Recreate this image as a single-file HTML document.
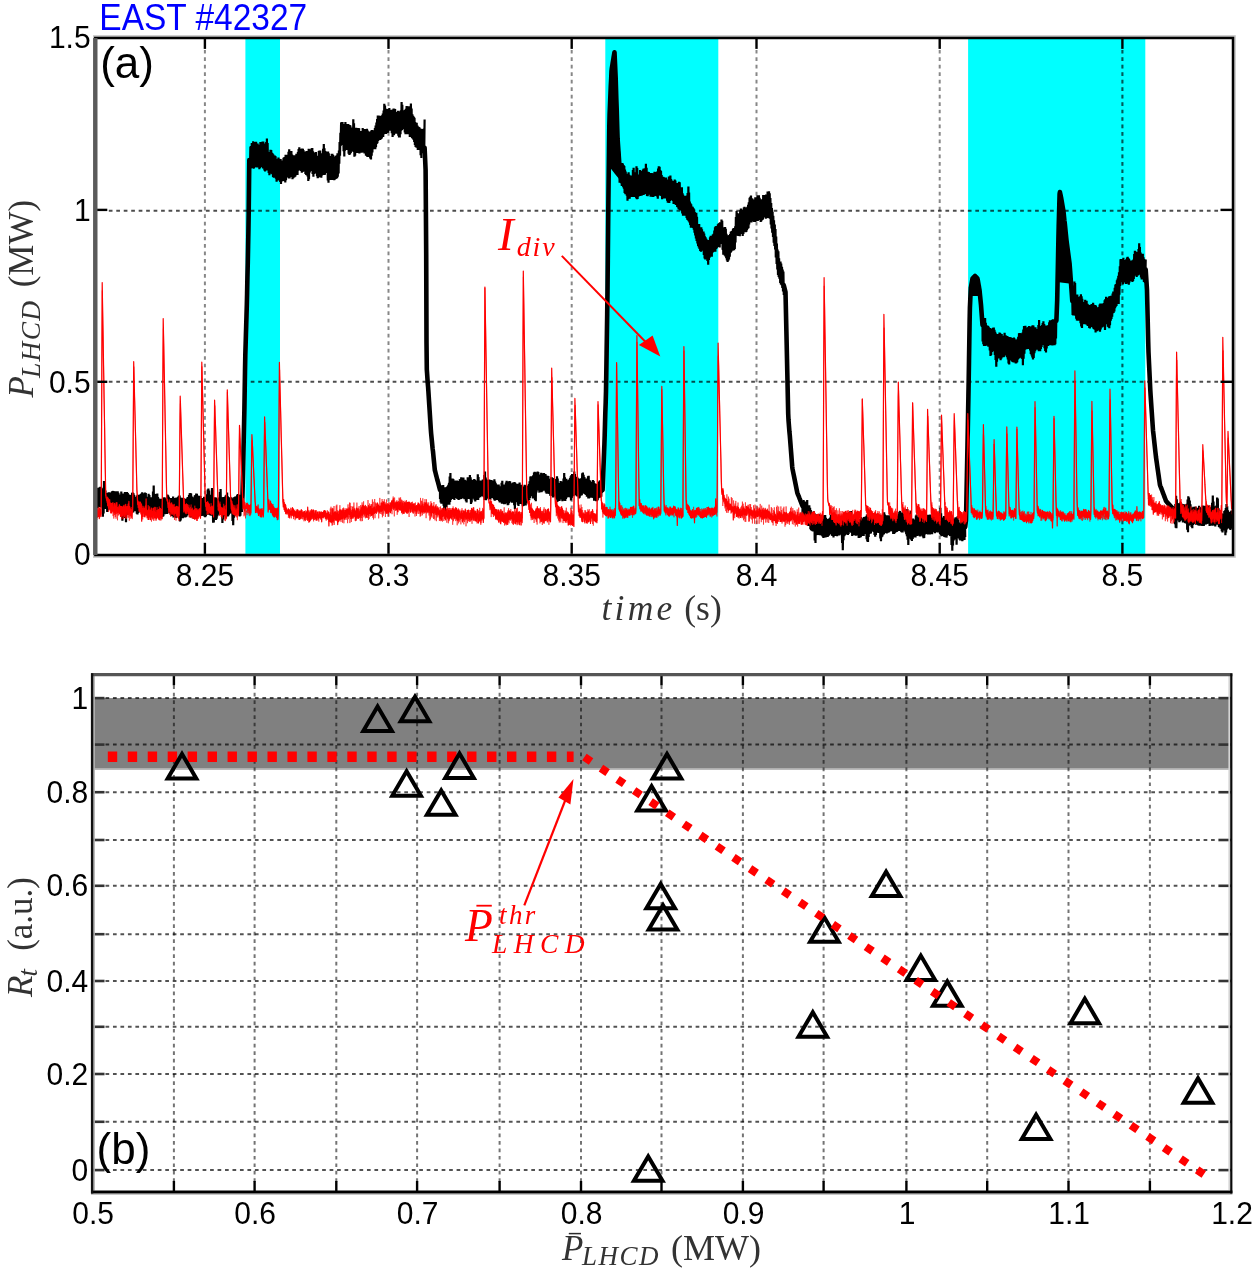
<!DOCTYPE html>
<html lang="en">
<head>
<meta charset="utf-8">
<title>EAST #42327</title>
<style>html,body{margin:0;padding:0;background:#fff}svg{display:block}</style>
</head>
<body>
<svg width="1259" height="1275" viewBox="0 0 1259 1275">
<rect x="0" y="0" width="1259" height="1275" fill="#ffffff"/>
<g id="panel-a">
<defs><clipPath id="clipA"><rect x="94.8" y="37.9" width="1137.7" height="515.9"/></clipPath></defs>
<rect x="245.4" y="37.9" width="34.6" height="515.9" fill="#00ffff"/>
<rect x="605.3" y="37.9" width="113.0" height="515.9" fill="#00ffff"/>
<rect x="968.1" y="37.9" width="177.2" height="515.9" fill="#00ffff"/>
<line x1="204.9" y1="49.9" x2="204.9" y2="543.8" stroke="#000" stroke-opacity="0.47" stroke-width="2" stroke-dasharray="3.7 3.77"/>
<line x1="388.5" y1="49.9" x2="388.5" y2="543.8" stroke="#000" stroke-opacity="0.47" stroke-width="2" stroke-dasharray="3.7 3.77"/>
<line x1="571.7" y1="49.9" x2="571.7" y2="543.8" stroke="#000" stroke-opacity="0.47" stroke-width="2" stroke-dasharray="3.7 3.77"/>
<line x1="756.5" y1="49.9" x2="756.5" y2="543.8" stroke="#000" stroke-opacity="0.47" stroke-width="2" stroke-dasharray="3.7 3.77"/>
<line x1="939.7" y1="49.9" x2="939.7" y2="543.8" stroke="#000" stroke-opacity="0.47" stroke-width="2" stroke-dasharray="3.7 3.77"/>
<line x1="1122.4" y1="49.9" x2="1122.4" y2="543.8" stroke="#000" stroke-opacity="0.47" stroke-width="2" stroke-dasharray="3.7 3.77"/>
<line x1="108.8" y1="381.8" x2="1220.5" y2="381.8" stroke="#000" stroke-opacity="0.7" stroke-width="2" stroke-dasharray="3.7 3.77"/>
<line x1="108.8" y1="210.8" x2="1220.5" y2="210.8" stroke="#000" stroke-opacity="0.7" stroke-width="2" stroke-dasharray="3.7 3.77"/>
<line x1="1122.4" y1="49.9" x2="1122.4" y2="543.8" stroke="#000" stroke-opacity="0.35" stroke-width="2" stroke-dasharray="3.7 3.77"/>
<g clip-path="url(#clipA)">
<polyline fill="none" stroke="#000000" stroke-width="2.2" stroke-linejoin="miter" stroke-miterlimit="3" points="95.0,508.2 95.4,488.5 95.7,509.5 96.1,492.3 96.4,507.5 96.8,488.0 97.2,508.5 97.5,487.7 97.9,508.1 98.2,490.6 98.6,507.1 99.0,489.6 99.3,504.8 99.7,487.3 100.0,504.6 100.4,486.7 100.8,507.4 101.1,487.2 101.5,505.2 101.8,488.2 102.2,507.3 102.6,489.6 102.9,516.7 103.3,488.2 103.6,513.5 104.0,481.0 104.4,508.6 104.7,483.6 105.1,508.8 105.4,490.6 105.8,509.0 106.2,493.0 106.5,508.9 106.9,492.9 107.2,511.9 107.6,493.9 108.0,510.2 108.3,492.6 108.7,509.4 109.0,492.2 109.4,509.2 109.8,492.4 110.1,509.3 110.5,493.8 110.8,508.4 111.2,492.8 111.6,507.4 111.9,491.6 112.3,505.5 112.6,491.1 113.0,508.0 113.4,490.9 113.7,510.2 114.1,492.6 114.4,510.3 114.8,493.1 115.2,508.0 115.5,491.2 115.9,507.8 116.2,491.3 116.6,509.5 117.0,492.1 117.3,509.1 117.7,491.3 118.0,509.2 118.4,492.8 118.8,508.8 119.1,494.5 119.5,510.7 119.8,496.3 120.2,513.7 120.6,495.3 120.9,513.6 121.3,491.6 121.6,513.8 122.0,493.4 122.4,520.8 122.7,495.7 123.1,517.6 123.4,494.1 123.8,512.2 124.2,493.6 124.5,513.3 124.9,492.1 125.2,517.9 125.6,493.3 126.0,522.3 126.3,492.1 126.7,514.9 127.0,492.0 127.4,510.9 127.8,493.1 128.1,510.0 128.5,494.5 128.8,510.6 129.2,494.6 129.6,510.5 129.9,496.4 130.3,511.2 130.6,496.0 131.0,511.3 131.4,494.9 131.7,510.9 132.1,492.8 132.4,511.7 132.8,492.4 133.2,512.6 133.5,493.2 133.9,510.7 134.2,495.0 134.6,511.3 135.0,496.8 135.3,510.8 135.7,496.9 136.0,511.1 136.4,496.9 136.8,513.6 137.1,495.4 137.5,514.4 137.8,494.8 138.2,512.9 138.6,495.5 138.9,512.1 139.3,496.4 139.6,512.0 140.0,494.7 140.4,509.7 140.7,493.9 141.1,508.4 141.4,493.4 141.8,510.5 142.2,492.3 142.5,511.2 142.9,493.2 143.2,509.7 143.6,493.8 144.0,509.7 144.3,494.3 144.7,509.6 145.0,492.5 145.4,510.5 145.8,493.0 146.1,512.4 146.5,496.8 146.8,514.5 147.2,496.9 147.6,513.7 147.9,497.0 148.3,513.8 148.6,493.8 149.0,514.2 149.4,494.9 149.7,515.0 150.1,498.5 150.4,516.5 150.8,497.5 151.2,516.5 151.5,497.2 151.9,517.3 152.2,498.4 152.6,515.3 153.0,491.5 153.3,512.2 153.7,485.4 154.0,512.3 154.4,493.7 154.8,514.2 155.1,496.7 155.5,513.1 155.8,495.6 156.2,512.4 156.6,494.1 156.9,515.0 157.3,493.6 157.6,514.2 158.0,497.1 158.4,513.7 158.7,498.6 159.1,514.0 159.4,499.2 159.8,512.7 160.2,499.1 160.5,513.6 160.9,498.7 161.2,513.8 161.6,499.9 162.0,513.7 162.3,500.0 162.7,516.9 163.0,500.2 163.4,516.4 163.8,497.6 164.1,513.3 164.5,497.2 164.8,514.1 165.2,498.4 165.6,513.6 165.9,499.2 166.3,513.1 166.6,498.4 167.0,513.9 167.4,494.4 167.7,512.6 168.1,495.2 168.4,513.3 168.8,496.9 169.2,512.3 169.5,498.5 169.9,512.7 170.2,498.0 170.6,514.4 171.0,497.9 171.3,515.7 171.7,500.2 172.0,515.9 172.4,499.4 172.8,515.2 173.1,496.4 173.5,517.4 173.8,500.0 174.2,516.9 174.6,501.4 174.9,516.6 175.3,498.1 175.6,517.5 176.0,497.8 176.4,518.0 176.7,497.6 177.1,516.6 177.4,497.7 177.8,513.3 178.2,496.7 178.5,512.2 178.9,495.9 179.2,515.1 179.6,495.5 180.0,521.6 180.3,497.4 180.7,520.4 181.0,499.1 181.4,517.8 181.8,498.9 182.1,516.4 182.5,497.8 182.8,518.3 183.2,498.0 183.6,514.9 183.9,498.4 184.3,516.6 184.6,499.4 185.0,517.5 185.4,498.7 185.7,517.3 186.1,499.8 186.4,516.7 186.8,498.5 187.2,515.4 187.5,497.3 187.9,514.1 188.2,496.9 188.6,513.7 189.0,494.9 189.3,512.0 189.7,493.2 190.0,516.9 190.4,492.9 190.8,517.6 191.1,493.6 191.5,514.6 191.8,496.4 192.2,514.6 192.6,497.5 192.9,513.7 193.3,497.8 193.6,518.7 194.0,497.2 194.4,518.2 194.7,495.5 195.1,514.0 195.4,495.1 195.8,512.3 196.2,493.6 196.5,512.6 196.9,493.8 197.2,510.8 197.6,495.5 198.0,512.4 198.3,497.9 198.7,514.8 199.0,497.3 199.4,515.7 199.8,495.8 200.1,516.0 200.5,496.1 200.8,515.3 201.2,498.3 201.6,516.1 201.9,499.9 202.3,514.6 202.6,498.1 203.0,514.2 203.4,498.0 203.7,515.7 204.1,496.8 204.4,516.6 204.8,498.4 205.2,517.2 205.5,498.7 205.9,516.3 206.2,498.3 206.6,514.6 207.0,494.3 207.3,514.0 207.7,489.5 208.0,514.7 208.4,488.5 208.8,514.2 209.1,490.4 209.5,514.3 209.8,494.7 210.2,515.3 210.6,496.5 210.9,515.6 211.3,497.7 211.6,515.7 212.0,488.0 212.4,515.4 212.7,490.0 213.1,522.7 213.4,498.9 213.8,522.6 214.2,498.1 214.5,517.5 214.9,497.2 215.2,517.7 215.6,497.2 216.0,519.9 216.3,498.0 216.7,518.7 217.0,500.8 217.4,516.1 217.8,499.9 218.1,514.3 218.5,498.8 218.8,514.0 219.2,497.6 219.6,514.6 219.9,492.1 220.3,513.6 220.6,488.9 221.0,513.0 221.4,497.3 221.7,515.0 222.1,498.1 222.4,523.0 222.8,498.4 223.2,519.5 223.5,497.0 223.9,514.6 224.2,498.2 224.6,516.3 225.0,496.8 225.3,515.2 225.7,495.6 226.0,517.8 226.4,494.8 226.8,516.4 227.1,492.6 227.5,516.4 227.8,496.2 228.2,516.1 228.6,499.5 228.9,514.7 229.3,497.7 229.6,513.7 230.0,497.4 230.4,512.5 230.7,498.1 231.1,513.3 231.4,497.3 231.8,512.2 232.2,498.3 232.5,521.1 232.9,498.8 233.2,525.3 233.6,499.4 234.0,517.7 234.3,497.0 234.7,514.3 235.0,496.7 235.4,513.6 235.8,496.4 236.1,513.9 236.5,496.8 236.8,513.3 237.2,494.7 237.6,513.0 237.9,493.9 238.3,511.6 238.6,494.6 239.0,512.5 239.4,494.8 239.7,516.6 240.1,494.8 240.4,515.8 240.8,496.3 241.2,511.8 241.5,496.0 241.9,512.0"/>
<polyline fill="none" stroke="#000000" stroke-width="4.6" stroke-linejoin="round" stroke-linecap="round" points="241.9,506.0 242.5,495.0 242.8,481.6 243.1,468.2 243.4,454.8 243.7,441.4 244.0,427.3 244.4,408.7 244.7,390.2 245.0,371.6 245.3,355.4 245.6,345.4 245.9,335.4 246.2,325.5 246.5,315.5 246.8,305.6 247.1,293.2 247.4,277.7 247.8,262.3 248.1,246.8 248.4,231.4 248.7,213.0 249.0,186.5 249.3,160.0"/>
<polyline fill="none" stroke="#000000" stroke-width="2.2" stroke-linejoin="miter" stroke-miterlimit="3" points="249.3,160.0 250.0,168.1 250.4,146.5 250.7,168.5 251.1,146.1 251.4,165.3 251.8,143.1 252.2,165.2 252.5,143.8 252.9,167.9 253.2,141.3 253.6,168.7 254.0,142.1 254.3,167.9 254.7,145.4 255.0,167.1 255.4,142.4 255.8,163.9 256.1,141.8 256.5,166.1 256.8,144.5 257.2,167.4 257.6,143.6 257.9,164.9 258.3,144.8 258.6,165.8 259.0,146.3 259.4,169.3 259.7,145.9 260.1,167.9 260.4,142.1 260.8,167.0 261.2,143.9 261.5,166.9 261.9,142.9 262.2,166.7 262.6,141.6 263.0,168.4 263.3,141.6 263.7,167.9 264.0,143.5 264.4,170.6 264.8,148.8 265.1,171.6 265.5,146.3 265.8,170.2 266.2,142.0 266.6,169.7 266.9,138.4 267.3,170.5 267.6,142.9 268.0,169.9 268.4,152.0 268.7,172.9 269.1,154.1 269.4,175.3 269.8,152.0 270.2,173.7 270.5,149.8 270.9,173.8 271.2,149.9 271.6,172.9 272.0,152.8 272.3,174.3 272.7,153.5 273.0,177.0 273.4,154.6 273.8,177.7 274.1,156.2 274.5,177.2 274.8,155.5 275.2,176.2 275.6,156.2 275.9,178.7 276.3,159.1 276.6,181.7 277.0,160.5 277.4,180.5 277.7,159.7 278.1,178.5 278.4,157.6 278.8,177.2 279.2,158.7 279.5,180.4 279.9,159.0 280.2,181.9 280.6,159.0 281.0,184.1 281.3,160.4 281.7,181.5 282.0,162.5 282.4,180.2 282.8,161.4 283.1,180.5 283.5,157.8 283.8,180.9 284.2,157.3 284.6,181.3 284.9,157.0 285.3,182.4 285.6,154.8 286.0,180.2 286.4,154.7 286.7,177.4 287.1,156.6 287.4,176.7 287.8,155.6 288.2,175.4 288.5,151.7 288.9,178.5 289.2,149.3 289.6,178.6 290.0,155.4 290.3,175.2 290.7,154.6 291.0,176.0 291.4,151.0 291.8,177.0 292.1,154.4 292.5,179.3 292.8,155.3 293.2,178.2 293.6,157.1 293.9,177.5 294.3,157.7 294.6,177.2 295.0,155.3 295.4,176.4 295.7,155.3 296.1,175.0 296.4,153.7 296.8,174.5 297.2,153.7 297.5,175.0 297.9,152.0 298.2,170.7 298.6,148.9 299.0,170.4 299.3,147.3 299.7,169.0 300.0,148.7 300.4,169.1 300.8,150.3 301.1,171.1 301.5,148.9 301.8,172.7 302.2,148.5 302.6,171.9 302.9,148.8 303.3,170.7 303.6,150.3 304.0,169.2 304.4,152.0 304.7,171.4 305.1,151.8 305.4,173.9 305.8,153.0 306.2,175.0 306.5,151.0 306.9,175.2 307.2,151.9 307.6,176.5 308.0,151.8 308.3,180.9 308.7,148.8 309.0,179.2 309.4,150.6 309.8,172.6 310.1,150.1 310.5,171.1 310.8,149.3 311.2,170.9 311.6,148.2 311.9,169.6 312.3,147.9 312.6,174.0 313.0,151.2 313.4,176.7 313.7,153.2 314.1,173.9 314.4,154.3 314.8,171.9 315.2,152.5 315.5,172.7 315.9,152.0 316.2,173.5 316.6,155.7 317.0,176.3 317.3,158.1 317.7,178.3 318.0,156.6 318.4,177.8 318.8,151.0 319.1,176.9 319.5,150.4 319.8,173.7 320.2,150.5 320.6,173.8 320.9,153.2 321.3,177.8 321.6,153.7 322.0,175.4 322.4,155.2 322.7,173.7 323.1,148.7 323.4,174.2 323.8,144.1 324.2,175.1 324.5,148.3 324.9,174.8 325.2,150.9 325.6,173.1 326.0,154.1 326.3,172.0 326.7,151.5 327.0,173.0 327.4,151.7 327.8,180.5 328.1,151.5 328.5,182.7 328.8,153.3 329.2,179.8 329.6,155.9 329.9,178.9 330.3,157.6 330.6,179.9 331.0,156.2 331.4,178.9 331.7,153.8 332.1,179.9 332.4,153.7 332.8,179.4 333.2,154.9 333.5,179.4 333.9,156.9 334.2,180.2 334.6,157.5 335.0,179.6 335.3,156.5 335.7,179.0 336.0,155.8 336.4,178.5 336.8,155.2 337.1,178.2 337.5,153.3 337.8,176.7 338.2,155.2 338.6,173.6 338.9,150.6 339.3,163.8 339.6,142.0 340.0,155.7 340.4,132.8 340.7,145.9 341.1,122.6 341.4,142.5 341.8,121.9 342.2,144.1 342.5,122.1 342.9,145.0 343.2,125.3 343.6,151.2 344.0,126.7 344.3,156.6 344.7,123.9 345.0,150.7 345.4,122.1 345.8,147.3 346.1,124.9 346.5,149.9 346.8,126.3 347.2,149.6 347.6,124.1 347.9,149.0 348.3,124.0 348.6,153.8 349.0,124.9 349.4,155.1 349.7,125.0 350.1,154.2 350.4,125.5 350.8,153.1 351.2,127.6 351.5,151.4 351.9,128.8 352.2,149.6 352.6,127.7 353.0,151.2 353.3,119.3 353.7,151.9 354.0,123.2 354.4,156.7 354.8,130.5 355.1,155.7 355.5,127.8 355.8,152.2 356.2,127.8 356.6,152.6 356.9,130.8 357.3,153.1 357.6,129.6 358.0,152.0 358.4,127.9 358.7,151.3 359.1,128.2 359.4,153.5 359.8,131.1 360.2,152.3 360.5,133.6 360.9,152.0 361.2,131.0 361.6,152.8 362.0,131.1 362.3,152.1 362.7,127.9 363.0,152.1 363.4,132.2 363.8,152.6 364.1,132.8 364.5,153.5 364.8,129.1 365.2,153.4 365.6,132.7 365.9,155.5 366.3,133.8 366.6,155.9 367.0,128.7 367.4,156.9 367.7,130.6 368.1,156.9 368.4,133.4 368.8,156.9 369.2,132.6 369.5,155.9 369.9,131.5 370.2,158.6 370.6,131.4 371.0,159.4 371.3,130.5 371.7,155.7 372.0,130.0 372.4,152.6 372.8,131.2 373.1,149.3 373.5,131.5 373.8,147.3 374.2,130.3 374.6,147.8 374.9,127.9 375.3,149.3 375.6,125.6 376.0,147.2 376.4,122.4 376.7,144.0 377.1,119.0 377.4,143.3 377.8,115.4 378.2,141.0 378.5,115.4 378.9,139.6 379.2,115.8 379.6,139.5 380.0,119.3 380.3,139.9 380.7,118.1 381.0,139.1 381.4,115.8 381.8,138.5 382.1,115.2 382.5,137.0 382.8,113.6 383.2,137.1 383.6,110.5 383.9,134.2 384.3,103.7 384.6,130.9 385.0,105.5 385.4,134.1 385.7,112.4 386.1,133.9 386.4,108.8 386.8,130.4 387.2,108.9 387.5,132.9 387.9,111.6 388.2,132.4 388.6,110.0 389.0,129.2 389.3,108.1 389.7,129.4 390.0,109.8 390.4,130.7 390.8,109.7 391.1,130.5 391.5,110.3 391.8,133.2 392.2,110.7 392.6,137.1 392.9,109.4 393.3,135.2 393.6,108.5 394.0,135.2 394.4,108.7 394.7,133.0 395.1,109.1 395.4,133.1 395.8,112.0 396.2,133.8 396.5,112.9 396.9,133.8 397.2,112.1 397.6,133.6 398.0,110.8 398.3,135.8 398.7,111.2 399.0,137.5 399.4,111.4 399.8,137.6 400.1,112.0 400.5,134.2 400.8,110.3 401.2,130.8 401.6,101.9 401.9,129.9 402.3,104.7 402.6,129.3 403.0,112.5 403.4,129.0 403.7,111.4 404.1,128.4 404.4,110.2 404.8,132.6 405.2,109.7 405.5,134.2 405.9,108.8 406.2,130.6 406.6,106.0 407.0,131.8 407.3,107.5 407.7,134.3 408.0,108.0 408.4,131.6 408.8,106.2 409.1,132.9 409.5,107.1 409.8,137.0 410.2,107.2 410.6,135.3 410.9,103.6 411.3,135.5 411.6,108.6 412.0,137.9 412.4,114.3 412.7,138.8 413.1,115.7 413.4,139.8 413.8,116.7 414.2,141.9 414.5,117.7 414.9,145.1 415.2,122.0 415.6,147.1 416.0,123.6 416.3,147.4 416.7,122.8 417.0,147.8 417.4,125.4 417.8,150.0 418.1,126.5 418.5,148.5 418.8,126.9 419.2,148.0 419.6,127.5 419.9,149.9 420.3,130.5 420.6,155.2 421.0,128.7 421.4,158.1 421.7,129.1 422.1,152.9 422.4,130.7 422.8,150.6 423.2,130.9 423.5,153.2 423.9,128.4 424.2,154.4 424.6,119.6"/>
<polyline fill="none" stroke="#000000" stroke-width="4.6" stroke-linejoin="round" stroke-linecap="round" points="424.6,147.7 425.6,170.0 425.9,210.9 426.2,253.7 426.5,342.6 426.8,369.3 427.1,373.7 427.4,378.1 427.7,382.5 428.1,387.0 428.4,391.4 428.7,396.1 429.0,400.8 429.3,405.5 429.6,410.2 429.9,414.9 430.2,419.6 430.5,424.3 430.8,429.1 431.1,433.1 431.4,436.2 431.7,439.3 432.0,442.3 432.3,445.4 432.6,448.5 433.0,451.5 433.3,454.6 433.6,457.7 433.9,460.7 434.2,463.8 434.5,466.9 434.8,469.9 435.1,471.1 435.4,472.3 435.7,473.5 436.0,474.7 436.3,475.9 436.6,477.0 436.9,478.2 437.2,479.4 437.5,480.6 437.9,481.8 438.2,482.9 438.5,484.1 438.8,485.3 439.1,486.5 439.4,487.6 439.7,488.8 440.0,490.0"/>
<polyline fill="none" stroke="#000000" stroke-width="2.2" stroke-linejoin="miter" stroke-miterlimit="3" points="440.0,490.0 440.0,498.9 440.4,485.0 440.7,502.4 441.1,485.4 441.4,503.7 441.8,485.8 442.2,502.4 442.5,486.5 442.9,502.3 443.2,484.9 443.6,505.8 444.0,487.3 444.3,513.6 444.7,489.0 445.0,513.6 445.4,488.0 445.8,506.4 446.1,487.3 446.5,507.3 446.8,486.9 447.2,504.7 447.6,486.1 447.9,500.2 448.3,484.7 448.6,503.6 449.0,482.8 449.4,504.8 449.7,476.5 450.1,502.1 450.4,473.1 450.8,500.1 451.2,478.8 451.5,498.2 451.9,480.7 452.2,499.0 452.6,478.4 453.0,498.2 453.3,478.9 453.7,497.1 454.0,481.8 454.4,499.9 454.8,480.5 455.1,498.0 455.5,481.4 455.8,497.8 456.2,482.1 456.6,497.4 456.9,480.5 457.3,499.1 457.6,481.2 458.0,499.3 458.4,483.7 458.7,500.0 459.1,481.1 459.4,499.2 459.8,479.2 460.2,499.3 460.5,479.0 460.9,499.0 461.2,477.2 461.6,498.0 462.0,477.4 462.3,498.5 462.7,479.0 463.0,497.4 463.4,477.6 463.8,498.6 464.1,479.8 464.5,499.2 464.8,479.7 465.2,499.3 465.6,481.1 465.9,501.3 466.3,482.0 466.6,502.4 467.0,480.5 467.4,495.9 467.7,477.2 468.1,496.0 468.4,478.7 468.8,499.1 469.2,478.0 469.5,497.4 469.9,475.1 470.2,499.3 470.6,477.3 471.0,504.0 471.3,479.6 471.7,502.4 472.0,480.0 472.4,498.5 472.8,480.3 473.1,498.7 473.5,480.8 473.8,498.6 474.2,478.9 474.6,500.3 474.9,479.8 475.3,501.4 475.6,483.8 476.0,499.6 476.4,482.7 476.7,499.7 477.1,480.4 477.4,499.9 477.8,474.2 478.2,500.0 478.5,477.0 478.9,497.7 479.2,480.8 479.6,496.6 480.0,480.7 480.3,497.2 480.7,480.6 481.0,496.0 481.4,483.0 481.8,496.2 482.1,480.4 482.5,494.8 482.8,479.4 483.2,496.4 483.6,480.0 483.9,497.3 484.3,475.1 484.6,500.1 485.0,471.5 485.4,499.7 485.7,477.5 486.1,500.3 486.4,479.3 486.8,498.8 487.2,480.0 487.5,497.4 487.9,480.5 488.2,497.1 488.6,482.2 489.0,498.1 489.3,479.5 489.7,499.4 490.0,480.3 490.4,499.4 490.8,480.0 491.1,498.0 491.5,480.0 491.8,497.3 492.2,481.7 492.6,497.1 492.9,482.5 493.3,498.2 493.6,480.7 494.0,499.5 494.4,479.2 494.7,500.7 495.1,481.5 495.4,500.1 495.8,483.3 496.2,498.9 496.5,484.8 496.9,499.1 497.2,485.1 497.6,499.9 498.0,484.6 498.3,499.6 498.7,484.5 499.0,501.3 499.4,486.3 499.8,502.5 500.1,487.4 500.5,501.5 500.8,487.3 501.2,501.3 501.6,482.7 501.9,503.8 502.3,480.8 502.6,501.7 503.0,484.6 503.4,501.2 503.7,486.4 504.1,504.3 504.4,487.2 504.8,504.2 505.2,484.5 505.5,502.4 505.9,482.4 506.2,502.8 506.6,480.8 507.0,503.5 507.3,483.8 507.7,505.3 508.0,485.7 508.4,504.7 508.8,481.5 509.1,502.9 509.5,481.1 509.8,500.9 510.2,481.6 510.6,499.4 510.9,483.3 511.3,501.8 511.6,485.5 512.0,502.6 512.4,483.5 512.7,501.1 513.1,482.5 513.4,500.2 513.8,482.7 514.2,505.3 514.5,482.1 514.9,508.9 515.2,482.8 515.6,502.3 516.0,485.6 516.3,501.9 516.7,485.4 517.0,502.3 517.4,483.8 517.8,504.8 518.1,484.7 518.5,506.1 518.8,483.7 519.2,499.2 519.6,482.5 519.9,501.2 520.3,485.0 520.6,504.0 521.0,484.8 521.4,501.1 521.7,487.0 522.1,504.2 522.4,490.0 522.8,506.1 523.2,489.3 523.5,506.0 523.9,486.6 524.2,504.6 524.6,484.8 525.0,504.4 525.3,485.2 525.7,505.6 526.0,486.0 526.4,503.3 526.8,485.5 527.1,501.8 527.5,485.5 527.8,501.0 528.2,485.7 528.6,500.0 528.9,484.0 529.3,500.2 529.6,481.2 530.0,498.1 530.4,476.5 530.7,495.1 531.1,476.3 531.4,496.3 531.8,478.2 532.2,496.1 532.5,476.5 532.9,498.4 533.2,475.3 533.6,496.2 534.0,472.4 534.3,490.5 534.7,471.8 535.0,500.1 535.4,475.4 535.8,501.2 536.1,473.3 536.5,492.6 536.8,472.3 537.2,490.3 537.6,471.6 537.9,488.6 538.3,472.0 538.6,490.4 539.0,475.4 539.4,492.6 539.7,476.3 540.1,490.3 540.4,474.4 540.8,490.7 541.2,472.8 541.5,492.1 541.9,474.5 542.2,491.4 542.6,473.5 543.0,490.1 543.3,473.2 543.7,490.7 544.0,473.0 544.4,490.5 544.8,473.9 545.1,490.5 545.5,474.0 545.8,492.5 546.2,475.6 546.6,493.8 546.9,476.8 547.3,493.7 547.6,475.7 548.0,490.9 548.4,475.9 548.7,492.2 549.1,479.0 549.4,494.1 549.8,478.7 550.2,495.7 550.5,479.2 550.9,494.2 551.2,477.3 551.6,493.8 552.0,477.2 552.3,496.1 552.7,478.3 553.0,497.5 553.4,478.1 553.8,496.5 554.1,478.9 554.5,496.3 554.8,479.0 555.2,495.6 555.6,480.0 555.9,497.7 556.3,480.6 556.6,499.5 557.0,476.3 557.4,502.1 557.7,478.5 558.1,501.0 558.4,482.9 558.8,500.1 559.2,483.1 559.5,500.9 559.9,483.3 560.2,498.9 560.6,481.1 561.0,499.0 561.3,481.6 561.7,499.5 562.0,483.7 562.4,501.2 562.8,483.1 563.1,500.8 563.5,478.6 563.8,500.2 564.2,472.9 564.6,497.9 564.9,477.2 565.3,501.0 565.6,480.9 566.0,499.0 566.4,478.7 566.7,496.9 567.1,480.7 567.4,497.4 567.8,482.0 568.2,497.0 568.5,480.2 568.9,495.6 569.2,479.5 569.6,496.3 570.0,478.1 570.3,497.6 570.7,476.2 571.0,500.5 571.4,474.9 571.8,498.1 572.1,473.9 572.5,496.5 572.8,475.2 573.2,496.0 573.6,477.5 573.9,495.6 574.3,471.4 574.6,494.7 575.0,474.1 575.4,495.3 575.7,479.7 576.1,494.5 576.4,477.6 576.8,496.2 577.2,476.8 577.5,496.5 577.9,478.2 578.2,496.3 578.6,479.1 579.0,498.4 579.3,479.4 579.7,497.7 580.0,478.8 580.4,495.8 580.8,478.3 581.1,495.4 581.5,478.9 581.8,495.2 582.2,473.3 582.6,493.6 582.9,472.5 583.3,492.2 583.6,474.7 584.0,493.0 584.4,477.0 584.7,493.9 585.1,478.8 585.4,494.4 585.8,478.6 586.2,494.9 586.5,479.4 586.9,496.8 587.2,480.3 587.6,496.8 588.0,476.2 588.3,498.4 588.7,475.8 589.0,498.4 589.4,481.6 589.8,496.8 590.1,480.4 590.5,497.0 590.8,481.7 591.2,497.6 591.6,482.5 591.9,497.3 592.3,481.8 592.6,497.2 593.0,480.0 593.4,498.1 593.7,481.1 594.1,500.8 594.4,483.0 594.8,499.9 595.2,484.3 595.5,500.4 595.9,483.9 596.2,501.3 596.6,483.8 597.0,501.3 597.3,485.2 597.7,500.3 598.0,484.3 598.4,498.1 598.8,482.0 599.1,497.0 599.5,480.7 599.8,497.8 600.2,480.3 600.6,496.9 600.9,480.3 601.3,496.8 601.6,483.1"/>
<polyline fill="none" stroke="#000000" stroke-width="4.6" stroke-linejoin="round" stroke-linecap="round" points="601.6,490.8 602.6,490.0 602.9,482.4 603.2,474.7 603.5,467.1 603.8,459.5 604.1,451.8 604.4,444.2 604.7,435.1 605.0,424.2 605.3,413.2 605.7,402.3 606.0,391.4 606.3,372.9 606.6,353.3 606.9,333.7 607.2,314.0 607.5,291.3 607.8,260.7 608.1,230.2 608.4,199.7 608.7,175.3 609.0,150.8 609.3,126.4 609.6,114.6 609.9,107.4 610.2,100.1 610.5,92.8 610.8,85.5 611.2,78.3 611.5,71.0 611.8,68.4 612.1,66.6 612.4,64.8 612.7,62.9 613.0,61.1 613.3,59.3 613.6,57.4 613.9,55.6 614.2,53.8 614.5,52.3 614.8,58.9 615.1,65.4 615.4,72.0 615.7,78.6 616.0,88.2 616.3,98.6 616.7,109.0 617.0,119.5 617.3,129.9 617.6,139.0 617.9,143.3 618.2,147.6 618.5,152.0 618.8,156.3 619.1,160.7 619.4,165.0"/>
<polyline fill="none" stroke="#000000" stroke-width="2.2" stroke-linejoin="miter" stroke-miterlimit="3" points="619.4,165.0 619.6,182.7 620.0,163.9 620.3,182.4 620.7,164.5 621.0,183.3 621.4,163.3 621.8,186.0 622.1,163.1 622.5,185.3 622.8,163.5 623.2,187.2 623.6,164.9 623.9,188.8 624.3,165.9 624.6,193.1 625.0,169.5 625.4,194.2 625.7,171.4 626.1,194.0 626.4,174.6 626.8,195.8 627.2,175.9 627.5,200.7 627.9,173.7 628.2,199.0 628.6,172.3 629.0,198.5 629.3,174.8 629.7,198.7 630.0,175.4 630.4,197.0 630.8,175.6 631.1,196.6 631.5,176.1 631.8,197.1 632.2,175.5 632.6,196.9 632.9,170.0 633.3,196.7 633.6,167.8 634.0,196.9 634.4,173.7 634.7,196.4 635.1,174.6 635.4,196.6 635.8,172.3 636.2,198.2 636.5,166.3 636.9,199.3 637.2,168.1 637.6,199.1 638.0,176.6 638.3,196.8 638.7,176.9 639.0,195.2 639.4,174.4 639.8,195.1 640.1,170.0 640.5,196.1 640.8,170.9 641.2,194.9 641.6,173.2 641.9,195.5 642.3,171.0 642.6,195.0 643.0,169.4 643.4,194.9 643.7,168.4 644.1,194.6 644.4,170.3 644.8,194.0 645.2,168.2 645.5,193.5 645.9,163.8 646.2,193.4 646.6,167.8 647.0,195.9 647.3,174.7 647.7,196.3 648.0,171.7 648.4,194.7 648.8,171.9 649.1,193.2 649.5,173.0 649.8,194.4 650.2,173.6 650.6,196.8 650.9,174.9 651.3,196.3 651.6,173.1 652.0,194.1 652.4,173.7 652.7,196.9 653.1,175.5 653.4,197.0 653.8,173.3 654.2,194.2 654.5,171.7 654.9,194.9 655.2,172.1 655.6,195.9 656.0,173.6 656.3,194.8 656.7,172.8 657.0,196.6 657.4,171.2 657.8,198.7 658.1,168.4 658.5,195.6 658.8,166.3 659.2,193.8 659.6,166.8 659.9,194.3 660.3,169.9 660.6,195.7 661.0,170.9 661.4,195.9 661.7,174.9 662.1,199.2 662.4,176.8 662.8,197.9 663.2,176.8 663.5,197.5 663.9,177.2 664.2,198.4 664.6,177.4 665.0,198.4 665.3,177.8 665.7,197.1 666.0,177.4 666.4,198.4 666.8,179.4 667.1,200.8 667.5,180.6 667.8,202.7 668.2,180.8 668.6,202.7 668.9,176.6 669.3,202.9 669.6,176.7 670.0,201.1 670.4,175.5 670.7,199.6 671.1,179.1 671.4,200.3 671.8,180.6 672.2,199.7 672.5,180.9 672.9,200.9 673.2,182.3 673.6,204.1 674.0,181.3 674.3,204.1 674.7,179.5 675.0,203.5 675.4,180.5 675.8,205.0 676.1,183.3 676.5,204.6 676.8,182.9 677.2,207.0 677.6,182.9 677.9,207.5 678.3,184.3 678.6,209.3 679.0,181.8 679.4,209.7 679.7,182.3 680.1,210.2 680.4,190.1 680.8,209.2 681.2,188.7 681.5,210.7 681.9,187.3 682.2,213.4 682.6,193.2 683.0,215.7 683.3,194.7 683.7,215.3 684.0,195.9 684.4,215.8 684.8,196.6 685.1,214.9 685.5,196.2 685.8,215.8 686.2,195.7 686.6,218.1 686.9,195.5 687.3,219.8 687.6,192.9 688.0,220.2 688.4,186.5 688.7,221.3 689.1,192.5 689.4,222.4 689.8,201.6 690.2,224.9 690.5,203.3 690.9,227.7 691.2,204.3 691.6,226.6 692.0,206.5 692.3,225.5 692.7,206.7 693.0,227.9 693.4,207.9 693.8,229.8 694.1,209.3 694.5,232.7 694.8,212.0 695.2,235.5 695.6,214.1 695.9,238.5 696.3,212.7 696.6,241.1 697.0,216.8 697.4,243.5 697.7,225.6 698.1,245.9 698.4,224.8 698.8,247.4 699.2,224.0 699.5,248.9 699.9,227.2 700.2,251.0 700.6,228.5 701.0,251.8 701.3,227.2 701.7,249.8 702.0,229.3 702.4,248.8 702.8,231.7 703.1,250.7 703.5,231.4 703.8,254.9 704.2,233.4 704.6,258.6 704.9,236.3 705.3,259.6 705.6,237.2 706.0,258.7 706.4,238.8 706.7,257.6 707.1,240.4 707.4,261.1 707.8,240.2 708.2,264.7 708.5,240.0 708.9,260.0 709.2,240.1 709.6,257.8 710.0,237.3 710.3,256.8 710.7,235.7 711.0,256.4 711.4,236.7 711.8,256.8 712.1,235.9 712.5,252.7 712.8,234.4 713.2,252.0 713.6,233.7 713.9,251.8 714.3,230.5 714.6,251.8 715.0,227.2 715.4,251.7 715.7,226.2 716.1,249.1 716.4,226.0 716.8,248.2 717.2,226.8 717.5,247.0 717.9,224.3 718.2,245.8 718.6,223.4 719.0,246.3 719.3,223.1 719.7,247.5 720.0,222.3 720.4,242.4 720.8,222.8 721.1,242.4 721.5,219.5 721.8,244.1 722.2,220.8 722.6,249.8 722.9,227.3 723.3,254.7 723.6,229.4 724.0,254.5 724.4,228.6 724.7,255.5 725.1,227.0 725.4,256.4 725.8,228.7 726.2,258.3 726.5,233.7 726.9,260.4 727.2,235.8 727.6,262.0 728.0,235.7 728.3,260.7 728.7,235.3 729.0,259.5 729.4,234.9 729.8,256.7 730.1,234.1 730.5,253.1 730.8,231.7 731.2,251.9 731.6,231.0 731.9,250.0 732.3,230.7 732.6,250.8 733.0,228.8 733.4,250.1 733.7,227.9 734.1,250.3 734.4,230.3 734.8,248.9 735.2,226.2 735.5,242.5 735.9,217.1 736.2,235.6 736.6,210.9 737.0,234.4 737.3,213.0 737.7,235.7 738.0,214.7 738.4,235.9 738.8,214.1 739.1,234.3 739.5,213.4 739.8,236.2 740.2,210.2 740.6,233.8 740.9,208.4 741.3,231.9 741.6,211.1 742.0,234.1 742.4,210.7 742.7,236.0 743.1,209.6 743.4,234.1 743.8,207.4 744.2,232.3 744.5,206.7 744.9,232.3 745.2,207.4 745.6,232.2 746.0,210.4 746.3,231.9 746.7,209.0 747.0,230.3 747.4,206.7 747.8,228.7 748.1,204.8 748.5,228.3 748.8,202.3 749.2,224.6 749.6,197.7 749.9,222.5 750.3,196.7 750.6,220.0 751.0,195.6 751.4,222.5 751.7,198.3 752.1,221.6 752.4,198.4 752.8,218.7 753.2,199.9 753.5,220.8 753.9,201.8 754.2,222.0 754.6,199.6 755.0,222.1 755.3,197.2 755.7,221.5 756.0,197.8 756.4,219.7 756.8,197.7 757.1,220.0 757.5,195.3 757.8,221.0 758.2,195.3 758.6,219.8 758.9,195.3 759.3,219.9 759.6,197.7 760.0,219.8 760.4,199.8 760.7,222.1 761.1,200.3 761.4,221.3 761.8,199.3 762.2,220.1 762.5,199.3 762.9,219.4 763.2,195.0 763.6,217.5 764.0,197.4 764.3,216.0 764.7,197.1 765.0,216.1 765.4,195.1 765.8,218.8 766.1,194.6 766.5,218.1 766.8,194.7 767.2,216.9 767.6,191.5 767.9,216.2 768.3,191.4 768.6,218.2 769.0,191.3 769.4,216.9 769.7,193.2 770.1,218.8 770.4,198.0 770.8,224.5 771.2,202.9 771.5,228.5 771.9,208.0 772.2,232.7 772.6,211.8 773.0,236.9 773.3,215.8 773.7,242.7 774.0,220.3 774.4,246.0 774.8,224.5 775.1,249.5 775.5,229.1 775.8,257.4 776.2,236.5 776.6,263.9 776.9,243.6 777.3,269.6 777.6,249.6 778.0,274.9 778.4,251.3 778.7,277.0 779.1,258.3 779.4,278.8 779.8,261.4 780.2,283.1 780.5,261.4 780.9,284.5 781.2,263.6 781.6,285.2 782.0,266.8 782.3,288.0 782.7,269.4 783.0,291.4 783.4,271.4 783.8,294.9"/>
<polyline fill="none" stroke="#000000" stroke-width="4.6" stroke-linejoin="round" stroke-linecap="round" points="783.8,285.2 785.5,292.0 785.8,305.2 786.1,318.5 786.4,331.7 786.7,345.2 787.0,358.9 787.3,372.7 787.6,386.4 787.9,400.2 788.2,413.9 788.5,420.0 788.8,423.9 789.1,427.7 789.4,431.6 789.8,435.5 790.1,439.4 790.4,443.2 790.7,447.1 791.0,451.0 791.3,454.8 791.6,458.7 791.9,462.6 792.2,466.5 792.5,468.9 792.8,470.4 793.1,471.9 793.4,473.4 793.7,474.8 794.0,476.3 794.3,477.8 794.6,479.3 794.9,480.8 795.2,482.3 795.5,483.8 795.8,485.3 796.1,486.8 796.4,488.2 796.7,489.7 797.0,491.2 797.3,492.7 797.6,493.6 797.9,494.4 798.2,495.2 798.6,495.9 798.9,496.7 799.2,497.5 799.5,498.3 799.8,499.0 800.1,499.8 800.4,500.6 800.7,501.4 801.0,502.1 801.3,502.9 801.6,503.7 801.9,504.5 802.2,505.2 802.5,506.0"/>
<polyline fill="none" stroke="#000000" stroke-width="2.2" stroke-linejoin="miter" stroke-miterlimit="3" points="802.5,506.0 802.5,520.7 802.9,502.2 803.2,521.4 803.6,500.0 803.9,518.8 804.3,501.3 804.7,517.5 805.0,503.0 805.4,519.9 805.7,503.5 806.1,521.5 806.5,501.8 806.8,520.6 807.2,500.0 807.5,523.1 807.9,505.9 808.3,526.0 808.6,507.3 809.0,524.5 809.3,505.2 809.7,524.7 810.1,507.7 810.4,529.3 810.8,509.9 811.1,530.3 811.5,513.1 811.9,530.7 812.2,513.1 812.6,531.2 812.9,511.9 813.3,531.5 813.7,511.3 814.0,529.4 814.4,513.1 814.7,540.4 815.1,515.2 815.5,542.9 815.8,514.4 816.2,535.2 816.5,514.8 816.9,534.1 817.3,514.3 817.6,535.0 818.0,514.4 818.3,535.1 818.7,513.9 819.1,535.0 819.4,514.9 819.8,535.2 820.1,516.3 820.5,534.9 820.9,518.6 821.2,534.2 821.6,515.7 821.9,535.7 822.3,515.2 822.7,536.8 823.0,519.4 823.4,538.1 823.7,517.5 824.1,537.3 824.5,515.2 824.8,535.6 825.2,515.0 825.5,537.6 825.9,517.7 826.3,535.6 826.6,521.2 827.0,535.3 827.3,519.2 827.7,536.9 828.1,519.0 828.4,536.0 828.8,518.5 829.1,535.3 829.5,519.2 829.9,533.9 830.2,517.4 830.6,533.2 830.9,514.6 831.3,534.2 831.7,514.4 832.0,535.7 832.4,517.1 832.7,535.9 833.1,518.0 833.5,537.6 833.8,518.6 834.2,535.6 834.5,518.9 834.9,534.9 835.3,519.9 835.6,536.0 836.0,520.5 836.3,536.0 836.7,517.5 837.1,536.3 837.4,517.5 837.8,533.5 838.1,517.7 838.5,534.3 838.9,516.2 839.2,535.6 839.6,515.9 839.9,534.3 840.3,515.8 840.7,534.1 841.0,518.5 841.4,534.6 841.7,521.8 842.1,542.9 842.5,521.3 842.8,550.2 843.2,519.3 843.5,540.2 843.9,517.0 844.3,536.3 844.6,515.0 845.0,535.3 845.3,512.5 845.7,533.4 846.1,515.1 846.4,532.5 846.8,513.5 847.1,534.5 847.5,513.3 847.9,535.0 848.2,517.5 848.6,533.9 848.9,518.4 849.3,532.2 849.7,517.2 850.0,531.6 850.4,510.9 850.7,531.2 851.1,511.0 851.5,533.0 851.8,517.8 852.2,535.9 852.5,519.9 852.9,535.2 853.3,519.9 853.6,535.1 854.0,518.9 854.3,535.3 854.7,519.9 855.1,535.3 855.4,520.2 855.8,535.8 856.1,517.9 856.5,534.4 856.9,519.2 857.2,535.4 857.6,520.6 857.9,535.3 858.3,519.2 858.7,538.1 859.0,519.1 859.4,537.9 859.7,519.7 860.1,537.2 860.5,518.6 860.8,537.2 861.2,517.1 861.5,534.4 861.9,518.4 862.3,533.5 862.6,519.6 863.0,536.0 863.3,520.6 863.7,536.0 864.1,516.9 864.4,534.0 864.8,516.8 865.1,533.3 865.5,517.3 865.9,532.9 866.2,516.3 866.6,539.3 866.9,514.6 867.3,541.5 867.7,514.3 868.0,541.9 868.4,514.2 868.7,536.9 869.1,515.0 869.5,533.9 869.8,515.8 870.2,533.5 870.5,515.2 870.9,533.4 871.3,514.3 871.6,531.6 872.0,513.2 872.3,529.5 872.7,514.1 873.1,531.2 873.4,515.0 873.8,532.0 874.1,515.7 874.5,534.9 874.9,516.7 875.2,536.8 875.6,517.4 875.9,535.1 876.3,516.3 876.7,532.8 877.0,513.7 877.4,532.0 877.7,514.6 878.1,531.6 878.5,515.7 878.8,533.1 879.2,514.6 879.5,532.7 879.9,514.9 880.3,538.6 880.6,517.6 881.0,541.2 881.3,516.2 881.7,537.2 882.1,517.0 882.4,536.4 882.8,519.6 883.1,534.7 883.5,517.1 883.9,534.4 884.2,512.3 884.6,532.6 884.9,514.4 885.3,532.2 885.7,515.4 886.0,533.0 886.4,516.6 886.7,533.4 887.1,515.2 887.5,532.4 887.8,515.3 888.2,532.8 888.5,517.6 888.9,532.2 889.3,515.3 889.6,531.2 890.0,515.7 890.3,531.4 890.7,515.4 891.1,529.3 891.4,514.4 891.8,529.8 892.1,512.2 892.5,531.3 892.9,515.5 893.2,533.9 893.6,518.1 893.9,534.0 894.3,518.0 894.7,533.4 895.0,517.8 895.4,532.5 895.7,517.3 896.1,531.6 896.5,515.4 896.8,532.0 897.2,515.5 897.5,531.2 897.9,515.6 898.3,531.1 898.6,513.7 899.0,531.0 899.3,511.7 899.7,528.3 900.1,510.9 900.4,529.2 900.8,512.7 901.1,531.7 901.5,512.4 901.9,532.6 902.2,512.6 902.6,532.5 902.9,512.3 903.3,530.7 903.7,514.8 904.0,530.1 904.4,514.2 904.7,529.6 905.1,515.8 905.5,532.3 905.8,517.5 906.2,534.2 906.5,514.3 906.9,536.3 907.3,509.1 907.6,539.7 908.0,517.4 908.3,544.9 908.7,519.8 909.1,538.8 909.4,519.8 909.8,537.4 910.1,512.8 910.5,537.2 910.9,510.8 911.2,539.8 911.6,518.5 911.9,540.9 912.3,519.4 912.7,539.0 913.0,518.4 913.4,537.4 913.7,520.5 914.1,536.3 914.5,520.5 914.8,537.3 915.2,519.6 915.5,537.5 915.9,515.4 916.3,535.9 916.6,514.5 917.0,535.9 917.3,517.6 917.7,535.4 918.1,518.3 918.4,534.8 918.8,516.7 919.1,535.7 919.5,516.3 919.9,536.5 920.2,516.7 920.6,535.8 920.9,517.4 921.3,534.5 921.7,516.6 922.0,533.6 922.4,518.0 922.7,536.8 923.1,516.6 923.5,538.2 923.8,516.4 924.2,538.0 924.5,514.5 924.9,534.6 925.3,514.5 925.6,533.9 926.0,515.7 926.3,533.5 926.7,515.7 927.1,533.2 927.4,515.6 927.8,534.6 928.1,514.8 928.5,533.9 928.9,516.1 929.2,534.6 929.6,515.1 929.9,534.4 930.3,514.6 930.7,534.0 931.0,516.5 931.4,534.0 931.7,517.1 932.1,534.2 932.5,517.5 932.8,532.2 933.2,515.9 933.5,530.0 933.9,516.1 934.3,531.6 934.6,516.1 935.0,533.3 935.3,515.5 935.7,529.8 936.1,514.9 936.4,530.3 936.8,514.7 937.1,532.2 937.5,513.9 937.9,532.4 938.2,515.8 938.6,530.9 938.9,514.2 939.3,530.5 939.7,512.4 940.0,534.1 940.4,507.7 940.7,535.1 941.1,513.3 941.5,536.3 941.8,518.0 942.2,536.0 942.5,518.3 942.9,534.1 943.3,517.6 943.6,536.0 944.0,516.1 944.3,537.1 944.7,519.9 945.1,537.1 945.4,519.8 945.8,537.5 946.1,517.9 946.5,537.6 946.9,520.0 947.2,535.8 947.6,521.1 947.9,534.5 948.3,520.4 948.7,534.7 949.0,519.8 949.4,535.0 949.7,518.0 950.1,536.1 950.5,519.9 950.8,536.6 951.2,519.0 951.5,545.0 951.9,519.8 952.3,550.8 952.6,520.8 953.0,545.6 953.3,520.0 953.7,540.6 954.1,518.5 954.4,536.6 954.8,518.4 955.1,536.8 955.5,517.2 955.9,539.6 956.2,519.5 956.6,544.7 956.9,519.2 957.3,538.2 957.7,516.0 958.0,536.7 958.4,519.9 958.7,537.8 959.1,522.5 959.5,539.5 959.8,523.9 960.2,540.4 960.5,522.9 960.9,539.8 961.3,520.7 961.6,539.5 962.0,523.2 962.3,541.3 962.7,521.8 963.1,540.3 963.4,522.0 963.8,539.2 964.1,515.7 964.5,539.9 964.9,511.3 965.2,536.9"/>
<polyline fill="none" stroke="#000000" stroke-width="4.6" stroke-linejoin="round" stroke-linecap="round" points="965.2,527.0 966.0,520.0 966.3,505.0 966.6,490.0 966.9,475.0 967.2,460.0 967.5,445.0 967.8,429.1 968.1,412.7 968.4,396.4 968.7,380.0 969.0,360.9 969.3,341.8 969.6,322.7 969.9,307.8 970.2,301.2 970.5,294.6 970.8,288.0 971.1,286.3 971.4,284.6 971.7,283.0 972.0,281.3 972.3,279.6 972.6,278.4 972.9,278.1 973.2,277.8 973.5,277.5 973.8,277.2 974.1,276.9 974.4,276.6 974.7,276.3 975.0,276.0 975.3,276.3 975.6,276.6 975.9,276.9 976.2,277.2 976.5,277.5 976.8,277.8 977.1,278.1 977.4,278.4 977.7,279.7 978.0,281.4 978.3,283.1 978.6,284.8 978.9,286.5 979.2,288.3 979.5,290.0 979.8,293.0 980.1,296.0 980.4,299.0 980.7,302.0 981.0,305.0 981.3,309.0 981.6,313.0 981.9,317.0 982.2,321.0 982.5,325.0"/>
<polyline fill="none" stroke="#000000" stroke-width="2.2" stroke-linejoin="miter" stroke-miterlimit="3" points="982.5,325.0 982.6,341.6 983.0,317.8 983.3,344.2 983.7,318.5 984.0,345.9 984.4,318.3 984.8,346.1 985.1,317.9 985.5,344.0 985.8,322.8 986.2,343.4 986.6,325.2 986.9,345.7 987.3,326.8 987.6,345.0 988.0,325.7 988.4,346.7 988.7,326.7 989.1,346.7 989.4,328.1 989.8,350.6 990.2,327.9 990.5,356.1 990.9,328.8 991.2,354.9 991.6,330.6 992.0,351.9 992.3,330.2 992.7,350.5 993.0,327.7 993.4,349.0 993.8,327.5 994.1,351.2 994.5,329.7 994.8,354.9 995.2,331.7 995.6,359.9 995.9,333.5 996.3,366.7 996.6,334.4 997.0,361.8 997.4,334.0 997.7,356.6 998.1,334.9 998.4,357.4 998.8,336.7 999.2,358.4 999.5,332.4 999.9,358.3 1000.2,333.0 1000.6,360.3 1001.0,334.7 1001.3,358.8 1001.7,334.0 1002.0,357.6 1002.4,335.7 1002.8,357.2 1003.1,336.8 1003.5,357.3 1003.8,335.8 1004.2,356.8 1004.6,332.8 1004.9,355.5 1005.3,335.3 1005.6,355.3 1006.0,335.4 1006.4,355.5 1006.7,335.9 1007.1,357.3 1007.4,336.1 1007.8,359.4 1008.2,337.7 1008.5,363.4 1008.9,337.0 1009.2,364.4 1009.6,337.0 1010.0,359.7 1010.3,337.2 1010.7,358.7 1011.0,337.6 1011.4,360.6 1011.8,338.0 1012.1,361.5 1012.5,341.0 1012.8,362.0 1013.2,338.4 1013.6,362.5 1013.9,337.5 1014.3,362.5 1014.6,338.4 1015.0,362.6 1015.4,339.7 1015.7,363.4 1016.1,340.1 1016.4,363.2 1016.8,340.9 1017.2,362.3 1017.5,338.7 1017.9,359.4 1018.2,336.7 1018.6,358.0 1019.0,333.2 1019.3,358.4 1019.7,332.9 1020.0,357.8 1020.4,335.1 1020.8,354.9 1021.1,334.4 1021.5,354.5 1021.8,333.3 1022.2,358.9 1022.6,332.5 1022.9,365.2 1023.3,329.6 1023.6,358.7 1024.0,325.9 1024.4,353.8 1024.7,326.0 1025.1,349.8 1025.4,325.8 1025.8,348.8 1026.2,327.7 1026.5,349.3 1026.9,327.4 1027.2,348.5 1027.6,327.6 1028.0,348.9 1028.3,326.9 1028.7,347.1 1029.0,326.0 1029.4,348.6 1029.8,326.4 1030.1,350.5 1030.5,328.2 1030.8,353.9 1031.2,329.0 1031.6,355.5 1031.9,326.3 1032.3,357.4 1032.6,325.2 1033.0,359.4 1033.4,325.4 1033.7,358.1 1034.1,330.2 1034.4,353.3 1034.8,330.0 1035.2,351.2 1035.5,327.2 1035.9,349.8 1036.2,329.4 1036.6,348.7 1037.0,329.1 1037.3,348.0 1037.7,330.3 1038.0,349.8 1038.4,324.9 1038.8,351.2 1039.1,320.1 1039.5,350.3 1039.8,325.9 1040.2,351.2 1040.6,328.1 1040.9,348.9 1041.3,326.1 1041.6,347.0 1042.0,325.1 1042.4,344.9 1042.7,323.0 1043.1,344.0 1043.4,321.3 1043.8,343.8 1044.2,324.1 1044.5,348.3 1044.9,328.3 1045.2,351.0 1045.6,325.5 1046.0,352.5 1046.3,325.4 1046.7,348.6 1047.0,326.0 1047.4,345.6 1047.8,326.2 1048.1,345.9 1048.5,325.0 1048.8,344.5 1049.2,322.2 1049.6,343.5 1049.9,320.3 1050.3,345.2 1050.6,321.1 1051.0,344.2 1051.4,320.8 1051.7,343.7 1052.1,319.9 1052.4,345.5 1052.8,319.2 1053.2,343.9 1053.5,319.4 1053.9,341.6 1054.2,321.6 1054.6,345.3 1055.0,323.6 1055.3,344.2 1055.7,317.7 1056.0,338.4 1056.4,310.7"/>
<polyline fill="none" stroke="#000000" stroke-width="4.6" stroke-linejoin="round" stroke-linecap="round" points="1056.4,320.7 1057.2,300.0 1057.5,284.9 1057.8,269.8 1058.1,254.7 1058.4,239.6 1058.7,226.1 1059.0,215.4 1059.3,204.7 1059.6,194.0 1059.9,192.0 1060.2,193.4 1060.5,194.8 1060.8,196.2 1061.1,197.7 1061.4,199.5 1061.7,201.2 1062.0,203.0 1062.3,204.7 1062.6,206.4 1062.9,208.2 1063.2,209.9 1063.5,211.7 1063.8,214.4 1064.1,217.5 1064.4,220.5 1064.8,223.5 1065.1,226.5 1065.4,229.5 1065.7,232.6 1066.0,235.6 1066.3,238.6 1066.6,241.2 1066.9,243.5 1067.2,245.7 1067.5,248.0 1067.8,250.3 1068.1,252.5 1068.4,254.8 1068.7,257.1 1069.0,259.3 1069.3,261.6 1069.6,263.9 1069.9,267.9 1070.2,272.0 1070.5,276.2 1070.8,280.3 1071.1,284.4 1071.4,288.6 1071.7,292.7 1072.0,296.9 1072.3,301.0"/>
<polyline fill="none" stroke="#000000" stroke-width="2.2" stroke-linejoin="miter" stroke-miterlimit="3" points="1072.3,301.0 1072.6,314.9 1073.0,289.2 1073.3,315.4 1073.7,285.4 1074.0,315.5 1074.4,281.5 1074.8,312.9 1075.1,283.0 1075.5,315.7 1075.8,294.6 1076.2,318.7 1076.6,294.9 1076.9,320.6 1077.3,294.6 1077.6,320.7 1078.0,296.8 1078.4,320.8 1078.7,299.1 1079.1,319.7 1079.4,298.9 1079.8,320.6 1080.2,296.2 1080.5,323.2 1080.9,294.3 1081.2,326.4 1081.6,296.3 1082.0,328.0 1082.3,298.8 1082.7,321.4 1083.0,302.0 1083.4,321.0 1083.8,303.5 1084.1,324.3 1084.5,302.5 1084.8,323.1 1085.2,299.7 1085.6,323.2 1085.9,301.4 1086.3,324.4 1086.6,300.8 1087.0,324.7 1087.4,303.8 1087.7,326.1 1088.1,304.6 1088.4,325.8 1088.8,305.1 1089.2,328.0 1089.5,306.7 1089.9,328.4 1090.2,306.5 1090.6,327.1 1091.0,304.7 1091.3,326.5 1091.7,303.9 1092.0,325.3 1092.4,304.0 1092.8,327.5 1093.1,302.7 1093.5,328.8 1093.8,304.7 1094.2,329.3 1094.6,305.5 1094.9,329.7 1095.3,304.9 1095.6,332.6 1096.0,305.7 1096.4,330.6 1096.7,310.3 1097.1,331.2 1097.4,309.3 1097.8,329.0 1098.2,307.2 1098.5,329.5 1098.9,307.1 1099.2,330.6 1099.6,304.5 1100.0,331.7 1100.3,303.5 1100.7,329.6 1101.0,304.9 1101.4,326.9 1101.8,303.8 1102.1,327.6 1102.5,303.5 1102.8,326.4 1103.2,304.8 1103.6,323.1 1103.9,303.1 1104.3,326.7 1104.6,300.2 1105.0,329.9 1105.4,298.9 1105.7,324.2 1106.1,296.8 1106.4,322.9 1106.8,297.8 1107.2,322.8 1107.5,298.4 1107.9,326.7 1108.2,299.1 1108.6,327.3 1109.0,296.6 1109.3,328.3 1109.7,296.2 1110.0,325.3 1110.4,296.1 1110.8,320.7 1111.1,295.8 1111.5,319.0 1111.8,296.0 1112.2,316.8 1112.6,293.4 1112.9,313.3 1113.3,291.6 1113.6,313.0 1114.0,291.9 1114.4,311.6 1114.7,287.7 1115.1,308.3 1115.4,284.5 1115.8,306.7 1116.2,283.9 1116.5,305.9 1116.9,280.3 1117.2,301.3 1117.6,278.6 1118.0,303.2 1118.3,275.8 1118.7,304.1 1119.0,272.2 1119.4,294.7 1119.8,266.2 1120.1,286.0 1120.5,259.2 1120.8,282.3 1121.2,258.9 1121.6,281.7 1121.9,260.8 1122.3,281.7 1122.6,259.4 1123.0,284.2 1123.4,257.7 1123.7,281.3 1124.1,259.9 1124.4,280.2 1124.8,261.5 1125.2,282.6 1125.5,262.8 1125.9,284.0 1126.2,259.2 1126.6,283.7 1127.0,257.4 1127.3,281.4 1127.7,256.7 1128.0,282.8 1128.4,257.9 1128.8,284.7 1129.1,259.0 1129.5,282.4 1129.8,261.3 1130.2,278.5 1130.6,261.1 1130.9,278.7 1131.3,260.4 1131.6,280.9 1132.0,262.3 1132.4,282.1 1132.7,260.3 1133.1,280.9 1133.4,259.6 1133.8,279.0 1134.2,254.1 1134.5,275.7 1134.9,250.8 1135.2,274.7 1135.6,251.6 1136.0,275.2 1136.3,254.4 1136.7,277.0 1137.0,255.9 1137.4,275.4 1137.8,252.0 1138.1,275.5 1138.5,248.9 1138.8,274.7 1139.2,243.3 1139.6,273.3 1139.9,247.0 1140.3,274.3 1140.6,252.6 1141.0,277.6 1141.4,254.3 1141.7,279.6 1142.1,254.5 1142.4,277.7 1142.8,253.8 1143.2,278.3 1143.5,257.2 1143.9,282.1 1144.2,259.1 1144.6,282.3 1145.0,260.7 1145.3,283.0 1145.7,259.6"/>
<polyline fill="none" stroke="#000000" stroke-width="4.6" stroke-linejoin="round" stroke-linecap="round" points="1145.7,269.6 1147.0,290.0 1147.3,302.9 1147.6,315.8 1147.9,328.7 1148.2,341.6 1148.5,352.2 1148.8,358.5 1149.1,364.9 1149.4,371.2 1149.7,377.5 1150.0,383.8 1150.3,390.1 1150.6,395.1 1150.9,399.5 1151.2,403.9 1151.5,408.3 1151.8,412.7 1152.1,417.1 1152.4,421.5 1152.7,425.9 1153.0,430.2 1153.3,432.9 1153.6,435.6 1153.9,438.3 1154.2,441.0 1154.5,443.7 1154.8,446.5 1155.1,449.2 1155.4,451.9 1155.7,454.6 1156.0,457.2 1156.3,459.3 1156.6,461.4 1156.9,463.5 1157.2,465.7 1157.5,467.8 1157.8,469.9 1158.1,472.0 1158.4,474.1 1158.7,476.2 1159.0,478.3 1159.3,480.4 1159.6,482.5 1159.9,484.6 1160.2,485.7 1160.5,486.5 1160.8,487.3 1161.2,488.1 1161.5,488.9 1161.8,489.7 1162.1,490.5 1162.4,491.3 1162.7,492.1 1163.0,492.9 1163.3,493.7 1163.6,494.5 1163.9,495.3 1164.2,496.1 1164.5,496.9 1164.8,497.7 1165.1,498.5 1165.4,499.3 1165.7,500.1 1166.0,500.9 1166.3,501.3 1166.6,501.6 1166.9,502.0 1167.2,502.3 1167.5,502.6 1167.8,503.0 1168.1,503.3 1168.4,503.6 1168.7,504.0 1169.0,504.3 1169.3,504.6 1169.6,505.0 1169.9,505.3 1170.2,505.6 1170.5,506.0 1170.8,506.3 1171.1,506.7 1171.4,507.0 1171.7,507.3 1172.0,507.7 1172.3,508.0 1172.6,508.3 1172.9,508.7 1173.2,509.0 1173.5,509.3 1173.8,509.7 1174.1,510.0 1174.4,510.3 1174.7,510.7 1175.0,511.0"/>
<polyline fill="none" stroke="#000000" stroke-width="2.2" stroke-linejoin="miter" stroke-miterlimit="3" points="1175.0,511.0 1175.0,524.3 1175.4,504.0 1175.7,527.7 1176.1,495.8 1176.4,528.3 1176.8,499.2 1177.2,520.6 1177.5,503.0 1177.9,517.9 1178.2,503.3 1178.6,518.4 1179.0,504.1 1179.3,522.3 1179.7,504.6 1180.0,521.2 1180.4,502.2 1180.8,516.6 1181.1,503.5 1181.5,517.7 1181.8,503.8 1182.2,520.4 1182.6,503.9 1182.9,522.5 1183.3,505.2 1183.6,521.9 1184.0,504.8 1184.4,521.4 1184.7,504.3 1185.1,523.1 1185.4,504.6 1185.8,523.4 1186.2,506.5 1186.5,522.6 1186.9,503.7 1187.2,529.7 1187.6,499.4 1188.0,532.2 1188.3,496.2 1188.7,525.8 1189.0,497.5 1189.4,525.3 1189.8,500.4 1190.1,523.8 1190.5,504.2 1190.8,524.9 1191.2,509.2 1191.6,527.0 1191.9,508.4 1192.3,528.2 1192.6,507.4 1193.0,524.9 1193.4,506.7 1193.7,524.0 1194.1,507.1 1194.4,523.6 1194.8,507.3 1195.2,524.0 1195.5,506.4 1195.9,524.8 1196.2,507.9 1196.6,522.7 1197.0,508.5 1197.3,523.2 1197.7,509.4 1198.0,525.2 1198.4,507.9 1198.8,525.5 1199.1,505.7 1199.5,525.7 1199.8,506.9 1200.2,525.7 1200.6,509.6 1200.9,525.8 1201.3,509.9 1201.6,525.8 1202.0,508.3 1202.4,525.9 1202.7,505.6 1203.1,525.2 1203.4,505.9 1203.8,526.0 1204.2,506.9 1204.5,524.8 1204.9,505.7 1205.2,523.8 1205.6,505.9 1206.0,524.6 1206.3,507.2 1206.7,524.0 1207.0,507.6 1207.4,521.5 1207.8,506.9 1208.1,522.7 1208.5,505.6 1208.8,523.8 1209.2,506.6 1209.6,525.9 1209.9,508.6 1210.3,525.5 1210.6,508.7 1211.0,525.5 1211.4,507.3 1211.7,525.3 1212.1,502.7 1212.4,525.8 1212.8,495.5 1213.2,525.0 1213.5,501.6 1213.9,524.9 1214.2,509.0 1214.6,525.5 1215.0,507.7 1215.3,526.4 1215.7,506.2 1216.0,523.2 1216.4,505.5 1216.8,521.8 1217.1,497.5 1217.5,524.8 1217.8,498.4 1218.2,524.5 1218.6,508.2 1218.9,527.0 1219.3,510.0 1219.6,527.6 1220.0,511.7 1220.4,528.5 1220.7,511.6 1221.1,528.6 1221.4,512.9 1221.8,531.3 1222.2,513.9 1222.5,532.4 1222.9,515.5 1223.2,529.9 1223.6,513.8 1224.0,528.9 1224.3,511.1 1224.7,530.6 1225.0,510.2 1225.4,535.3 1225.8,507.9 1226.1,532.5 1226.5,504.1 1226.8,529.6 1227.2,506.2 1227.6,528.3 1227.9,510.2 1228.3,528.1 1228.6,512.1 1229.0,525.4 1229.4,512.3 1229.7,528.9 1230.1,512.4 1230.4,530.0 1230.8,511.2 1231.2,528.8 1231.5,510.4 1231.9,528.3"/>
<polygon fill="#000" points="607.4,164 607.9,140 608.8,110 610.4,72 612.6,54 614.6,50.5 615.8,53 616.6,80 617.6,112 619.2,140 621.6,170 621.6,182 615,174"/>
<polygon fill="#000" points="969.4,296 970.6,287 972.4,278 975,275 977.6,278 979.6,290 980.4,296"/>
<polygon fill="#000" points="1056.8,282 1057.4,240 1058.4,205 1059.7,189.5 1061.2,193 1063.4,203 1065.0,220 1067.2,242 1069.6,262 1071.6,276 1073.2,284"/>
<polyline fill="none" stroke="#ff0000" stroke-opacity="0.8" stroke-width="0.7" stroke-linejoin="miter" stroke-miterlimit="2" points="95.3,514.9 95.7,509.7 96.0,515.7 96.4,505.7 96.8,520.0 97.2,510.7 97.5,517.8 97.9,512.3 98.3,514.6 98.6,506.8 99.0,514.7 99.4,510.6 99.7,515.6 100.1,511.6 100.5,515.5 100.9,511.6 101.2,516.8 101.6,423.2 102.0,339.4 102.3,290.5 102.7,314.9 103.1,334.2 103.4,359.0 103.8,379.0 104.2,404.2 104.6,423.9 104.9,448.7 105.3,470.0 105.7,492.9 106.0,495.5 106.4,500.3 106.8,499.6 107.1,503.1 107.5,501.3 107.9,506.4 108.3,498.6 108.6,512.0 109.0,501.0 109.4,509.0 109.7,506.6 110.1,510.8 110.5,506.3 110.8,513.1 111.2,506.5 111.6,512.9 112.0,507.4 112.3,511.7 112.7,508.2 113.1,516.1 113.4,508.6 113.8,518.6 114.2,504.1 114.5,515.1 114.9,509.1 115.3,517.0 115.7,504.5 116.0,518.7 116.4,510.2 116.8,514.1 117.1,511.3 117.5,520.3 117.9,510.1 118.2,515.6 118.6,506.3 119.0,515.1 119.4,506.9 119.7,513.6 120.1,509.6 120.5,513.7 120.8,506.2 121.2,515.3 121.6,506.3 121.9,519.2 122.3,511.7 122.7,515.6 123.1,506.6 123.4,518.7 123.8,509.9 124.2,514.7 124.5,511.6 124.9,516.1 125.3,509.4 125.6,518.5 126.0,506.1 126.4,518.9 126.8,509.0 127.1,517.6 127.5,508.6 127.9,514.5 128.2,512.5 128.6,517.8 129.0,510.1 129.3,520.7 129.7,511.5 130.1,516.3 130.5,511.4 130.8,518.8 131.2,507.0 131.6,514.8 131.9,510.5 132.3,519.1 132.7,507.6 133.0,463.4 133.4,405.8 133.8,366.6 134.2,379.5 134.5,396.4 134.9,409.3 135.3,425.8 135.6,437.6 136.0,454.8 136.4,468.2 136.7,483.9 137.1,497.4 137.5,504.1 137.9,502.1 138.2,508.1 138.6,502.8 139.0,510.7 139.3,501.4 139.7,508.8 140.1,506.4 140.4,510.1 140.8,505.5 141.2,514.9 141.6,503.7 141.9,516.3 142.3,509.1 142.7,519.4 143.0,510.4 143.4,513.2 143.8,506.6 144.1,516.9 144.5,508.8 144.9,517.5 145.3,508.6 145.6,514.9 146.0,509.8 146.4,515.9 146.7,511.3 147.1,518.4 147.5,511.1 147.8,517.4 148.2,505.1 148.6,519.6 149.0,506.3 149.3,514.8 149.7,506.5 150.1,514.0 150.4,511.2 150.8,515.5 151.2,507.8 151.5,521.6 151.9,511.4 152.3,517.3 152.7,511.0 153.0,519.3 153.4,512.6 153.8,521.0 154.1,511.0 154.5,515.2 154.9,506.8 155.2,519.5 155.6,507.2 156.0,520.9 156.4,510.0 156.7,517.1 157.1,507.2 157.5,517.6 157.8,511.6 158.2,518.6 158.6,510.2 158.9,519.9 159.3,506.5 159.7,520.2 160.1,512.7 160.4,518.2 160.8,510.3 161.2,514.8 161.5,511.4 161.9,514.6 162.3,499.0 162.6,428.0 163.0,354.8 163.4,328.6 163.8,345.8 164.1,366.4 164.5,383.3 164.9,404.4 165.2,422.3 165.6,441.9 166.0,459.3 166.3,480.3 166.7,497.8 167.1,500.8 167.5,501.3 167.8,503.9 168.2,502.6 168.6,513.1 168.9,503.2 169.3,512.1 169.7,499.4 170.0,515.0 170.4,504.8 170.8,517.0 171.2,505.1 171.5,514.2 171.9,505.5 172.3,512.2 172.6,507.6 173.0,514.9 173.4,504.8 173.7,515.8 174.1,508.8 174.5,520.0 174.9,510.8 175.2,513.8 175.6,509.4 176.0,520.6 176.3,508.7 176.7,515.7 177.1,505.9 177.4,514.8 177.8,506.3 178.2,514.0 178.6,508.2 178.9,520.9 179.3,501.6 179.7,459.6 180.0,415.5 180.4,403.5 180.8,413.2 181.1,426.6 181.5,435.8 181.9,448.2 182.3,458.2 182.6,472.0 183.0,481.2 183.4,493.9 183.7,501.3 184.1,509.2 184.5,498.6 184.8,508.3 185.2,504.3 185.6,511.2 186.0,503.9 186.3,512.9 186.7,507.2 187.1,514.0 187.4,506.2 187.8,511.8 188.2,508.5 188.5,513.5 188.9,509.2 189.3,514.6 189.7,509.6 190.0,515.1 190.4,506.8 190.8,514.4 191.1,504.5 191.5,513.8 191.9,510.3 192.2,518.7 192.6,507.7 193.0,515.5 193.4,510.7 193.7,518.9 194.1,510.2 194.5,519.9 194.8,505.7 195.2,514.9 195.6,508.0 195.9,515.5 196.3,509.0 196.7,521.0 197.1,508.5 197.4,520.9 197.8,510.9 198.2,516.1 198.5,509.4 198.9,516.6 199.3,509.6 199.6,516.0 200.0,511.9 200.4,518.7 200.8,512.5 201.1,466.0 201.5,409.5 201.9,366.4 202.2,379.7 202.6,395.2 203.0,408.0 203.3,425.0 203.7,438.1 204.1,454.1 204.5,467.4 204.8,484.2 205.2,497.0 205.6,503.2 205.9,503.8 206.3,510.8 206.7,502.3 207.0,514.7 207.4,505.7 207.8,514.0 208.2,505.7 208.5,511.7 208.9,504.0 209.3,512.8 209.6,508.5 210.0,514.4 210.4,507.7 210.7,512.5 211.1,503.2 211.5,515.0 211.9,509.1 212.2,513.6 212.6,510.8 213.0,514.2 213.3,511.5 213.7,502.2 214.1,458.5 214.4,419.1 214.8,405.5 215.2,418.4 215.6,426.9 215.9,439.5 216.3,450.0 216.7,461.8 217.0,471.0 217.4,484.8 217.8,494.4 218.1,506.7 218.5,504.0 218.9,511.5 219.3,503.9 219.6,515.9 220.0,501.7 220.4,511.5 220.7,507.3 221.1,514.0 221.5,507.2 221.8,517.2 222.2,509.3 222.6,518.5 223.0,506.9 223.3,514.9 223.7,503.8 224.1,515.0 224.4,506.1 224.8,520.6 225.2,505.2 225.5,521.1 225.9,509.3 226.3,519.3 226.7,468.6 227.0,424.9 227.4,392.2 227.8,406.5 228.1,415.8 228.5,429.6 228.9,439.9 229.2,453.4 229.6,464.6 230.0,478.1 230.4,488.8 230.7,501.4 231.1,500.2 231.5,510.6 231.8,501.3 232.2,509.0 232.6,507.0 232.9,509.6 233.3,504.9 233.7,510.6 234.1,508.2 234.4,514.4 234.8,507.8 235.2,516.6 235.5,509.9 235.9,515.7 236.3,508.5 236.6,513.9 237.0,504.6 237.4,520.2 237.8,504.4 238.1,514.8 238.5,511.9 238.9,482.4 239.2,447.3 239.6,428.0 240.0,435.6 240.3,446.1 240.7,452.5 241.1,462.9 241.5,469.5 241.8,480.1 242.2,486.5 242.6,497.4 242.9,499.1 243.3,508.2 243.7,504.3 244.0,516.3 244.4,505.4 244.8,515.3 245.2,506.0 245.5,518.4 245.9,509.8 246.3,512.4 246.6,510.8 247.0,515.2 247.4,508.1 247.7,513.0 248.1,511.2 248.5,513.5 248.9,510.4 249.2,515.5 249.6,511.9 250.0,516.2 250.3,511.4 250.7,515.0 251.1,499.5 251.4,471.0 251.8,441.4 252.2,440.3 252.6,447.2 252.9,455.9 253.3,463.2 253.7,472.0 254.0,478.7 254.4,486.7 254.8,493.7 255.1,502.4 255.5,505.3 255.9,509.5 256.3,508.3 256.6,510.4 257.0,507.0 257.4,512.4 257.7,508.2 258.1,513.8 258.5,509.2 258.8,514.2 259.2,511.0 259.6,512.8 260.0,510.6 260.3,515.6 260.7,511.6 261.1,515.6 261.4,509.5 261.8,515.7 262.2,512.3 262.5,513.7 262.9,510.0 263.3,514.1 263.7,508.0 264.0,473.5 264.4,437.1 264.8,422.2 265.1,430.4 265.5,440.8 265.9,449.4 266.2,459.8 266.6,468.2 267.0,478.1 267.4,487.0 267.7,496.9 268.1,503.2 268.5,508.8 268.8,506.2 269.2,508.7 269.6,506.5 269.9,509.8 270.3,506.9 270.7,512.5 271.1,507.2 271.4,513.3 271.8,508.2 272.2,512.5 272.5,507.9 272.9,514.0 273.3,509.9 273.6,513.6 274.0,509.0 274.4,514.8 274.8,510.5 275.1,514.9 275.5,509.7 275.9,516.8 276.2,512.0 276.6,516.8 277.0,511.9 277.3,514.7 277.7,510.3 278.1,516.3 278.5,504.4 278.8,450.4 279.2,394.2 279.6,369.7 279.9,383.7 280.3,399.1 280.7,413.3 281.0,429.2 281.4,442.4 281.8,458.5 282.2,471.4 282.5,487.0 282.9,501.2 283.3,503.6 283.6,503.1 284.0,506.4 284.4,502.0 284.7,509.9 285.1,506.8 285.5,511.5 285.9,505.3 286.2,514.6 286.6,507.7 287.0,511.9 287.3,510.3 287.7,514.6 288.1,508.7 288.4,517.9 288.8,510.7 289.2,513.1 289.6,509.7 289.9,516.8 290.3,511.6 290.7,514.8 291.0,512.1 291.4,518.4 291.8,510.4 292.1,515.4 292.5,511.9 292.9,515.6 293.3,513.6 293.6,519.1 294.0,510.0 294.4,516.3 294.7,512.6 295.1,520.2 295.5,513.2 295.8,518.8 296.2,509.5 296.6,516.8 297.0,510.5 297.3,517.0 297.7,509.3 298.1,516.3 298.4,514.1 298.8,519.4 299.2,513.5 299.5,518.1 299.9,510.6 300.3,516.7 300.7,514.2 301.0,519.1 301.4,514.2 301.8,518.2 302.1,514.3 302.5,519.3 302.9,512.0 303.2,516.4 303.6,511.2 304.0,521.3 304.4,514.0 304.7,520.3 305.1,514.0 305.5,521.1 305.8,510.2 306.2,519.9 306.6,513.6 306.9,517.8 307.3,514.6 307.7,521.0 308.1,510.4 308.4,519.9 308.8,510.5 309.2,517.8 309.5,515.1 309.9,518.6 310.3,509.9 310.6,519.3 311.0,511.1 311.4,519.6 311.8,513.6 312.1,518.7 312.5,514.5 312.9,518.1 313.2,510.2 313.6,521.4 314.0,512.5 314.3,520.0 314.7,514.1 315.1,519.6 315.5,510.7 315.8,516.8 316.2,510.1 316.6,517.1 316.9,515.3 317.3,516.6 317.7,513.7 318.0,520.2 318.4,514.5 318.8,521.6 319.2,511.6 319.5,517.0 319.9,511.5 320.3,517.3 320.6,511.9 321.0,516.7 321.4,511.4 321.7,518.0 322.1,512.1 322.5,516.8 322.9,513.2 323.2,518.2 323.6,514.9 324.0,518.4 324.3,510.2 324.7,516.7 325.1,510.3 325.4,518.0 325.8,511.3 326.2,520.7 326.6,512.7 326.9,519.5 327.3,510.2 327.7,518.5 328.0,511.3 328.4,518.7 328.8,514.1 329.1,522.0 329.5,515.0 329.9,521.7 330.3,508.5 330.6,518.0 331.0,506.7 331.4,516.9 331.7,508.5 332.1,525.7 332.5,507.9 332.8,525.0 333.2,508.5 333.6,522.7 334.0,506.0 334.3,524.9 334.7,511.6 335.1,517.2 335.4,511.3 335.8,516.6 336.2,505.6 336.5,519.1 336.9,504.6 337.3,516.4 337.7,510.3 338.0,520.6 338.4,510.9 338.8,521.6 339.1,511.7 339.5,515.5 339.9,505.2 340.2,519.5 340.6,510.9 341.0,522.1 341.4,512.5 341.7,517.1 342.1,509.2 342.5,522.7 342.8,508.1 343.2,518.3 343.6,507.6 343.9,523.3 344.3,509.9 344.7,515.7 345.1,508.2 345.4,515.2 345.8,510.8 346.2,519.8 346.5,508.8 346.9,515.3 347.3,512.2 347.6,523.2 348.0,504.4 348.4,519.2 348.8,507.4 349.1,517.5 349.5,502.6 349.9,523.1 350.2,502.8 350.6,519.0 351.0,506.0 351.3,522.0 351.7,509.9 352.1,517.1 352.5,506.7 352.8,515.5 353.2,506.4 353.6,517.8 353.9,502.5 354.3,516.5 354.7,507.9 355.0,517.2 355.4,510.8 355.8,512.8 356.2,510.5 356.5,520.6 356.9,502.6 357.3,519.0 357.6,508.7 358.0,517.4 358.4,509.4 358.7,516.5 359.1,506.0 359.5,517.8 359.9,509.3 360.2,520.6 360.6,505.1 361.0,521.3 361.3,509.3 361.7,518.0 362.1,502.4 362.4,521.1 362.8,508.1 363.2,513.8 363.6,501.3 363.9,517.4 364.3,508.8 364.7,516.3 365.0,507.2 365.4,518.3 365.8,508.6 366.1,517.3 366.5,506.1 366.9,512.0 367.3,507.3 367.6,518.0 368.0,500.0 368.4,519.9 368.7,508.6 369.1,518.8 369.5,503.5 369.8,513.4 370.2,508.4 370.6,516.6 371.0,504.2 371.3,511.8 371.7,504.1 372.1,510.7 372.4,499.4 372.8,517.8 373.2,501.8 373.5,519.5 373.9,506.9 374.3,513.7 374.7,499.0 375.0,518.2 375.4,502.5 375.8,510.4 376.1,503.9 376.5,514.0 376.9,503.3 377.2,511.5 377.6,506.0 378.0,511.5 378.4,505.7 378.7,518.4 379.1,506.2 379.5,510.5 379.8,497.9 380.2,509.9 380.6,506.9 380.9,511.9 381.3,502.5 381.7,514.4 382.1,499.0 382.4,517.3 382.8,506.7 383.2,515.8 383.5,505.2 383.9,513.6 384.3,499.2 384.6,509.2 385.0,502.1 385.4,517.0 385.8,503.3 386.1,513.6 386.5,499.5 386.9,510.8 387.2,505.5 387.6,513.9 388.0,505.9 388.3,516.6 388.7,502.2 389.1,512.3 389.5,504.9 389.8,512.0 390.2,502.4 390.6,513.1 390.9,505.1 391.3,509.5 391.7,501.2 392.0,514.2 392.4,499.8 392.8,507.4 393.2,496.5 393.5,510.1 393.9,499.9 394.3,516.4 394.6,497.5 395.0,509.6 395.4,503.3 395.7,511.0 396.1,501.2 396.5,507.9 396.9,500.2 397.2,514.8 397.6,504.1 398.0,512.3 398.3,501.0 398.7,508.7 399.1,497.6 399.4,508.2 399.8,498.5 400.2,507.8 400.6,497.3 400.9,509.3 401.3,499.6 401.7,513.1 402.0,499.9 402.4,514.3 402.8,503.8 403.1,511.0 403.5,500.9 403.9,513.8 404.3,502.7 404.6,510.3 405.0,500.6 405.4,508.3 405.7,501.6 406.1,510.8 406.5,500.1 406.8,510.2 407.2,505.7 407.6,513.9 408.0,503.8 408.3,508.4 408.7,505.9 409.1,517.0 409.4,502.2 409.8,509.0 410.2,505.9 410.5,512.7 410.9,503.0 411.3,508.5 411.7,502.0 412.0,512.3 412.4,501.7 412.8,509.0 413.1,506.5 413.5,513.6 413.9,506.6 414.2,512.5 414.6,503.7 415.0,516.5 415.4,502.5 415.7,509.5 416.1,505.8 416.5,516.0 416.8,505.2 417.2,513.6 417.6,504.3 417.9,510.9 418.3,504.2 418.7,514.0 419.1,504.3 419.4,511.3 419.8,504.4 420.2,516.7 420.5,497.9 420.9,515.9 421.3,500.7 421.6,512.2 422.0,501.2 422.4,515.3 422.8,498.3 423.1,511.4 423.5,507.9 423.9,514.0 424.2,502.0 424.6,512.4 425.0,499.1 425.3,511.6 425.7,503.1 426.1,518.2 426.5,499.3 426.8,513.5 427.2,502.5 427.6,511.7 427.9,505.1 428.3,511.9 428.7,502.4 429.0,515.5 429.4,509.1 429.8,520.6 430.2,505.7 430.5,519.3 430.9,501.2 431.3,516.6 431.6,506.6 432.0,517.7 432.4,506.2 432.7,513.3 433.1,510.3 433.5,519.0 433.9,502.0 434.2,518.7 434.6,506.4 435.0,520.3 435.3,508.5 435.7,514.8 436.1,504.1 436.4,521.2 436.8,506.7 437.2,517.5 437.6,506.3 437.9,516.3 438.3,508.4 438.7,514.0 439.0,507.0 439.4,521.0 439.8,509.4 440.1,519.3 440.5,506.5 440.9,519.3 441.3,511.4 441.6,517.3 442.0,508.0 442.4,521.7 442.7,512.6 443.1,515.0 443.5,511.7 443.8,521.0 444.2,512.1 444.6,518.6 445.0,511.2 445.3,520.3 445.7,510.4 446.1,516.8 446.4,509.6 446.8,522.7 447.2,506.5 447.5,519.2 447.9,508.1 448.3,523.3 448.7,508.3 449.0,520.3 449.4,507.9 449.8,516.4 450.1,510.0 450.5,517.6 450.9,510.8 451.2,516.6 451.6,512.7 452.0,520.0 452.4,508.0 452.7,524.8 453.1,506.4 453.5,521.2 453.8,508.4 454.2,519.3 454.6,514.4 454.9,518.8 455.3,510.0 455.7,521.1 456.1,514.7 456.4,518.5 456.8,510.2 457.2,525.3 457.5,512.6 457.9,521.2 458.3,508.3 458.6,523.4 459.0,510.8 459.4,521.7 459.8,509.5 460.1,520.0 460.5,515.9 460.9,524.4 461.2,510.9 461.6,518.4 462.0,508.2 462.3,521.1 462.7,513.0 463.1,518.3 463.5,515.3 463.8,524.4 464.2,510.6 464.6,522.0 464.9,512.3 465.3,520.2 465.7,509.8 466.0,526.3 466.4,515.7 466.8,519.5 467.2,510.0 467.5,523.2 467.9,509.9 468.3,518.6 468.6,513.4 469.0,521.2 469.4,516.0 469.7,522.0 470.1,515.2 470.5,521.4 470.9,510.0 471.2,518.4 471.6,508.2 472.0,523.8 472.3,513.7 472.7,518.4 473.1,510.8 473.4,520.8 473.8,507.5 474.2,521.2 474.6,511.5 474.9,520.1 475.3,515.3 475.7,520.6 476.0,514.8 476.4,521.5 476.8,514.6 477.1,523.5 477.5,509.1 477.9,523.1 478.3,514.3 478.6,518.1 479.0,510.2 479.4,520.6 479.7,507.8 480.1,518.5 480.5,511.5 480.8,524.9 481.2,514.2 481.6,520.5 482.0,514.5 482.3,517.9 482.7,507.9 483.1,520.6 483.4,509.4 483.8,517.9 484.2,453.4 484.5,371.0 484.9,286.6 485.3,311.0 485.7,332.3 486.0,355.9 486.4,376.7 486.8,400.3 487.1,421.6 487.5,444.5 487.9,466.5 488.2,489.3 488.6,499.4 489.0,503.2 489.4,502.0 489.7,505.6 490.1,505.6 490.5,507.6 490.8,499.0 491.2,517.1 491.6,501.2 491.9,513.5 492.3,505.0 492.7,513.8 493.1,506.1 493.4,517.0 493.8,507.4 494.2,514.1 494.5,511.0 494.9,516.2 495.3,509.3 495.6,516.9 496.0,510.9 496.4,518.8 496.8,509.6 497.1,518.0 497.5,511.8 497.9,520.1 498.2,509.6 498.6,522.0 499.0,509.8 499.3,517.0 499.7,512.4 500.1,521.4 500.5,509.3 500.8,524.3 501.2,509.3 501.6,521.3 501.9,510.6 502.3,518.6 502.7,511.0 503.0,519.5 503.4,513.2 503.8,518.5 504.2,507.3 504.5,525.5 504.9,513.6 505.3,521.0 505.6,515.2 506.0,524.1 506.4,514.0 506.7,524.4 507.1,514.3 507.5,521.1 507.9,510.4 508.2,521.9 508.6,508.2 509.0,523.3 509.3,512.4 509.7,520.2 510.1,513.2 510.4,520.7 510.8,509.1 511.2,517.8 511.6,514.0 511.9,523.1 512.3,515.3 512.7,524.1 513.0,513.6 513.4,525.0 513.8,514.5 514.1,523.9 514.5,508.9 514.9,519.8 515.3,511.9 515.6,523.9 516.0,508.0 516.4,522.0 516.7,508.6 517.1,525.2 517.5,507.7 517.8,519.0 518.2,512.9 518.6,522.4 519.0,511.5 519.3,518.3 519.7,511.8 520.1,525.5 520.4,512.2 520.8,518.9 521.2,514.1 521.5,525.4 521.9,513.2 522.3,518.3 522.7,430.5 523.0,341.2 523.4,276.9 523.8,302.0 524.1,324.2 524.5,350.1 524.9,372.3 525.2,397.1 525.6,419.7 526.0,444.8 526.4,467.3 526.7,492.9 527.1,497.5 527.5,501.3 527.8,501.7 528.2,504.6 528.6,505.0 528.9,506.8 529.3,502.6 529.7,513.0 530.1,503.7 530.4,516.0 530.8,509.3 531.2,520.2 531.5,502.8 531.9,514.5 532.3,510.6 532.6,520.0 533.0,511.8 533.4,519.1 533.8,510.8 534.1,523.0 534.5,512.5 534.9,518.7 535.2,512.9 535.6,516.2 536.0,508.4 536.3,522.1 536.7,513.3 537.1,524.6 537.5,513.6 537.8,518.2 538.2,513.1 538.6,518.0 538.9,510.4 539.3,516.7 539.7,508.5 540.0,523.4 540.4,507.0 540.8,521.8 541.2,514.5 541.5,518.8 541.9,514.6 542.3,525.0 542.6,510.9 543.0,522.7 543.4,509.4 543.7,523.2 544.1,507.3 544.5,518.4 544.9,513.2 545.2,520.7 545.6,511.1 546.0,521.0 546.3,514.2 546.7,519.5 547.1,510.6 547.4,517.9 547.8,509.1 548.2,518.0 548.6,512.9 548.9,524.8 549.3,514.8 549.7,521.3 550.0,514.6 550.4,518.2 550.8,505.3 551.1,453.3 551.5,396.0 551.9,377.3 552.3,389.5 552.6,405.7 553.0,417.3 553.4,433.7 553.7,446.4 554.1,462.7 554.5,475.9 554.8,491.3 555.2,503.4 555.6,506.9 556.0,503.9 556.3,516.2 556.7,505.7 557.1,515.2 557.4,505.5 557.8,518.5 558.2,507.9 558.5,520.5 558.9,510.5 559.3,522.5 559.7,512.5 560.0,521.2 560.4,509.4 560.8,522.4 561.1,512.7 561.5,516.0 561.9,507.8 562.2,518.7 562.6,512.5 563.0,523.1 563.4,510.1 563.7,517.6 564.1,510.5 564.5,521.0 564.8,514.7 565.2,520.5 565.6,510.6 565.9,518.0 566.3,507.7 566.7,519.5 567.1,511.2 567.4,519.1 567.8,512.4 568.2,525.6 568.5,512.9 568.9,520.5 569.3,514.0 569.6,520.1 570.0,513.8 570.4,525.6 570.8,507.8 571.1,518.2 571.5,509.6 571.9,524.9 572.2,510.6 572.6,525.5 573.0,514.1 573.3,525.2 573.7,509.6 574.1,496.5 574.5,450.5 574.8,408.6 575.2,405.1 575.6,418.8 575.9,429.8 576.3,442.7 576.7,452.9 577.0,466.4 577.4,474.8 577.8,489.8 578.2,499.2 578.5,511.5 578.9,507.5 579.3,515.9 579.6,508.8 580.0,512.4 580.4,509.5 580.7,513.9 581.1,504.5 581.5,521.6 581.9,507.0 582.2,519.9 582.6,510.1 583.0,516.3 583.3,512.4 583.7,515.9 584.1,513.5 584.4,517.6 584.8,510.2 585.2,516.5 585.6,510.4 585.9,519.9 586.3,512.8 586.7,517.0 587.0,512.2 587.4,523.7 587.8,509.3 588.1,522.4 588.5,513.3 588.9,518.0 589.3,509.2 589.6,517.6 590.0,512.2 590.4,519.6 590.7,514.4 591.1,517.5 591.5,513.6 591.8,521.6 592.2,512.1 592.6,524.0 593.0,510.9 593.3,525.7 593.7,514.4 594.1,519.4 594.4,513.5 594.8,518.4 595.2,514.1 595.5,521.1 595.9,513.3 596.3,519.4 596.7,509.7 597.0,521.0 597.4,470.1 597.8,430.2 598.1,404.5 598.5,417.8 598.9,426.2 599.2,439.8 599.6,448.8 600.0,462.5 600.4,471.1 600.7,484.9 601.1,493.9 601.5,506.4 601.8,503.1 602.2,509.6 602.6,504.8 602.9,517.6 603.3,505.9 603.7,510.8 604.1,503.2 604.4,513.7 604.8,504.2 605.2,510.6 605.5,507.0 605.9,512.0 606.3,506.9 606.6,512.5 607.0,507.4 607.4,515.8 607.8,509.7 608.1,511.3 608.5,509.0 608.9,511.8 609.2,510.4 609.6,515.0 610.0,506.7 610.3,511.8 610.7,510.2 611.1,512.7 611.5,509.5 611.8,517.0 612.2,510.8 612.6,513.6 612.9,509.0 613.3,512.9 613.7,510.0 614.0,515.5 614.4,508.3 614.8,516.1 615.2,508.3 615.5,513.7 615.9,468.5 616.3,413.5 616.6,363.8 617.0,389.0 617.4,411.1 617.7,436.1 618.1,458.7 618.5,482.8 618.9,501.2 619.2,506.2 619.6,505.1 620.0,511.8 620.3,505.7 620.7,514.1 621.1,505.2 621.4,514.0 621.8,505.5 622.2,511.9 622.6,507.2 622.9,514.5 623.3,508.6 623.7,512.4 624.0,509.1 624.4,516.6 624.8,508.1 625.1,516.9 625.5,507.8 625.9,512.7 626.3,510.0 626.6,516.6 627.0,508.3 627.4,514.6 627.7,509.8 628.1,514.2 628.5,510.3 628.8,514.1 629.2,509.8 629.6,515.3 630.0,511.3 630.3,513.3 630.7,509.0 631.1,515.2 631.4,509.8 631.8,515.0 632.2,510.5 632.5,517.8 632.9,510.7 633.3,515.1 633.7,510.7 634.0,515.4 634.4,510.7 634.8,514.5 635.1,511.7 635.5,514.1 635.9,510.0 636.2,453.0 636.6,386.2 637.0,341.9 637.4,369.4 637.7,397.9 638.1,425.1 638.5,454.5 638.8,480.4 639.2,506.3 639.6,499.5 639.9,508.7 640.3,504.2 640.7,509.3 641.1,505.3 641.4,511.1 641.8,507.3 642.2,511.8 642.5,508.2 642.9,513.1 643.3,506.5 643.6,514.1 644.0,507.5 644.4,513.1 644.8,509.2 645.1,514.6 645.5,510.3 645.9,514.1 646.2,511.5 646.6,513.1 647.0,510.4 647.3,515.7 647.7,509.2 648.1,515.9 648.5,511.4 648.8,513.5 649.2,507.2 649.6,513.2 649.9,511.2 650.3,515.2 650.7,510.0 651.0,517.0 651.4,507.8 651.8,515.3 652.2,510.0 652.5,514.6 652.9,506.9 653.3,513.2 653.6,509.9 654.0,516.4 654.4,508.9 654.7,513.2 655.1,508.1 655.5,517.4 655.9,508.5 656.2,513.5 656.6,507.6 657.0,513.4 657.3,511.9 657.7,516.0 658.1,508.8 658.4,516.5 658.8,509.7 659.2,513.1 659.6,511.8 659.9,515.7 660.3,508.4 660.7,514.2 661.0,482.5 661.4,437.0 661.8,389.3 662.1,405.1 662.5,423.6 662.9,445.0 663.3,464.1 663.6,485.0 664.0,500.2 664.4,510.3 664.7,504.4 665.1,511.6 665.5,508.0 665.8,515.4 666.2,505.0 666.6,512.1 667.0,507.6 667.3,515.2 667.7,509.0 668.1,513.1 668.4,509.8 668.8,512.8 669.2,507.6 669.5,514.6 669.9,506.5 670.3,513.3 670.7,506.7 671.0,515.5 671.4,509.3 671.8,513.0 672.1,511.5 672.5,514.8 672.9,511.4 673.2,515.5 673.6,511.0 674.0,517.3 674.4,509.0 674.7,513.0 675.1,507.7 675.5,515.9 675.8,511.1 676.2,514.3 676.6,508.9 676.9,517.2 677.3,510.3 677.7,516.7 678.1,507.3 678.4,517.6 678.8,509.2 679.2,516.7 679.5,511.7 679.9,516.1 680.3,507.8 680.6,514.2 681.0,507.9 681.4,514.2 681.8,508.0 682.1,514.1 682.5,509.6 682.9,515.6 683.2,457.3 683.6,396.1 684.0,350.6 684.3,377.7 684.7,402.9 685.1,430.9 685.5,455.2 685.8,482.7 686.2,499.3 686.6,505.9 686.9,505.8 687.3,508.5 687.7,503.8 688.0,513.0 688.4,507.2 688.8,513.2 689.2,507.4 689.5,511.7 689.9,508.7 690.3,516.2 690.6,510.9 691.0,515.3 691.4,511.0 691.7,514.5 692.1,510.8 692.5,512.7 692.9,511.3 693.2,514.2 693.6,506.8 694.0,513.1 694.3,509.9 694.7,513.8 695.1,510.3 695.4,513.5 695.8,510.2 696.2,517.6 696.6,511.3 696.9,516.7 697.3,508.1 697.7,514.7 698.0,508.7 698.4,515.2 698.8,506.9 699.1,513.0 699.5,508.4 699.9,516.7 700.3,509.0 700.6,517.7 701.0,511.7 701.4,515.5 701.7,508.5 702.1,513.1 702.5,509.6 702.8,516.7 703.2,508.9 703.6,514.4 704.0,508.1 704.3,517.3 704.7,511.1 705.1,513.8 705.4,508.0 705.8,516.4 706.2,510.2 706.5,517.8 706.9,507.0 707.3,515.5 707.7,510.4 708.0,513.2 708.4,511.9 708.8,514.4 709.1,510.2 709.5,513.2 709.9,511.1 710.2,517.0 710.6,508.5 711.0,514.3 711.4,511.6 711.7,517.5 712.1,507.5 712.5,516.4 712.8,508.9 713.2,516.0 713.6,510.9 713.9,515.3 714.3,511.9 714.7,514.1 715.1,511.3 715.4,513.3 715.8,508.6 716.2,514.7 716.5,510.7 716.9,516.5 717.3,483.1 717.6,422.0 718.0,356.9 718.4,355.6 718.8,369.7 719.1,386.4 719.5,400.2 719.9,418.6 720.2,432.4 720.6,448.8 721.0,463.4 721.3,481.7 721.7,491.0 722.1,494.3 722.5,493.7 722.8,506.0 723.2,488.4 723.6,502.2 723.9,498.2 724.3,503.7 724.7,498.0 725.0,508.4 725.4,498.6 725.8,511.1 726.2,500.1 726.5,512.7 726.9,494.3 727.3,509.6 727.6,503.5 728.0,513.0 728.4,496.6 728.7,507.4 729.1,498.7 729.5,507.7 729.9,503.3 730.2,509.7 730.6,505.0 731.0,513.6 731.3,497.1 731.7,512.6 732.1,498.1 732.4,510.9 732.8,506.6 733.2,511.4 733.6,500.4 733.9,512.2 734.3,505.6 734.7,518.2 735.0,503.5 735.4,513.5 735.8,500.9 736.1,511.8 736.5,507.9 736.9,516.4 737.3,505.7 737.6,517.4 738.0,502.5 738.4,517.7 738.7,509.0 739.1,518.5 739.5,508.9 739.8,513.1 740.2,508.6 740.6,515.5 741.0,506.9 741.3,513.5 741.7,505.7 742.1,515.7 742.4,501.6 742.8,516.7 743.2,503.7 743.5,520.3 743.9,506.3 744.3,518.8 744.7,510.8 745.0,521.7 745.4,502.3 745.8,521.9 746.1,511.0 746.5,514.9 746.9,509.4 747.2,514.7 747.6,509.9 748.0,514.2 748.4,507.0 748.7,521.7 749.1,509.5 749.5,521.4 749.8,504.0 750.2,518.6 750.6,504.2 750.9,515.7 751.3,507.1 751.7,519.5 752.1,512.2 752.4,523.5 752.8,510.5 753.2,518.3 753.5,505.3 753.9,518.0 754.3,511.7 754.6,523.8 755.0,504.6 755.4,518.3 755.8,510.3 756.1,514.5 756.5,510.4 756.9,523.9 757.2,506.1 757.6,515.6 758.0,507.4 758.3,515.3 758.7,509.1 759.1,523.8 759.5,512.8 759.8,518.9 760.2,503.9 760.6,515.6 760.9,509.7 761.3,522.2 761.7,505.6 762.0,519.4 762.4,508.6 762.8,519.6 763.2,507.7 763.5,524.6 763.9,507.9 764.3,516.9 764.6,511.9 765.0,519.3 765.4,507.9 765.7,522.6 766.1,511.8 766.5,516.8 766.9,513.2 767.2,522.4 767.6,513.6 768.0,515.8 768.3,510.5 768.7,523.0 769.1,504.6 769.4,517.7 769.8,511.5 770.2,516.6 770.6,513.3 770.9,517.3 771.3,507.1 771.7,522.2 772.0,508.3 772.4,523.0 772.8,513.0 773.1,525.4 773.5,510.2 773.9,518.2 774.3,507.3 774.6,518.1 775.0,514.5 775.4,523.2 775.7,513.8 776.1,526.0 776.5,507.1 776.8,519.0 777.2,505.6 777.6,521.6 778.0,510.5 778.3,518.8 778.7,506.6 779.1,521.9 779.4,513.0 779.8,519.1 780.2,513.0 780.5,519.4 780.9,506.4 781.3,521.8 781.7,510.0 782.0,523.6 782.4,514.9 782.8,522.2 783.1,508.4 783.5,517.8 783.9,506.7 784.2,521.2 784.6,515.4 785.0,526.7 785.4,512.5 785.7,525.0 786.1,506.4 786.5,517.8 786.8,513.8 787.2,521.5 787.6,513.7 787.9,523.9 788.3,513.2 788.7,521.5 789.1,512.9 789.4,524.8 789.8,511.7 790.2,520.8 790.5,508.1 790.9,521.4 791.3,506.7 791.6,518.9 792.0,515.7 792.4,524.2 792.8,508.1 793.1,518.6 793.5,513.9 793.9,524.7 794.2,510.2 794.6,522.9 795.0,510.7 795.3,526.5 795.7,511.9 796.1,521.4 796.5,515.3 796.8,521.0 797.2,509.4 797.6,526.5 797.9,514.2 798.3,520.4 798.7,507.6 799.0,519.2 799.4,514.1 799.8,522.0 800.2,512.4 800.5,518.9 800.9,512.5 801.3,518.9 801.6,516.1 802.0,521.5 802.4,511.8 802.7,519.8 803.1,512.8 803.5,518.9 803.9,516.4 804.2,520.5 804.6,516.9 805.0,524.6 805.3,513.4 805.7,524.8 806.1,514.3 806.4,522.4 806.8,517.1 807.2,525.8 807.6,515.4 807.9,523.1 808.3,511.0 808.7,521.2 809.0,515.2 809.4,524.2 809.8,511.4 810.1,525.6 810.5,514.8 810.9,520.7 811.3,514.0 811.6,522.7 812.0,512.6 812.4,524.8 812.7,513.0 813.1,520.2 813.5,511.7 813.8,524.3 814.2,511.1 814.6,519.3 815.0,514.8 815.3,525.0 815.7,514.9 816.1,519.6 816.4,517.1 816.8,523.7 817.2,517.1 817.5,520.8 817.9,514.4 818.3,519.7 818.7,514.4 819.0,524.0 819.4,516.9 819.8,520.6 820.1,512.7 820.5,522.9 820.9,513.5 821.2,520.4 821.6,515.1 822.0,525.8 822.4,514.2 822.7,520.4 823.1,514.3 823.5,431.9 823.8,341.9 824.2,285.9 824.6,306.6 824.9,331.1 825.3,352.9 825.7,378.0 826.1,400.8 826.4,424.8 826.8,446.9 827.2,471.2 827.5,492.7 827.9,501.1 828.3,502.2 828.6,505.1 829.0,503.8 829.4,506.8 829.8,507.5 830.1,510.1 830.5,506.7 830.9,513.4 831.2,510.2 831.6,519.8 832.0,506.0 832.3,515.1 832.7,508.1 833.1,517.3 833.5,507.3 833.8,516.3 834.2,506.4 834.6,520.7 834.9,510.0 835.3,519.7 835.7,510.2 836.0,516.4 836.4,508.3 836.8,519.7 837.2,514.2 837.5,519.0 837.9,510.4 838.3,522.8 838.6,514.5 839.0,519.6 839.4,508.3 839.7,517.8 840.1,513.7 840.5,524.9 840.9,511.1 841.2,521.1 841.6,513.5 842.0,518.2 842.3,511.0 842.7,519.9 843.1,516.1 843.4,525.5 843.8,516.1 844.2,521.1 844.6,511.8 844.9,521.7 845.3,514.3 845.7,523.5 846.0,515.4 846.4,523.2 846.8,514.2 847.1,525.7 847.5,510.6 847.9,519.6 848.3,510.2 848.6,521.2 849.0,514.9 849.4,519.2 849.7,516.0 850.1,518.7 850.5,515.8 850.8,520.9 851.2,512.3 851.6,525.3 852.0,512.2 852.3,525.9 852.7,509.9 853.1,525.0 853.4,515.4 853.8,518.8 854.2,513.2 854.5,520.8 854.9,509.6 855.3,518.7 855.7,509.9 856.0,520.2 856.4,512.4 856.8,523.8 857.1,514.1 857.5,524.2 857.9,511.0 858.2,519.3 858.6,511.2 859.0,526.3 859.4,511.2 859.7,522.6 860.1,513.2 860.5,519.2 860.8,513.5 861.2,520.4 861.6,485.5 861.9,443.5 862.3,399.1 862.7,411.5 863.1,421.2 863.4,435.1 863.8,444.3 864.2,457.7 864.5,467.4 864.9,481.1 865.3,490.5 865.6,504.5 866.0,506.3 866.4,512.9 866.8,509.6 867.1,516.0 867.5,511.1 867.9,520.4 868.2,511.1 868.6,516.4 869.0,511.1 869.3,518.3 869.7,507.1 870.1,516.2 870.5,512.5 870.8,519.8 871.2,511.7 871.6,523.2 871.9,511.8 872.3,521.6 872.7,511.0 873.0,519.5 873.4,513.1 873.8,518.6 874.2,515.4 874.5,525.0 874.9,511.5 875.3,518.4 875.6,510.1 876.0,520.4 876.4,513.9 876.7,523.7 877.1,514.8 877.5,522.8 877.9,511.0 878.2,522.7 878.6,515.8 879.0,518.8 879.3,511.4 879.7,522.4 880.1,514.6 880.4,525.4 880.8,513.2 881.2,526.0 881.6,515.9 881.9,524.5 882.3,509.3 882.7,519.3 883.0,490.8 883.4,416.5 883.8,339.8 884.1,327.7 884.5,346.3 884.9,366.6 885.3,386.0 885.6,406.4 886.0,425.4 886.4,447.1 886.7,464.7 887.1,485.8 887.5,500.9 887.8,505.3 888.2,503.5 888.6,506.7 889.0,506.5 889.3,509.8 889.7,502.4 890.1,513.0 890.4,506.0 890.8,519.3 891.2,508.7 891.5,515.3 891.9,512.1 892.3,518.9 892.7,508.5 893.0,519.7 893.4,513.4 893.8,517.5 894.1,512.7 894.5,516.8 894.9,514.1 895.2,517.6 895.6,508.7 896.0,523.1 896.4,511.2 896.7,518.8 897.1,513.6 897.5,496.5 897.8,445.2 898.2,396.3 898.6,390.6 898.9,405.8 899.3,416.8 899.7,432.0 900.1,444.4 900.4,458.2 900.8,469.4 901.2,485.3 901.5,496.0 901.9,507.7 902.3,507.3 902.6,511.8 903.0,502.0 903.4,513.8 903.8,510.1 904.1,516.7 904.5,509.6 904.9,515.6 905.2,505.5 905.6,519.2 906.0,510.5 906.3,522.3 906.7,513.1 907.1,516.8 907.5,507.0 907.8,516.8 908.2,509.7 908.6,518.2 908.9,514.7 909.3,524.1 909.7,510.4 910.0,519.0 910.4,514.6 910.8,522.3 911.2,510.5 911.5,519.2 911.9,483.5 912.3,442.0 912.6,402.6 913.0,415.1 913.4,424.6 913.7,437.8 914.1,447.8 914.5,460.2 914.9,470.2 915.2,482.8 915.6,491.2 916.0,504.4 916.3,507.2 916.7,514.4 917.1,508.5 917.4,512.7 917.8,508.0 918.2,514.3 918.6,507.6 918.9,517.5 919.3,512.0 919.7,521.9 920.0,510.3 920.4,521.3 920.8,508.7 921.1,517.6 921.5,513.6 921.9,518.2 922.3,511.9 922.6,522.0 923.0,514.8 923.4,518.6 923.7,515.6 924.1,523.1 924.5,508.9 924.8,521.5 925.2,512.2 925.6,520.3 926.0,514.3 926.3,520.0 926.7,507.3 927.1,468.2 927.4,427.4 927.8,416.1 928.2,425.1 928.5,436.9 928.9,446.4 929.3,459.1 929.7,467.6 930.0,480.1 930.4,488.7 930.8,501.0 931.1,500.9 931.5,517.6 931.9,502.3 932.2,519.8 932.6,508.2 933.0,519.4 933.4,511.5 933.7,520.4 934.1,512.4 934.5,521.5 934.8,508.5 935.2,520.5 935.6,508.9 935.9,518.1 936.3,509.0 936.7,523.6 937.1,510.9 937.4,521.6 937.8,514.2 938.2,519.6 938.5,510.8 938.9,521.3 939.3,512.4 939.6,518.3 940.0,516.1 940.4,520.8 940.8,490.1 941.1,455.4 941.5,415.7 941.9,426.3 942.2,434.2 942.6,446.3 943.0,454.0 943.3,465.9 943.7,473.7 944.1,485.6 944.5,494.3 944.8,504.8 945.2,502.3 945.6,511.7 945.9,506.5 946.3,520.1 946.7,507.6 947.0,517.7 947.4,507.9 947.8,520.4 948.2,511.9 948.5,516.0 948.9,512.4 949.3,520.2 949.6,513.5 950.0,518.5 950.4,512.2 950.7,518.8 951.1,511.0 951.5,524.2 951.9,512.2 952.2,523.1 952.6,514.6 953.0,524.2 953.3,501.9 953.7,465.2 954.1,426.3 954.4,420.3 954.8,429.3 955.2,440.1 955.6,449.8 955.9,461.6 956.3,469.6 956.7,481.6 957.0,489.9 957.4,501.1 957.8,501.0 958.1,518.1 958.5,507.5 958.9,519.8 959.3,506.9 959.6,516.2 960.0,512.0 960.4,522.1 960.7,513.2 961.1,517.8 961.5,512.1 961.8,521.0 962.2,512.2 962.6,516.5 963.0,512.6 963.3,516.8 963.7,511.4 964.1,524.0 964.4,511.0 964.8,524.5 965.2,512.1 965.5,521.0 965.9,512.2 966.3,517.6 966.7,514.0 967.0,494.8 967.4,455.3 967.8,419.7 968.1,422.1 968.5,433.1 968.9,441.5 969.2,453.0 969.6,462.1 970.0,472.6 970.4,481.7 970.7,492.4 971.1,501.3 971.5,512.5 971.8,505.1 972.2,514.8 972.6,507.4 972.9,511.7 973.3,508.4 973.7,516.6 974.1,510.5 974.4,517.9 974.8,512.2 975.2,516.4 975.5,512.2 975.9,516.7 976.3,512.6 976.6,516.8 977.0,513.1 977.4,519.4 977.8,509.6 978.1,517.3 978.5,513.7 978.9,517.7 979.2,513.8 979.6,520.1 980.0,510.7 980.3,516.1 980.7,514.3 981.1,518.7 981.5,514.0 981.8,516.4 982.2,514.5 982.6,501.3 982.9,466.8 983.3,434.6 983.7,435.7 984.0,450.4 984.4,464.3 984.8,479.6 985.2,492.2 985.5,510.1 985.9,506.0 986.3,517.3 986.6,510.1 987.0,514.7 987.4,510.2 987.7,515.0 988.1,509.5 988.5,519.1 988.9,511.7 989.2,516.2 989.6,511.2 990.0,519.7 990.3,510.5 990.7,517.9 991.1,513.8 991.4,520.5 991.8,513.7 992.2,519.4 992.6,512.0 992.9,517.2 993.3,500.9 993.7,474.2 994.0,444.0 994.4,449.8 994.8,461.3 995.1,474.2 995.5,485.6 995.9,498.0 996.3,506.5 996.6,516.3 997.0,511.1 997.4,514.8 997.7,512.2 998.1,515.6 998.5,511.7 998.8,515.9 999.2,513.9 999.6,516.2 1000.0,513.1 1000.3,520.7 1000.7,512.2 1001.1,516.8 1001.4,515.0 1001.8,519.4 1002.2,515.2 1002.5,519.1 1002.9,515.5 1003.3,516.9 1003.7,511.4 1004.0,518.2 1004.4,514.5 1004.8,516.8 1005.1,512.4 1005.5,519.0 1005.9,506.2 1006.2,476.9 1006.6,443.1 1007.0,433.7 1007.4,447.4 1007.7,462.2 1008.1,475.4 1008.5,490.7 1008.8,503.6 1009.2,513.9 1009.6,510.1 1009.9,514.4 1010.3,511.8 1010.7,515.7 1011.1,512.5 1011.4,518.4 1011.8,512.8 1012.2,516.7 1012.5,511.6 1012.9,516.6 1013.3,511.3 1013.6,520.6 1014.0,514.7 1014.4,517.1 1014.8,513.1 1015.1,516.6 1015.5,513.5 1015.9,518.6 1016.2,485.9 1016.6,454.1 1017.0,429.0 1017.3,444.1 1017.7,457.5 1018.1,472.5 1018.5,485.8 1018.8,500.7 1019.2,509.4 1019.6,515.9 1019.9,509.6 1020.3,514.2 1020.7,512.0 1021.0,516.2 1021.4,511.5 1021.8,519.6 1022.2,511.2 1022.5,520.3 1022.9,510.6 1023.3,518.5 1023.6,515.2 1024.0,519.6 1024.4,511.2 1024.7,520.9 1025.1,513.8 1025.5,516.9 1025.9,513.6 1026.2,517.1 1026.6,514.5 1027.0,517.3 1027.3,511.7 1027.7,521.5 1028.1,511.8 1028.4,519.2 1028.8,511.5 1029.2,521.2 1029.6,514.1 1029.9,518.2 1030.3,514.7 1030.7,517.4 1031.0,511.9 1031.4,518.0 1031.8,514.2 1032.1,520.9 1032.5,513.2 1032.9,516.9 1033.3,513.1 1033.6,517.1 1034.0,513.7 1034.4,475.3 1034.7,431.9 1035.1,407.3 1035.5,424.3 1035.8,443.7 1036.2,460.0 1036.6,479.5 1037.0,496.5 1037.3,510.9 1037.7,506.1 1038.1,513.1 1038.4,509.7 1038.8,515.7 1039.2,513.4 1039.5,515.5 1039.9,512.8 1040.3,516.1 1040.7,512.6 1041.0,520.9 1041.4,511.6 1041.8,520.4 1042.1,513.4 1042.5,517.0 1042.9,515.3 1043.2,518.9 1043.6,513.9 1044.0,519.6 1044.4,514.4 1044.7,517.6 1045.1,512.8 1045.5,521.1 1045.8,513.9 1046.2,520.2 1046.6,515.6 1046.9,518.8 1047.3,511.5 1047.7,516.8 1048.1,512.1 1048.4,518.5 1048.8,515.5 1049.2,519.6 1049.5,510.9 1049.9,518.2 1050.3,515.3 1050.6,519.0 1051.0,515.6 1051.4,521.6 1051.8,513.0 1052.1,518.7 1052.5,515.6 1052.9,518.2 1053.2,493.1 1053.6,456.2 1054.0,418.3 1054.3,430.7 1054.7,445.8 1055.1,462.9 1055.5,477.9 1055.8,495.0 1056.2,506.6 1056.6,514.3 1056.9,511.9 1057.3,518.5 1057.7,511.9 1058.0,515.7 1058.4,511.0 1058.8,517.4 1059.2,514.0 1059.5,516.2 1059.9,510.8 1060.3,519.9 1060.6,510.4 1061.0,519.3 1061.4,513.7 1061.7,520.9 1062.1,515.3 1062.5,518.3 1062.8,511.4 1063.2,518.8 1063.6,511.9 1064.0,520.2 1064.3,514.6 1064.7,521.4 1065.1,515.6 1065.4,520.2 1065.8,515.7 1066.2,517.1 1066.5,515.6 1066.9,517.4 1067.3,513.4 1067.7,518.4 1068.0,513.3 1068.4,521.1 1068.8,514.5 1069.1,517.0 1069.5,511.4 1069.9,521.6 1070.2,511.0 1070.6,521.2 1071.0,513.5 1071.4,517.1 1071.7,511.3 1072.1,521.5 1072.5,514.4 1072.8,517.4 1073.2,515.6 1073.6,518.4 1073.9,507.7 1074.3,455.5 1074.7,401.0 1075.1,381.6 1075.4,403.3 1075.8,427.0 1076.2,449.1 1076.5,473.2 1076.9,495.6 1077.3,510.9 1077.6,508.6 1078.0,512.8 1078.4,507.5 1078.8,518.6 1079.1,511.2 1079.5,519.0 1079.9,512.4 1080.2,519.4 1080.6,512.4 1081.0,516.9 1081.3,513.7 1081.7,520.4 1082.1,511.0 1082.5,520.8 1082.8,510.8 1083.2,517.2 1083.6,515.3 1083.9,519.5 1084.3,513.0 1084.7,517.8 1085.0,514.7 1085.4,519.9 1085.8,512.0 1086.2,517.1 1086.5,514.4 1086.9,517.9 1087.3,514.7 1087.6,520.2 1088.0,515.7 1088.4,518.0 1088.7,512.0 1089.1,517.0 1089.5,514.0 1089.9,521.6 1090.2,510.9 1090.6,519.9 1091.0,504.1 1091.3,466.5 1091.7,423.1 1092.1,410.7 1092.4,428.2 1092.8,446.9 1093.2,464.7 1093.6,483.5 1093.9,500.1 1094.3,512.3 1094.7,508.9 1095.0,513.4 1095.4,510.1 1095.8,518.7 1096.1,508.9 1096.5,515.3 1096.9,513.6 1097.3,517.5 1097.6,512.9 1098.0,520.4 1098.4,511.8 1098.7,518.7 1099.1,514.7 1099.5,519.3 1099.8,513.4 1100.2,519.5 1100.6,515.5 1101.0,518.0 1101.3,514.4 1101.7,518.2 1102.1,513.5 1102.4,520.3 1102.8,513.5 1103.2,517.4 1103.5,513.7 1103.9,519.1 1104.3,515.6 1104.7,519.2 1105.0,513.4 1105.4,519.6 1105.8,512.8 1106.1,520.2 1106.5,515.5 1106.9,517.9 1107.2,514.8 1107.6,519.5 1108.0,511.5 1108.4,518.2 1108.7,512.2 1109.1,503.7 1109.5,456.2 1109.8,410.0 1110.2,399.5 1110.6,421.4 1110.9,439.8 1111.3,461.9 1111.7,480.6 1112.1,502.1 1112.4,508.7 1112.8,514.1 1113.2,511.0 1113.5,513.8 1113.9,511.9 1114.3,517.7 1114.6,510.9 1115.0,515.8 1115.4,513.2 1115.8,520.5 1116.1,512.3 1116.5,519.9 1116.9,510.1 1117.2,516.6 1117.6,515.2 1118.0,520.3 1118.3,511.6 1118.7,517.6 1119.1,511.7 1119.5,519.7 1119.8,514.3 1120.2,519.7 1120.6,512.0 1120.9,518.8 1121.3,513.4 1121.7,517.4 1122.0,515.5 1122.4,516.9 1122.8,512.0 1123.2,521.7 1123.5,511.9 1123.9,520.9 1124.3,513.9 1124.6,517.1 1125.0,511.3 1125.4,519.0 1125.7,513.3 1126.1,520.0 1126.5,515.0 1126.9,521.4 1127.2,513.4 1127.6,519.4 1128.0,514.5 1128.3,519.2 1128.7,511.1 1129.1,517.4 1129.4,515.0 1129.8,519.9 1130.2,512.6 1130.6,518.8 1130.9,512.3 1131.3,519.0 1131.7,515.1 1132.0,517.9 1132.4,514.6 1132.8,518.2 1133.1,515.3 1133.5,521.2 1133.9,514.5 1134.3,517.5 1134.6,515.4 1135.0,518.7 1135.4,515.6 1135.7,518.6 1136.1,515.3 1136.5,518.7 1136.8,515.4 1137.2,517.7 1137.6,511.1 1138.0,516.9 1138.3,513.7 1138.7,520.7 1139.1,512.3 1139.4,517.3 1139.8,514.7 1140.2,519.2 1140.5,512.5 1140.9,521.3 1141.3,513.5 1141.7,517.3 1142.0,515.7 1142.4,519.2 1142.8,511.6 1143.1,517.7 1143.5,512.7 1143.9,506.3 1144.2,455.5 1144.6,406.0 1145.0,387.7 1145.4,401.0 1145.7,412.7 1146.1,426.4 1146.5,437.3 1146.8,451.0 1147.2,460.6 1147.6,474.9 1147.9,486.6 1148.3,499.0 1148.7,495.2 1149.1,506.1 1149.4,493.0 1149.8,502.3 1150.2,497.1 1150.5,505.2 1150.9,496.8 1151.3,503.2 1151.6,494.5 1152.0,510.1 1152.4,497.3 1152.8,505.3 1153.1,499.9 1153.5,506.5 1153.9,497.0 1154.2,507.5 1154.6,504.6 1155.0,510.6 1155.3,502.5 1155.7,510.6 1156.1,501.0 1156.5,512.2 1156.8,504.2 1157.2,515.7 1157.6,506.2 1157.9,512.9 1158.3,507.5 1158.7,515.8 1159.0,507.2 1159.4,514.1 1159.8,503.6 1160.2,511.0 1160.5,508.8 1160.9,514.4 1161.3,505.3 1161.6,512.6 1162.0,507.9 1162.4,519.4 1162.7,505.8 1163.1,513.2 1163.5,506.5 1163.9,514.2 1164.2,511.0 1164.6,513.0 1165.0,505.4 1165.3,521.2 1165.7,510.6 1166.1,519.2 1166.4,506.5 1166.8,515.0 1167.2,504.9 1167.6,521.5 1167.9,512.8 1168.3,516.2 1168.7,508.0 1169.0,517.7 1169.4,513.0 1169.8,515.7 1170.1,507.0 1170.5,523.2 1170.9,511.1 1171.3,521.2 1171.6,509.2 1172.0,523.8 1172.4,512.3 1172.7,518.9 1173.1,509.8 1173.5,523.3 1173.8,506.8 1174.2,521.7 1174.6,510.5 1175.0,517.9 1175.3,506.2 1175.7,500.0 1176.1,436.5 1176.4,378.4 1176.8,360.0 1177.2,377.4 1177.5,391.8 1177.9,410.0 1178.3,423.5 1178.7,441.5 1179.0,455.3 1179.4,473.6 1179.8,486.4 1180.1,502.7 1180.5,501.8 1180.9,506.3 1181.2,499.0 1181.6,512.6 1182.0,504.0 1182.4,510.0 1182.7,507.7 1183.1,512.7 1183.5,504.9 1183.8,518.3 1184.2,507.8 1184.6,517.4 1184.9,506.7 1185.3,520.0 1185.7,504.2 1186.1,513.4 1186.4,506.4 1186.8,515.5 1187.2,504.7 1187.5,514.4 1187.9,510.2 1188.3,514.5 1188.6,508.5 1189.0,514.8 1189.4,512.7 1189.8,518.9 1190.1,512.4 1190.5,515.0 1190.9,506.5 1191.2,521.6 1191.6,510.2 1192.0,521.9 1192.3,509.6 1192.7,522.2 1193.1,513.3 1193.5,515.7 1193.8,508.9 1194.2,517.4 1194.6,510.0 1194.9,521.2 1195.3,510.6 1195.7,517.5 1196.0,506.5 1196.4,518.2 1196.8,511.2 1197.2,519.4 1197.5,514.1 1197.9,519.6 1198.3,509.9 1198.6,516.9 1199.0,509.2 1199.4,519.0 1199.7,506.8 1200.1,518.4 1200.5,514.0 1200.9,523.4 1201.2,512.8 1201.6,523.8 1202.0,502.2 1202.3,477.8 1202.7,450.3 1203.1,451.4 1203.4,455.4 1203.8,464.1 1204.2,470.1 1204.6,477.8 1204.9,483.5 1205.3,491.8 1205.7,497.6 1206.0,506.1 1206.4,501.3 1206.8,512.6 1207.1,506.8 1207.5,515.2 1207.9,507.2 1208.3,515.2 1208.6,510.9 1209.0,515.5 1209.4,505.1 1209.7,517.6 1210.1,505.2 1210.5,514.7 1210.8,512.1 1211.2,522.3 1211.6,512.9 1212.0,519.3 1212.3,512.7 1212.7,516.1 1213.1,510.7 1213.4,522.4 1213.8,510.1 1214.2,515.8 1214.5,512.9 1214.9,523.9 1215.3,508.3 1215.7,519.5 1216.0,512.4 1216.4,517.9 1216.8,514.3 1217.1,517.4 1217.5,507.9 1217.9,518.5 1218.2,507.9 1218.6,524.0 1219.0,509.7 1219.4,518.0 1219.7,511.8 1220.1,517.0 1220.5,513.4 1220.8,518.5 1221.2,514.6 1221.6,523.1 1221.9,488.1 1222.3,423.7 1222.7,356.1 1223.1,350.5 1223.4,366.6 1223.8,385.1 1224.2,401.0 1224.5,419.6 1224.9,435.8 1225.3,454.6 1225.6,469.6 1226.0,489.8 1226.4,500.4 1226.8,504.2 1227.1,493.2 1227.5,468.2 1227.9,439.4 1228.2,437.8 1228.6,444.7 1229.0,454.4 1229.3,460.4 1229.7,469.9 1230.1,476.5 1230.5,485.7 1230.8,491.2 1231.2,500.7 1231.6,503.6 1231.9,514.3"/>
<polyline fill="none" stroke="#ff0000" stroke-width="1.2" stroke-linejoin="round" points="95.3,517.1 95.7,514.8 96.1,514.9 96.5,507.2 96.9,515.5 97.3,508.6 97.7,516.7 98.1,511.0 98.5,516.4 98.9,508.9 99.3,518.6 99.7,508.2 100.1,516.7 100.5,509.5 100.9,513.9 101.2,506.0 101.3,490.6 101.7,397.9 102.1,306.5 102.2,282.5 102.5,301.3 102.7,313.1 102.9,325.6 103.2,343.1 103.3,350.1 103.7,373.4 104.1,398.7 104.2,403.6 104.5,422.6 104.6,427.9 104.9,447.1 105.0,452.4 105.3,471.4 105.4,476.2 105.7,495.5 105.8,494.9 106.1,497.5 106.5,498.6 106.9,501.0 107.3,497.2 107.7,505.4 108.1,498.1 108.5,507.9 108.9,500.2 109.3,506.0 109.7,499.7 110.1,509.3 110.5,503.0 110.9,512.9 111.3,503.3 111.7,512.8 112.1,503.7 112.5,511.0 112.9,502.6 113.3,510.9 113.7,510.5 114.1,512.9 114.5,503.3 114.9,512.2 115.3,506.5 115.7,513.8 116.1,502.9 116.5,511.2 116.9,502.6 117.3,512.7 117.7,507.7 118.1,512.5 118.5,508.3 118.9,511.9 119.3,504.7 119.7,513.5 120.1,506.2 120.5,516.4 120.9,506.6 121.3,515.8 121.7,506.7 122.1,516.2 122.5,507.3 122.9,515.4 123.3,506.0 123.7,514.0 124.1,505.2 124.5,516.7 124.9,507.0 125.3,514.6 125.7,504.3 126.1,511.5 126.5,507.2 126.9,514.7 127.3,506.6 127.7,510.4 128.1,504.0 128.5,514.6 128.9,501.4 129.3,514.0 129.7,506.5 130.1,515.8 130.5,508.8 130.9,515.0 131.3,509.8 131.7,517.3 132.1,509.6 132.5,512.7 132.7,506.5 132.9,483.7 133.2,437.5 133.3,422.9 133.7,361.7 134.1,378.4 134.2,381.6 134.5,394.7 134.7,401.5 134.9,410.2 135.2,421.2 135.3,426.3 135.7,441.2 136.1,457.9 136.5,473.5 136.9,490.1 137.3,494.9 137.7,504.6 138.1,501.1 138.5,507.2 138.9,502.4 139.3,511.5 139.7,502.8 140.1,511.7 140.5,502.2 140.9,513.3 141.3,504.0 141.7,521.2 142.1,508.8 142.5,516.5 142.9,506.2 143.3,512.9 143.7,508.5 144.1,516.5 144.5,508.3 144.9,516.3 145.3,506.2 145.7,514.9 146.1,498.9 146.5,514.4 146.9,510.0 147.3,517.2 147.7,510.8 148.1,519.4 148.5,509.2 148.9,519.5 149.3,510.3 149.7,517.0 150.1,510.2 150.5,519.6 150.9,510.0 151.3,516.7 151.7,508.1 152.1,516.8 152.5,512.0 152.9,519.0 153.3,508.6 153.7,514.8 154.1,507.6 154.5,517.8 154.9,511.8 155.3,517.3 155.7,512.4 156.1,517.4 156.5,518.8 156.9,517.0 157.3,510.7 157.7,516.9 158.1,509.6 158.5,518.1 158.9,509.7 159.3,519.7 159.7,508.5 160.1,517.4 160.5,508.4 160.9,520.1 161.3,509.5 161.7,515.8 162.1,511.9 162.2,518.7 162.5,454.6 162.7,416.2 162.9,376.6 163.2,318.5 163.3,323.0 163.7,344.0 164.1,364.0 164.2,370.0 164.5,384.7 164.7,395.6 164.9,405.0 165.2,421.4 165.3,425.5 165.6,441.9 165.7,446.3 166.0,462.6 166.1,466.8 166.4,483.1 166.5,487.6 166.8,498.9 166.9,498.8 167.3,501.1 167.7,499.9 168.1,507.4 168.5,503.5 168.9,509.7 169.3,502.2 169.7,510.1 170.1,505.2 170.5,511.6 170.9,503.4 171.3,512.1 171.7,502.9 172.1,514.1 172.5,504.9 172.9,513.1 173.3,507.7 173.7,511.1 174.1,504.3 174.5,513.9 174.9,507.7 175.3,513.2 175.7,506.8 176.1,512.9 176.5,506.3 176.9,516.0 177.3,510.1 177.7,516.9 178.1,507.1 178.5,518.2 178.9,509.9 179.2,515.6 179.3,501.0 179.7,454.9 180.1,406.9 180.2,396.2 180.5,404.7 180.7,412.0 180.9,417.3 181.2,427.4 181.3,429.7 181.7,442.6 182.1,454.5 182.2,458.2 182.5,467.1 182.6,470.6 182.9,479.5 183.0,483.1 183.3,491.6 183.4,495.2 183.7,502.0 183.8,512.0 184.1,501.7 184.5,510.3 184.9,504.6 185.3,512.8 185.7,505.9 186.1,513.7 186.5,503.8 186.9,510.4 187.3,504.6 187.7,511.8 188.1,507.6 188.5,514.0 188.9,505.2 189.3,517.0 189.7,508.8 190.1,515.7 190.5,510.3 190.9,517.3 191.3,509.0 191.7,515.6 192.1,509.0 192.5,517.1 192.9,511.5 193.3,518.0 193.7,510.0 194.1,518.1 194.5,509.5 194.9,518.3 195.3,512.4 195.7,518.9 196.1,508.7 196.5,519.0 196.9,511.0 197.3,517.8 197.7,510.1 198.1,518.4 198.5,511.9 198.9,516.8 199.3,508.9 199.7,514.7 200.1,508.5 200.5,517.9 200.8,505.9 200.9,498.7 201.3,437.5 201.7,378.2 201.8,362.2 202.1,374.9 202.3,382.4 202.5,391.1 202.8,402.1 202.9,407.2 203.3,422.3 203.7,438.9 203.8,442.2 204.1,454.8 204.2,458.0 204.5,470.7 204.6,474.1 204.9,486.7 205.0,490.0 205.3,502.3 205.4,498.8 205.7,506.3 206.1,502.3 206.5,509.9 206.9,502.5 207.3,510.2 207.7,501.6 208.1,513.7 208.5,503.2 208.9,511.1 209.3,504.2 209.7,512.4 210.1,507.2 210.5,513.3 210.9,507.1 211.3,513.0 211.7,506.3 212.1,514.3 212.5,507.2 212.9,512.6 213.3,505.3 213.6,517.0 213.7,500.7 214.1,456.6 214.5,410.7 214.6,400.2 214.9,408.4 215.1,414.7 215.3,419.9 215.6,429.6 215.7,432.2 216.1,444.9 216.5,455.8 216.6,459.9 216.9,467.9 217.0,471.7 217.3,479.8 217.4,483.5 217.7,492.2 217.8,495.9 218.1,500.3 218.2,510.1 218.5,501.2 218.9,510.2 219.3,503.9 219.7,514.1 220.1,504.4 220.5,514.5 220.9,507.0 221.3,516.4 221.7,508.6 222.1,512.3 222.5,508.4 222.9,514.7 223.3,509.6 223.7,514.8 224.1,508.4 224.5,514.3 224.9,509.8 225.3,515.7 225.7,510.8 226.1,518.3 226.3,511.2 226.5,488.9 226.8,451.1 226.9,439.4 227.3,389.8 227.7,403.4 227.8,406.0 228.1,416.5 228.3,422.1 228.5,429.5 228.8,438.4 228.9,442.6 229.3,454.9 229.7,468.7 230.1,480.6 230.5,494.7 230.9,499.6 231.3,509.0 231.7,501.1 232.1,512.8 232.5,504.1 232.9,513.9 233.3,507.2 233.7,514.3 234.1,509.9 234.5,514.4 234.9,505.7 235.3,515.4 235.7,510.4 236.1,514.3 236.5,511.1 236.9,516.9 237.3,509.7 237.7,512.2 238.1,507.1 238.5,515.1 238.9,477.1 239.0,469.3 239.3,442.1 239.5,425.3 239.7,429.1 240.0,437.3 240.1,438.4 240.5,448.7 240.9,457.1 241.0,460.0 241.3,466.5 241.5,472.1 241.7,476.0 241.9,481.3 242.1,484.9 242.3,490.4 242.5,494.5 242.7,499.9 242.9,499.7 243.1,508.9 243.3,498.7 243.7,506.0 244.1,500.8 244.5,510.7 244.9,502.5 245.3,509.1 245.7,507.5 246.1,508.4 246.5,503.6 246.9,508.8 247.3,503.2 247.7,510.8 248.1,504.4 248.5,510.3 248.9,505.7 249.3,512.5 249.7,505.3 250.1,511.7 250.5,504.7 250.9,513.1 251.3,480.7 251.4,473.7 251.7,449.1 251.9,434.5 252.1,437.6 252.4,444.7 252.5,446.4 252.9,455.3 253.3,463.0 253.4,466.1 253.7,471.5 253.9,476.4 254.1,479.8 254.3,484.6 254.5,488.2 254.7,493.3 254.9,496.8 255.1,501.6 255.3,502.5 255.5,512.6 255.7,505.8 256.1,510.5 256.5,506.6 256.9,512.5 257.3,507.4 257.7,507.9 258.1,504.9 258.5,515.4 258.9,508.5 259.3,513.5 259.7,510.4 260.1,516.3 260.5,509.1 260.9,516.9 261.3,509.2 261.7,516.9 262.1,508.6 262.5,514.3 262.9,510.5 263.3,516.9 263.6,511.3 263.7,506.2 264.1,465.0 264.5,427.4 264.6,416.9 264.9,425.6 265.1,430.0 265.3,435.7 265.6,442.2 265.7,445.5 266.1,455.1 266.5,466.1 266.6,467.9 266.9,476.2 267.0,477.8 267.3,486.4 267.4,487.9 267.7,496.4 267.8,498.3 268.1,512.1 268.2,500.3 268.5,509.9 268.9,499.8 269.3,508.8 269.7,504.9 270.1,509.5 270.5,501.1 270.9,512.4 271.3,503.3 271.7,509.5 272.1,505.2 272.5,514.9 272.9,504.3 273.3,516.2 273.7,506.8 274.1,517.1 274.5,508.0 274.9,516.4 275.3,508.8 275.7,514.9 276.1,508.3 276.5,517.4 276.9,509.1 277.3,519.7 277.7,508.1 278.1,519.2 278.4,509.5 278.5,498.5 278.9,437.8 279.3,378.2 279.4,362.4 279.7,375.5 279.9,382.7 280.1,391.2 280.4,402.5 280.5,407.0 280.9,422.3 281.3,438.7 281.4,442.2 281.7,454.8 281.8,458.1 282.1,470.5 282.2,473.9 282.5,486.3 282.6,489.7 282.9,502.1 283.0,502.1 283.3,507.0 283.7,499.7 284.1,509.6 284.5,504.2 284.9,511.5 285.3,504.3 285.7,513.4 286.1,508.1 286.5,513.2 286.9,509.6 287.3,513.0 287.7,510.5 288.1,513.2 288.5,508.9 288.9,515.8 289.3,509.8 289.7,517.9 290.1,511.8 290.5,514.6 290.9,508.0 291.3,515.3 291.7,511.8 292.1,514.4 292.5,507.7 292.9,515.7 293.3,508.8 293.7,516.4 294.1,510.2 294.5,514.0 294.9,511.8 295.3,516.1 295.7,511.5 296.1,517.8 296.5,512.0 296.9,517.4 297.3,509.8 297.7,517.7 298.1,510.3 298.5,516.9 298.9,512.2 299.3,519.5 299.7,511.2 300.1,518.9 300.5,511.0 300.9,518.1 301.3,509.6 301.7,515.0 302.1,510.7 302.5,516.4 302.9,513.1 303.3,516.6 303.7,512.5 304.1,519.0 304.5,511.4 304.9,519.3 305.3,513.9 305.7,517.3 306.1,512.2 306.5,516.3 306.9,511.5 307.3,519.8 307.7,507.2 308.1,518.5 308.5,516.1 308.9,522.1 309.3,512.9 309.7,521.3 310.1,511.7 310.5,520.1 310.9,513.8 311.3,516.5 311.7,509.6 312.1,518.6 312.5,511.0 312.9,516.2 313.3,509.9 313.7,519.3 314.1,510.7 314.5,516.9 314.9,514.0 315.3,518.3 315.7,510.9 316.1,520.1 316.5,514.7 316.9,520.1 317.3,512.0 317.7,517.6 318.1,511.9 318.5,518.4 318.9,515.3 319.3,517.7 319.7,512.2 320.1,517.9 320.5,513.1 320.9,519.1 321.3,513.0 321.7,521.8 322.1,512.4 322.5,517.3 322.9,512.7 323.3,517.0 323.7,511.0 324.1,516.2 324.5,510.7 324.9,516.4 325.3,511.3 325.7,518.6 326.1,513.9 326.5,518.1 326.9,513.7 327.3,517.7 327.7,513.3 328.1,519.4 328.5,512.2 328.9,525.9 329.3,514.5 329.7,520.1 330.1,512.7 330.5,521.8 330.9,515.9 331.3,522.7 331.7,515.7 332.1,521.3 332.5,509.8 332.9,521.3 333.3,513.6 333.7,520.4 334.1,512.5 334.5,518.6 334.9,512.1 335.3,520.1 335.7,512.3 336.1,520.0 336.5,513.4 336.9,520.7 337.3,512.5 337.7,524.6 338.1,514.0 338.5,521.7 338.9,514.5 339.3,520.1 339.7,509.9 340.1,520.0 340.5,509.8 340.9,518.8 341.3,510.8 341.7,518.9 342.1,510.5 342.5,518.7 342.9,510.6 343.3,516.8 343.7,509.8 344.1,518.8 344.5,512.7 344.9,519.3 345.3,510.4 345.7,517.7 346.1,510.7 346.5,516.7 346.9,508.8 347.3,516.9 347.7,509.0 348.1,513.3 348.5,509.5 348.9,514.5 349.3,508.2 349.7,514.5 350.1,509.4 350.5,516.5 350.9,511.8 351.3,518.6 351.7,512.7 352.1,517.1 352.5,509.7 352.9,518.5 353.3,510.3 353.7,516.2 354.1,509.5 354.5,515.8 354.9,509.8 355.3,520.6 355.7,512.0 356.1,518.0 356.5,508.0 356.9,517.3 357.3,509.6 357.7,517.0 358.1,508.0 358.5,518.3 358.9,513.8 359.3,516.0 359.7,511.7 360.1,517.3 360.5,510.4 360.9,515.7 361.3,507.9 361.7,514.7 362.1,505.8 362.5,515.2 362.9,505.0 363.3,513.1 363.7,506.1 364.1,514.5 364.5,506.8 364.9,512.9 365.3,505.4 365.7,513.9 366.1,507.6 366.5,517.1 366.9,509.3 367.3,514.4 367.7,508.5 368.1,513.8 368.5,505.5 368.9,515.5 369.3,507.0 369.7,513.4 370.1,506.6 370.5,513.6 370.9,506.0 371.3,515.4 371.7,508.8 372.1,515.1 372.5,508.7 372.9,514.5 373.3,508.5 373.7,513.1 374.1,506.8 374.5,513.1 374.9,507.7 375.3,512.7 375.7,509.8 376.1,512.3 376.5,506.5 376.9,512.1 377.3,502.8 377.7,509.5 378.1,504.2 378.5,510.9 378.9,505.5 379.3,512.2 379.7,506.5 380.1,513.5 380.5,506.0 380.9,511.0 381.3,503.1 381.7,511.2 382.1,503.7 382.5,510.4 382.9,501.5 383.3,508.6 383.7,502.0 384.1,509.9 384.5,504.4 384.9,510.8 385.3,505.0 385.7,511.7 386.1,504.7 386.5,513.1 386.9,505.3 387.3,511.8 387.7,503.7 388.1,512.5 388.5,504.7 388.9,512.6 389.3,505.7 389.7,509.3 390.1,502.9 390.5,512.6 390.9,503.8 391.3,510.7 391.7,500.8 392.1,503.0 392.5,502.9 392.9,508.5 393.3,498.7 393.7,507.8 394.1,502.7 394.5,507.8 394.9,503.8 395.3,506.8 395.7,502.5 396.1,509.7 396.5,502.7 396.9,509.8 397.3,502.4 397.7,511.5 398.1,502.2 398.5,508.9 398.9,504.4 399.3,509.5 399.7,502.4 400.1,510.4 400.5,502.3 400.9,509.5 401.3,506.1 401.7,512.2 402.1,501.7 402.5,511.3 402.9,503.4 403.3,513.1 403.7,506.9 404.1,513.2 404.5,502.7 404.9,510.9 405.3,503.0 405.7,512.0 406.1,503.9 406.5,513.0 406.9,502.2 407.3,511.7 407.7,502.6 408.1,512.5 408.5,502.2 408.9,511.1 409.3,502.0 409.7,507.8 410.1,504.0 410.5,511.8 410.9,502.8 411.3,508.9 411.7,505.3 412.1,511.2 412.5,504.4 412.9,512.8 413.3,504.1 413.7,510.0 414.1,503.6 414.5,510.2 414.9,506.9 415.3,510.8 415.7,506.2 416.1,513.5 416.5,505.7 416.9,511.4 417.3,506.8 417.7,509.2 418.1,502.9 418.5,509.2 418.9,503.5 419.3,510.1 419.7,505.4 420.1,513.3 420.5,506.3 420.9,513.0 421.3,506.1 421.7,511.1 422.1,505.1 422.5,512.2 422.9,503.8 423.3,511.4 423.7,506.7 424.1,512.5 424.5,504.2 424.9,511.3 425.3,503.0 425.7,512.1 426.1,502.5 426.5,509.6 426.9,504.6 427.3,512.2 427.7,504.9 428.1,510.2 428.5,506.7 428.9,512.6 429.3,506.2 429.7,510.3 430.1,507.1 430.5,512.8 430.9,504.8 431.3,515.2 431.7,503.3 432.1,512.4 432.5,507.8 432.9,512.5 433.3,505.9 433.7,513.4 434.1,507.5 434.5,512.6 434.9,509.3 435.3,512.2 435.7,505.8 436.1,514.1 436.5,509.1 436.9,514.6 437.3,508.1 437.7,513.6 438.1,508.3 438.5,514.3 438.9,512.0 439.3,517.2 439.7,510.5 440.1,518.2 440.5,511.1 440.9,520.6 441.3,510.4 441.7,519.9 442.1,509.2 442.5,516.5 442.9,508.3 443.3,516.1 443.7,510.9 444.1,515.1 444.5,508.1 444.9,518.6 445.3,512.0 445.7,519.6 446.1,509.2 446.5,516.4 446.9,509.0 447.3,517.5 447.7,513.0 448.1,517.0 448.5,510.3 448.9,520.7 449.3,511.2 449.7,518.5 450.1,510.7 450.5,517.3 450.9,508.6 451.3,518.5 451.7,510.8 452.1,516.9 452.5,508.5 452.9,514.2 453.3,509.6 453.7,516.4 454.1,508.9 454.5,517.6 454.9,510.1 455.3,515.4 455.7,507.7 456.1,518.2 456.5,508.3 456.9,519.8 457.3,510.5 457.7,520.2 458.1,509.5 458.5,519.6 458.9,510.7 459.3,517.0 459.7,511.7 460.1,517.7 460.5,514.2 460.9,518.2 461.3,510.9 461.7,518.3 462.1,513.7 462.5,522.0 462.9,510.7 463.3,520.2 463.7,511.2 464.1,518.6 464.5,512.0 464.9,516.8 465.3,509.1 465.7,518.2 466.1,512.3 466.5,518.8 466.9,513.2 467.3,518.0 467.7,510.9 468.1,520.7 468.5,510.1 468.9,518.2 469.3,513.6 469.7,519.5 470.1,510.3 470.5,517.4 470.9,513.3 471.3,519.9 471.7,508.3 472.1,519.3 472.5,509.7 472.9,517.0 473.3,507.7 473.7,519.3 474.1,510.5 474.5,516.9 474.9,512.1 475.3,520.4 475.7,511.2 476.1,521.3 476.5,513.7 476.9,519.7 477.3,509.3 477.7,517.8 478.1,511.1 478.5,522.9 478.9,515.2 479.3,521.2 479.7,512.5 480.1,520.1 480.5,512.6 480.9,522.8 481.3,511.3 481.7,518.8 482.1,518.8 482.5,517.1 482.9,510.2 483.3,522.4 483.7,511.8 483.9,518.7 484.1,470.3 484.4,402.4 484.5,378.7 484.9,287.8 485.3,311.0 485.4,317.8 485.7,335.4 485.9,348.4 486.1,359.6 486.4,378.1 486.5,383.6 486.9,408.5 487.3,431.7 487.7,456.5 488.1,480.1 488.5,499.3 488.9,500.4 489.3,503.2 489.7,504.0 490.1,509.6 490.5,501.1 490.9,508.0 491.3,502.0 491.7,512.9 492.1,504.2 492.5,513.5 492.9,504.5 493.3,514.7 493.7,505.7 494.1,514.1 494.5,507.5 494.9,514.9 495.3,509.4 495.7,519.1 496.1,509.6 496.5,518.8 496.9,509.8 497.3,519.8 497.7,512.5 498.1,517.7 498.5,510.2 498.9,522.3 499.3,512.4 499.7,519.3 500.1,511.6 500.5,523.5 500.9,515.3 501.3,520.1 501.7,512.4 502.1,521.2 502.5,511.9 502.9,521.5 503.3,514.7 503.7,522.5 504.1,513.7 504.5,521.7 504.9,515.8 505.3,523.0 505.7,512.8 506.1,524.8 506.5,513.8 506.9,520.2 507.3,512.4 507.7,524.4 508.1,515.8 508.5,519.4 508.9,511.2 509.3,519.2 509.7,510.8 510.1,518.9 510.5,511.5 510.9,518.7 511.3,513.3 511.7,518.9 512.1,512.1 512.5,520.1 512.9,511.6 513.3,521.2 513.7,512.4 514.1,522.7 514.5,514.9 514.9,519.2 515.3,514.5 515.7,523.8 516.1,511.4 516.5,521.7 516.9,512.0 517.3,521.9 517.7,514.2 518.1,524.1 518.5,512.4 518.9,519.6 519.3,511.9 519.7,524.4 520.1,514.4 520.5,521.3 520.9,514.8 521.3,520.8 521.7,512.3 522.1,522.6 522.3,513.8 522.5,468.3 522.8,393.7 522.9,370.4 523.3,271.0 523.7,297.5 523.8,303.2 524.1,323.4 524.3,335.7 524.5,349.1 524.8,367.4 524.9,375.0 525.3,399.8 525.7,426.4 526.1,451.8 526.5,478.1 526.9,497.5 527.3,500.3 527.7,501.3 528.1,503.7 528.5,501.0 528.9,509.5 529.3,500.9 529.7,512.5 530.1,505.2 530.5,511.7 530.9,508.1 531.3,517.1 531.7,508.0 532.1,518.2 532.5,509.2 532.9,516.9 533.3,510.4 533.7,517.1 534.1,511.3 534.5,517.5 534.9,511.9 535.3,518.4 535.7,510.0 536.1,519.8 536.5,508.8 536.9,517.9 537.3,506.7 537.7,517.7 538.1,509.2 538.5,515.9 538.9,508.7 539.3,518.8 539.7,511.5 540.1,517.4 540.5,509.4 540.9,521.1 541.3,511.3 541.7,521.3 542.1,514.4 542.5,519.9 542.9,511.8 543.3,520.9 543.7,513.9 544.1,523.1 544.5,513.9 544.9,520.9 545.3,509.3 545.7,520.3 546.1,513.3 546.5,519.8 546.9,510.1 547.3,522.0 547.7,509.3 548.1,518.6 548.5,508.8 548.9,520.8 549.3,511.9 549.7,519.3 550.1,513.0 550.5,521.8 550.7,510.3 550.9,487.4 551.2,442.3 551.3,428.2 551.7,368.2 552.1,384.7 552.2,387.5 552.5,400.0 552.7,407.2 552.9,415.6 553.2,426.4 553.3,431.3 553.7,445.9 554.1,462.6 554.5,476.9 554.9,493.3 555.3,500.5 555.7,506.8 556.1,500.8 556.5,512.3 556.9,501.9 557.3,513.1 557.7,505.3 558.1,515.8 558.5,506.6 558.9,516.3 559.3,507.1 559.7,518.3 560.1,509.7 560.5,515.5 560.9,507.4 561.3,517.8 561.7,506.5 562.1,517.2 562.5,508.8 562.9,518.3 563.3,512.9 563.7,520.4 564.1,513.3 564.5,520.3 564.9,514.4 565.3,522.1 565.7,513.1 566.1,520.3 566.5,513.3 566.9,522.3 567.3,512.8 567.7,519.3 568.1,512.8 568.5,524.6 568.9,515.2 569.3,524.4 569.7,515.6 570.1,522.9 570.5,515.8 570.9,524.2 571.3,512.5 571.7,524.7 572.1,515.8 572.5,525.3 572.9,515.7 573.3,524.9 573.7,514.9 573.9,526.4 574.1,492.8 574.4,457.8 574.5,445.3 574.9,398.4 575.3,410.3 575.4,414.1 575.7,422.9 575.9,429.9 576.1,435.4 576.4,445.4 576.5,447.7 576.9,461.0 577.3,472.6 577.7,486.3 578.1,497.7 578.5,511.8 578.9,505.2 579.3,515.8 579.7,510.0 580.1,517.5 580.5,508.9 580.9,516.8 581.3,510.3 581.7,519.0 582.1,514.8 582.5,521.7 582.9,513.4 583.3,516.9 583.7,514.4 584.1,521.4 584.5,514.1 584.9,523.0 585.3,514.5 585.7,519.9 586.1,512.4 586.5,522.8 586.9,515.8 587.3,520.7 587.7,512.6 588.1,521.8 588.5,511.1 588.9,521.4 589.3,515.2 589.7,519.8 590.1,515.3 590.5,523.4 590.9,511.8 591.3,517.9 591.7,511.7 592.1,518.1 592.5,509.5 592.9,520.0 593.3,513.5 593.7,520.1 594.1,513.5 594.5,520.6 594.9,514.3 595.3,521.8 595.7,515.0 596.1,521.6 596.5,514.8 596.9,522.7 597.0,515.5 597.3,482.8 597.5,459.0 597.7,436.6 598.0,401.5 598.1,405.4 598.5,416.2 598.9,429.4 599.0,431.5 599.3,441.5 599.5,446.5 599.7,453.5 600.0,461.8 600.1,465.5 600.4,473.7 600.5,477.6 600.8,485.4 600.9,489.3 601.2,497.1 601.3,500.7 601.6,500.9 601.7,508.8 602.1,502.4 602.5,511.6 602.9,503.9 603.3,513.2 603.7,507.4 604.1,514.0 604.5,505.0 604.9,514.7 605.3,510.0 605.7,515.4 606.1,507.9 606.5,516.0 606.9,507.4 607.3,514.3 607.7,510.5 608.1,518.1 608.5,509.8 608.9,517.2 609.3,511.3 609.7,515.8 610.1,509.3 610.5,517.5 610.9,511.9 611.3,515.5 611.7,510.3 612.1,517.4 612.5,513.3 612.9,518.1 613.3,511.8 613.7,516.7 614.1,512.1 614.5,517.8 614.9,512.4 615.3,515.3 615.6,502.8 615.7,497.4 616.1,437.3 616.5,378.0 616.6,362.6 616.9,382.4 617.1,394.8 617.3,408.1 617.6,426.6 617.7,433.5 618.1,458.5 618.5,484.5 618.6,490.1 618.9,509.0 619.0,501.0 619.3,509.8 619.4,502.5 619.7,510.6 619.8,503.0 620.1,511.1 620.2,507.7 620.5,512.5 620.9,509.5 621.3,514.9 621.7,510.3 622.1,515.1 622.5,511.7 622.9,518.1 623.3,511.3 623.7,516.7 624.1,510.6 624.5,518.0 624.9,511.1 625.3,517.1 625.7,510.5 626.1,517.3 626.5,509.1 626.9,515.3 627.3,510.7 627.7,517.4 628.1,512.2 628.5,515.0 628.9,509.1 629.3,515.2 629.7,510.3 630.1,514.9 630.5,507.4 630.9,511.7 631.3,507.7 631.7,512.6 632.1,507.0 632.5,514.5 632.9,507.0 633.3,514.0 633.7,506.0 634.1,513.6 634.5,510.5 634.9,512.7 635.3,508.0 635.7,513.3 635.9,509.5 636.1,477.2 636.4,423.8 636.5,406.5 636.9,335.5 637.3,366.0 637.4,373.0 637.7,396.2 637.9,410.6 638.1,426.5 638.4,448.4 638.5,456.7 638.9,486.3 639.3,505.5 639.7,499.6 640.1,509.0 640.5,503.4 640.9,511.1 641.3,503.6 641.7,510.7 642.1,505.8 642.5,511.2 642.9,505.8 643.3,512.5 643.7,505.9 644.1,511.1 644.5,508.5 644.9,512.8 645.3,505.6 645.7,512.5 646.1,506.2 646.5,514.9 646.9,506.9 647.3,513.8 647.7,508.1 648.1,514.3 648.5,509.0 648.9,515.6 649.3,508.7 649.7,516.1 650.1,509.1 650.5,513.3 650.9,510.4 651.3,514.1 651.7,509.0 652.1,516.7 652.5,508.4 652.9,515.6 653.3,510.5 653.7,518.8 654.1,511.7 654.5,517.1 654.9,508.9 655.3,515.6 655.7,511.2 656.1,517.0 656.5,511.3 656.9,517.3 657.3,510.8 657.7,513.4 658.1,507.0 658.5,513.6 658.9,507.1 659.3,514.0 659.7,509.9 660.1,514.9 660.5,511.0 660.8,512.9 660.9,499.3 661.3,449.7 661.7,398.4 661.8,386.4 662.1,402.2 662.3,413.7 662.5,423.8 662.8,440.3 662.9,445.2 663.3,467.2 663.7,488.5 663.8,494.2 664.1,504.5 664.2,511.0 664.5,505.8 664.6,509.2 664.9,507.3 665.0,512.3 665.3,506.9 665.4,512.9 665.7,507.7 666.1,512.1 666.5,508.1 666.9,513.2 667.3,507.8 667.7,514.5 668.1,508.4 668.5,515.6 668.9,509.8 669.3,516.1 669.7,509.7 670.1,513.8 670.5,507.7 670.9,515.0 671.3,508.9 671.7,513.4 672.1,508.4 672.5,514.8 672.9,508.0 673.3,513.5 673.7,506.0 674.1,512.8 674.5,508.5 674.9,506.6 675.3,507.7 675.7,514.5 676.1,510.5 676.5,516.0 676.9,509.5 677.3,525.5 677.7,510.6 678.1,515.1 678.5,508.5 678.9,514.7 679.3,510.3 679.7,517.8 680.1,510.7 680.5,514.8 680.9,509.9 681.3,518.2 681.7,511.7 682.1,517.5 682.5,510.7 682.9,516.5 683.3,445.4 683.4,429.3 683.7,379.1 683.9,346.5 684.1,359.9 684.4,381.7 684.5,388.5 684.9,417.6 685.3,445.3 685.4,453.2 685.7,473.6 685.9,488.4 686.1,500.9 686.3,508.5 686.5,500.5 686.7,509.7 686.9,504.8 687.1,509.3 687.3,505.5 687.5,507.7 687.7,505.4 688.1,512.4 688.5,505.5 688.9,514.2 689.3,506.9 689.7,515.5 690.1,510.6 690.5,517.3 690.9,510.8 691.3,518.2 691.7,511.3 692.1,517.5 692.5,509.7 692.9,518.0 693.3,512.3 693.7,516.9 694.1,511.2 694.5,522.8 694.9,511.4 695.3,517.2 695.7,510.4 696.1,515.0 696.5,508.4 696.9,513.7 697.3,508.0 697.7,514.2 698.1,507.6 698.5,514.9 698.9,510.2 699.3,514.1 699.7,511.3 700.1,516.4 700.5,511.8 700.9,517.6 701.3,513.5 701.7,517.6 702.1,510.5 702.5,517.9 702.9,511.2 703.3,517.5 703.7,510.5 704.1,516.9 704.5,509.9 704.9,516.3 705.3,510.1 705.7,516.5 706.1,511.2 706.5,516.8 706.9,509.7 707.3,514.7 707.7,507.6 708.1,512.8 708.5,507.2 708.9,514.9 709.3,509.5 709.7,508.3 710.1,508.6 710.5,515.5 710.9,510.5 711.3,513.6 711.7,508.4 712.1,514.7 712.5,508.7 712.9,514.8 713.3,509.2 713.7,513.9 714.1,508.0 714.5,514.5 714.9,507.0 715.3,514.0 715.7,498.8 716.1,512.7 716.5,505.9 716.9,512.2 717.1,506.7 717.3,478.8 717.6,427.5 717.7,411.4 718.1,343.0 718.5,360.4 718.6,364.2 718.9,377.1 719.1,384.8 719.3,393.9 719.6,406.0 719.7,410.8 720.1,426.6 720.5,444.0 720.9,460.1 721.3,478.3 721.7,491.7 722.1,494.3 722.5,488.9 722.9,499.0 723.3,490.9 723.7,500.6 724.1,495.4 724.5,500.5 724.9,498.0 725.3,506.1 725.7,499.6 726.1,505.8 726.5,499.4 726.9,506.5 727.3,502.4 727.7,509.0 728.1,501.0 728.5,510.6 728.9,503.9 729.3,509.4 729.7,505.0 730.1,509.9 730.5,504.3 730.9,509.2 731.3,506.1 731.7,512.0 732.1,507.5 732.5,511.0 732.9,506.5 733.3,520.0 733.7,507.7 734.1,514.7 734.5,506.6 734.9,513.1 735.3,506.7 735.7,507.5 736.1,506.8 736.5,516.4 736.9,509.0 737.3,515.7 737.7,507.0 738.1,515.5 738.5,507.6 738.9,516.2 739.3,510.5 739.7,515.5 740.1,509.0 740.5,517.5 740.9,512.2 741.3,515.5 741.7,510.5 742.1,517.7 742.5,509.0 742.9,514.3 743.3,507.8 743.7,514.2 744.1,508.3 744.5,514.8 744.9,509.5 745.3,514.7 745.7,509.5 746.1,515.1 746.5,506.4 746.9,515.3 747.3,507.4 747.7,510.6 748.1,505.0 748.5,512.6 748.9,508.7 749.3,516.7 749.7,509.3 750.1,514.9 750.5,509.6 750.9,513.9 751.3,510.6 751.7,515.7 752.1,510.2 752.5,516.1 752.9,511.8 753.3,514.5 753.7,510.8 754.1,518.2 754.5,508.9 754.9,516.0 755.3,511.6 755.7,518.0 756.1,512.5 756.5,516.0 756.9,509.2 757.3,516.3 757.7,511.0 758.1,516.5 758.5,512.1 758.9,515.1 759.3,508.0 759.7,515.8 760.1,510.2 760.5,516.9 760.9,510.3 761.3,516.3 761.7,512.8 762.1,519.1 762.5,510.1 762.9,517.1 763.3,510.7 763.7,518.9 764.1,510.9 764.5,517.9 764.9,509.5 765.3,517.5 765.7,509.9 766.1,517.8 766.5,510.5 766.9,519.0 767.3,509.0 767.7,516.8 768.1,511.7 768.5,517.6 768.9,511.6 769.3,518.7 769.7,512.3 770.1,519.6 770.5,514.7 770.9,519.7 771.3,514.2 771.7,519.2 772.1,515.8 772.5,520.8 772.9,515.8 773.3,520.2 773.7,516.5 774.1,520.6 774.5,511.9 774.9,520.3 775.3,514.9 775.7,522.1 776.1,515.5 776.5,522.7 776.9,516.8 777.3,523.3 777.7,513.1 778.1,521.2 778.5,514.7 778.9,518.3 779.3,511.5 779.7,519.4 780.1,512.3 780.5,521.5 780.9,514.9 781.3,521.2 781.7,513.1 782.1,519.6 782.5,515.0 782.9,520.3 783.3,514.4 783.7,521.2 784.1,512.2 784.5,521.1 784.9,512.7 785.3,520.1 785.7,513.9 786.1,519.4 786.5,512.6 786.9,522.9 787.3,514.1 787.7,521.0 788.1,515.3 788.5,520.3 788.9,514.8 789.3,521.9 789.7,512.3 790.1,520.6 790.5,511.6 790.9,519.7 791.3,512.1 791.7,519.8 792.1,513.0 792.5,518.1 792.9,511.0 793.3,519.5 793.7,514.2 794.1,520.9 794.5,514.0 794.9,521.9 795.3,515.0 795.7,521.7 796.1,517.1 796.5,524.1 796.9,514.8 797.3,520.5 797.7,512.3 798.1,523.5 798.5,516.9 798.9,523.1 799.3,516.4 799.7,523.5 800.1,513.1 800.5,520.8 800.9,513.7 801.3,524.4 801.7,514.8 802.1,523.7 802.5,513.6 802.9,524.3 803.3,514.5 803.7,521.4 804.1,514.8 804.5,520.0 804.9,516.1 805.3,521.7 805.7,517.9 806.1,524.6 806.5,515.2 806.9,524.3 807.3,514.1 807.7,521.2 808.1,515.5 808.5,522.8 808.9,514.5 809.3,522.8 809.7,513.7 810.1,522.0 810.5,516.5 810.9,521.1 811.3,515.0 811.7,522.7 812.1,512.6 812.5,519.9 812.9,512.2 813.3,520.4 813.7,512.6 814.1,523.1 814.5,511.8 814.9,520.5 815.3,514.6 815.7,523.0 816.1,515.9 816.5,523.4 816.9,514.6 817.3,521.4 817.7,514.4 818.1,520.0 818.5,514.2 818.9,522.4 819.3,516.3 819.7,521.3 820.1,516.1 820.5,523.3 820.9,515.1 821.3,522.3 821.7,515.2 822.1,520.7 822.5,511.7 822.9,518.5 823.1,511.5 823.3,470.3 823.6,397.5 823.7,374.3 824.1,277.7 824.5,303.7 824.6,309.3 824.9,328.8 825.1,340.7 825.3,354.1 825.6,372.1 825.7,379.7 826.1,404.0 826.5,430.0 826.9,454.1 827.3,480.4 827.7,498.8 828.1,502.1 828.5,503.1 828.9,505.4 829.3,503.3 829.7,514.5 830.1,507.6 830.5,512.9 830.9,505.3 831.3,514.4 831.7,512.2 832.1,519.4 832.5,513.3 832.9,519.3 833.3,513.1 833.7,521.6 834.1,512.0 834.5,522.5 834.9,513.2 835.3,522.8 835.7,514.6 836.1,524.9 836.5,514.8 836.9,521.5 837.3,517.7 837.7,522.4 838.1,515.5 838.5,523.1 838.9,514.4 839.3,522.6 839.7,516.2 840.1,524.6 840.5,516.5 840.9,526.1 841.3,515.7 841.7,524.4 842.1,516.3 842.5,519.6 842.9,514.4 843.3,520.5 843.7,512.1 844.1,521.5 844.5,513.1 844.9,522.0 845.3,511.6 845.7,521.9 846.1,511.1 846.5,517.2 846.9,514.0 847.3,519.9 847.7,513.7 848.1,518.1 848.5,512.3 848.9,518.8 849.3,513.0 849.7,522.1 850.1,511.9 850.5,521.7 850.9,512.0 851.3,522.9 851.7,515.0 852.1,523.2 852.5,516.8 852.9,522.0 853.3,514.7 853.7,520.2 854.1,515.1 854.5,518.2 854.9,511.3 855.3,518.0 855.7,512.9 856.1,522.4 856.5,512.1 856.9,519.1 857.3,511.1 857.7,520.5 858.1,511.3 858.5,521.4 858.9,512.5 859.3,517.3 859.7,512.2 860.1,517.3 860.5,510.7 860.9,516.6 861.3,511.2 861.7,470.6 861.8,457.9 862.1,423.4 862.3,398.9 862.5,405.8 862.8,414.2 862.9,418.0 863.3,430.1 863.7,443.3 863.8,445.5 864.1,455.4 864.3,461.0 864.5,467.8 864.7,473.6 864.9,480.4 865.1,486.1 865.3,492.9 865.5,498.4 865.7,505.7 865.9,505.1 866.1,510.6 866.5,505.8 866.9,511.7 867.3,506.0 867.7,516.4 868.1,506.6 868.5,516.7 868.9,509.2 869.3,520.5 869.7,510.9 870.1,515.5 870.5,508.3 870.9,518.2 871.3,510.7 871.7,517.6 872.1,512.2 872.5,518.4 872.9,513.6 873.3,517.2 873.7,513.5 874.1,519.2 874.5,513.2 874.9,523.0 875.3,512.0 875.7,522.5 876.1,515.5 876.5,521.6 876.9,514.0 877.3,522.4 877.7,513.4 878.1,521.6 878.5,513.9 878.9,522.6 879.3,515.8 879.7,524.5 880.1,515.5 880.5,523.9 880.9,517.6 881.3,525.1 881.7,515.0 882.1,523.8 882.5,514.8 882.9,520.7 883.3,436.0 883.4,416.3 883.7,354.4 883.9,314.3 884.1,324.7 884.4,341.4 884.5,345.9 884.9,368.3 885.3,388.9 885.4,395.0 885.7,410.4 885.9,421.7 886.1,431.6 886.3,443.2 886.5,453.0 886.7,464.7 886.9,474.5 887.1,485.9 887.3,496.1 887.5,502.8 887.7,502.9 888.1,505.0 888.5,502.8 888.9,514.0 889.3,507.7 889.7,514.5 890.1,506.3 890.5,517.1 890.9,510.9 891.3,517.9 891.7,508.0 892.1,516.4 892.5,511.1 892.9,520.6 893.3,513.7 893.7,516.8 894.1,513.4 894.5,518.6 894.9,511.1 895.3,521.0 895.7,512.9 896.1,520.5 896.5,514.3 896.9,518.4 897.3,512.4 897.7,463.2 897.8,449.2 898.1,410.0 898.3,382.2 898.5,390.3 898.8,399.8 898.9,404.3 899.3,417.6 899.7,432.5 899.8,435.4 900.1,446.7 900.3,453.3 900.5,460.9 900.7,467.2 900.9,475.1 901.1,481.4 901.3,489.5 901.5,495.4 901.7,503.6 901.9,504.9 902.1,511.1 902.5,504.9 902.9,512.2 903.3,507.9 903.7,513.3 904.1,510.1 904.5,519.3 904.9,507.8 905.3,517.0 905.7,509.6 906.1,519.7 906.5,511.4 906.9,518.7 907.3,515.0 907.7,524.1 908.1,511.6 908.5,522.4 908.9,512.2 909.3,520.4 909.7,516.3 910.1,524.2 910.5,514.6 910.9,523.9 911.3,513.6 911.6,523.7 911.7,505.1 912.1,460.0 912.5,413.8 912.6,402.9 912.9,411.1 913.1,418.1 913.3,423.2 913.6,433.0 913.7,435.2 914.1,447.9 914.5,459.5 914.6,463.2 914.9,471.3 915.0,475.1 915.3,483.4 915.4,487.6 915.7,495.6 915.8,499.7 916.1,505.3 916.2,512.3 916.5,503.6 916.9,515.1 917.3,506.9 917.7,513.7 918.1,504.7 918.5,516.6 918.9,504.7 919.3,515.5 919.7,507.8 920.1,520.7 920.5,510.3 920.9,517.9 921.3,511.6 921.7,516.6 922.1,508.8 922.5,518.3 922.9,511.9 923.3,518.4 923.7,508.7 924.1,519.7 924.5,510.1 924.9,519.9 925.3,510.2 925.7,518.7 926.1,513.0 926.5,521.4 926.6,513.9 926.9,485.3 927.1,463.3 927.3,442.2 927.6,409.4 927.7,413.0 928.1,423.5 928.5,435.7 928.6,437.7 928.9,447.1 929.1,451.8 929.3,458.6 929.6,466.3 929.7,470.0 930.0,477.6 930.1,481.2 930.4,488.7 930.5,492.5 930.8,500.1 930.9,503.6 931.2,507.4 931.3,513.3 931.7,505.2 932.1,517.3 932.5,507.6 932.9,514.8 933.3,508.5 933.7,516.4 934.1,509.8 934.5,516.4 934.9,510.4 935.3,518.9 935.7,513.3 936.1,520.7 936.5,510.8 936.9,522.0 937.3,512.0 937.7,521.2 938.1,513.1 938.5,520.2 938.9,513.3 939.3,523.5 939.7,517.0 940.1,524.9 940.5,513.0 940.9,476.7 941.0,465.8 941.3,436.0 941.5,415.0 941.7,421.0 942.0,428.6 942.1,432.0 942.5,441.7 942.9,453.6 943.0,455.2 943.3,464.3 943.5,468.9 943.7,475.1 943.9,479.3 944.1,485.5 944.3,490.4 944.5,496.7 944.7,501.4 944.9,516.0 945.1,509.9 945.3,519.4 945.7,506.6 946.1,517.9 946.5,510.8 946.9,518.3 947.3,510.5 947.7,520.3 948.1,513.4 948.5,521.8 948.9,513.0 949.3,521.4 949.7,510.9 950.1,518.9 950.5,513.4 950.9,523.2 951.3,511.6 951.7,521.8 952.1,516.8 952.5,525.2 952.9,515.7 953.2,522.9 953.3,506.0 953.7,465.7 954.1,423.2 954.2,413.7 954.5,421.3 954.7,427.6 954.9,432.1 955.2,441.5 955.3,443.5 955.7,455.0 956.1,465.2 956.2,468.7 956.5,476.3 956.6,479.8 956.9,487.2 957.0,490.7 957.3,498.0 957.4,501.8 957.7,508.0 957.8,518.0 958.1,509.2 958.5,517.6 958.9,510.4 959.3,517.7 959.7,511.4 960.1,519.8 960.5,511.7 960.9,523.1 961.3,512.7 961.7,521.9 962.1,515.9 962.5,521.9 962.9,514.3 963.3,520.6 963.7,514.4 964.1,520.6 964.5,512.1 964.9,521.0 965.3,512.3 965.7,522.9 966.1,513.2 966.5,521.3 966.8,511.5 966.9,510.6 967.3,465.0 967.7,425.0 967.8,413.7 968.1,422.5 968.3,427.2 968.5,432.9 968.8,440.6 968.9,443.7 969.3,453.6 969.7,464.9 969.8,467.2 970.1,475.6 970.2,477.7 970.5,486.3 970.6,488.4 970.9,497.2 971.0,499.4 971.3,512.7 971.4,505.4 971.7,511.2 972.1,508.7 972.5,513.3 972.9,508.9 973.3,516.4 973.7,511.9 974.1,517.6 974.5,508.8 974.9,516.7 975.3,510.9 975.7,515.1 976.1,510.4 976.5,519.1 976.9,511.6 977.3,516.2 977.7,512.1 978.1,517.9 978.5,513.3 978.9,513.8 979.3,512.1 979.7,517.9 980.1,512.4 980.5,517.0 980.9,512.6 981.3,518.4 981.7,512.8 982.1,518.0 982.4,511.7 982.5,507.1 982.9,470.1 983.3,434.6 983.4,424.7 983.7,437.2 983.9,444.3 984.1,452.7 984.4,463.7 984.5,468.2 984.9,483.0 985.3,499.2 985.4,502.4 985.7,512.9 985.8,508.0 986.1,515.1 986.2,510.9 986.5,514.9 986.6,510.3 986.9,516.8 987.0,510.7 987.3,519.1 987.7,513.2 988.1,519.3 988.5,514.3 988.9,518.2 989.3,513.2 989.7,517.3 990.1,513.2 990.5,518.7 990.9,511.8 991.3,515.9 991.7,512.2 992.1,518.4 992.5,512.5 992.9,519.1 993.1,513.9 993.3,500.9 993.6,477.4 993.7,470.5 994.1,439.5 994.5,453.2 994.6,455.9 994.9,466.0 995.1,472.1 995.3,479.2 995.6,488.4 995.7,492.4 996.1,502.0 996.5,515.7 996.9,512.5 997.3,518.4 997.7,513.3 998.1,518.8 998.5,511.1 998.9,516.5 999.3,511.6 999.7,518.6 1000.1,512.9 1000.5,519.0 1000.9,514.3 1001.3,519.1 1001.7,513.1 1002.1,518.7 1002.5,514.1 1002.9,518.4 1003.3,515.2 1003.7,520.3 1004.1,513.7 1004.5,519.5 1004.9,512.2 1005.3,517.5 1005.7,512.9 1005.8,515.9 1006.1,488.9 1006.3,471.6 1006.5,453.3 1006.8,426.9 1006.9,430.1 1007.3,446.0 1007.7,460.9 1007.8,465.0 1008.1,476.0 1008.3,484.3 1008.5,491.4 1008.8,503.5 1008.9,504.3 1009.2,515.9 1009.3,506.9 1009.6,513.2 1009.7,508.9 1010.0,513.7 1010.1,507.5 1010.4,513.9 1010.5,509.3 1010.9,517.8 1011.3,510.6 1011.7,517.2 1012.1,510.7 1012.5,516.6 1012.9,510.0 1013.3,517.5 1013.7,511.6 1014.1,515.9 1014.5,508.7 1014.9,516.2 1015.3,509.7 1015.7,518.5 1015.9,513.1 1016.1,498.7 1016.4,471.3 1016.5,463.1 1016.9,427.0 1017.3,442.6 1017.4,446.0 1017.7,457.8 1017.9,464.9 1018.1,473.0 1018.4,483.9 1018.5,488.3 1018.9,503.0 1019.3,514.4 1019.7,514.7 1020.1,519.2 1020.5,514.9 1020.9,519.5 1021.3,515.7 1021.7,519.6 1022.1,513.5 1022.5,520.2 1022.9,515.0 1023.3,521.1 1023.7,512.6 1024.1,521.7 1024.5,516.0 1024.9,521.4 1025.3,516.4 1025.7,520.5 1026.1,517.8 1026.5,522.6 1026.9,515.6 1027.3,521.0 1027.7,515.5 1028.1,521.1 1028.5,514.6 1028.9,523.0 1029.3,514.8 1029.7,520.2 1030.1,516.3 1030.5,522.7 1030.9,515.3 1031.3,522.9 1031.7,515.7 1032.1,522.3 1032.5,514.6 1032.9,520.3 1033.3,512.7 1033.7,518.4 1034.0,512.6 1034.1,506.6 1034.5,458.5 1034.9,413.3 1035.0,401.5 1035.3,416.7 1035.5,425.9 1035.7,436.3 1036.0,450.3 1036.1,455.7 1036.5,474.7 1036.9,494.7 1037.0,499.2 1037.3,512.3 1037.4,505.5 1037.7,513.5 1037.8,506.2 1038.1,515.8 1038.2,506.8 1038.5,515.1 1038.6,508.3 1038.9,515.1 1039.3,510.8 1039.7,517.0 1040.1,509.4 1040.5,514.9 1040.9,510.0 1041.3,517.8 1041.7,512.6 1042.1,515.7 1042.5,510.4 1042.9,517.8 1043.3,511.5 1043.7,517.6 1044.1,511.6 1044.5,517.5 1044.9,512.0 1045.3,520.6 1045.7,512.1 1046.1,519.8 1046.5,512.6 1046.9,518.1 1047.3,512.1 1047.7,516.0 1048.1,512.2 1048.5,516.1 1048.9,516.3 1049.3,518.2 1049.7,513.1 1050.1,516.7 1050.5,512.3 1050.9,520.5 1051.3,514.9 1051.7,520.6 1052.1,515.0 1052.5,528.0 1052.9,513.3 1053.0,519.9 1053.3,486.0 1053.5,466.4 1053.7,445.8 1054.0,416.3 1054.1,419.7 1054.5,437.4 1054.9,454.3 1055.0,459.2 1055.3,471.3 1055.5,480.4 1055.7,488.3 1056.0,502.0 1056.1,503.6 1056.4,515.5 1056.5,509.6 1056.8,513.9 1056.9,508.0 1057.2,525.9 1057.3,512.1 1057.6,514.9 1057.7,509.3 1058.1,515.3 1058.5,511.0 1058.9,516.0 1059.3,513.1 1059.7,516.6 1060.1,512.8 1060.5,519.5 1060.9,512.8 1061.3,518.0 1061.7,512.2 1062.1,520.9 1062.5,512.8 1062.9,518.5 1063.3,513.8 1063.7,518.8 1064.1,515.0 1064.5,520.9 1064.9,513.6 1065.3,520.0 1065.7,515.9 1066.1,519.6 1066.5,516.1 1066.9,521.2 1067.3,514.7 1067.7,519.0 1068.1,513.5 1068.5,520.6 1068.9,512.5 1069.3,518.9 1069.7,514.1 1070.1,521.0 1070.5,517.5 1070.9,521.8 1071.3,513.7 1071.7,519.3 1072.1,514.6 1072.5,518.8 1072.9,514.0 1073.3,517.0 1073.7,512.0 1073.9,519.2 1074.1,486.9 1074.4,443.9 1074.5,428.7 1074.9,370.9 1075.3,395.3 1075.4,402.3 1075.7,420.2 1075.9,433.5 1076.1,445.2 1076.4,464.3 1076.5,470.0 1076.9,495.4 1077.3,505.9 1077.7,515.5 1078.1,509.6 1078.5,516.3 1078.9,510.8 1079.3,517.0 1079.7,510.6 1080.1,518.1 1080.5,512.4 1080.9,517.7 1081.3,511.0 1081.7,517.1 1082.1,511.9 1082.5,515.9 1082.9,511.3 1083.3,515.4 1083.7,509.4 1084.1,516.4 1084.5,510.2 1084.9,517.5 1085.3,509.6 1085.7,516.3 1086.1,509.8 1086.5,517.6 1086.9,512.1 1087.3,518.1 1087.7,512.4 1088.1,516.0 1088.5,510.3 1088.9,517.7 1089.3,511.3 1089.7,517.9 1090.1,513.7 1090.5,519.2 1090.9,511.7 1091.3,470.7 1091.4,458.6 1091.7,424.8 1091.9,401.3 1092.1,411.9 1092.4,426.1 1092.5,431.5 1092.9,450.5 1093.3,470.5 1093.4,475.0 1093.7,490.3 1093.9,499.5 1094.1,514.3 1094.3,507.6 1094.5,514.6 1094.7,511.5 1094.9,516.7 1095.1,512.8 1095.3,515.2 1095.5,510.8 1095.7,516.9 1096.1,512.5 1096.5,516.2 1096.9,510.8 1097.3,517.2 1097.7,511.2 1098.1,518.2 1098.5,512.3 1098.9,518.5 1099.3,512.6 1099.7,517.0 1100.1,511.7 1100.5,519.0 1100.9,510.7 1101.3,514.8 1101.7,511.3 1102.1,514.2 1102.5,511.1 1102.9,515.3 1103.3,509.4 1103.7,514.1 1104.1,507.3 1104.5,513.1 1104.9,510.5 1105.3,516.4 1105.7,508.1 1106.1,515.1 1106.5,511.6 1106.9,517.0 1107.3,511.0 1107.7,516.6 1108.1,513.5 1108.5,518.7 1108.9,511.5 1109.0,516.3 1109.3,477.4 1109.5,452.6 1109.7,426.6 1110.0,389.2 1110.1,393.9 1110.5,416.4 1110.9,437.5 1111.0,443.7 1111.3,459.3 1111.5,470.5 1111.7,481.0 1112.0,498.0 1112.1,502.8 1112.4,510.2 1112.5,506.5 1112.8,513.3 1112.9,505.2 1113.2,513.8 1113.3,509.2 1113.6,513.6 1113.7,510.2 1114.1,515.4 1114.5,509.4 1114.9,517.8 1115.3,509.9 1115.7,515.5 1116.1,510.8 1116.5,516.9 1116.9,512.1 1117.3,518.2 1117.7,512.1 1118.1,519.0 1118.5,513.9 1118.9,519.1 1119.3,514.6 1119.7,522.1 1120.1,516.1 1120.5,518.6 1120.9,514.0 1121.3,520.7 1121.7,512.2 1122.1,518.8 1122.5,516.2 1122.9,513.2 1123.3,514.8 1123.7,520.2 1124.1,513.9 1124.5,520.4 1124.9,514.3 1125.3,520.5 1125.7,513.2 1126.1,519.8 1126.5,512.3 1126.9,521.3 1127.3,514.3 1127.7,519.8 1128.1,514.2 1128.5,522.9 1128.9,513.0 1129.3,523.8 1129.7,517.0 1130.1,519.1 1130.5,514.1 1130.9,520.4 1131.3,515.0 1131.7,521.3 1132.1,515.5 1132.5,522.6 1132.9,514.1 1133.3,520.3 1133.7,513.9 1134.1,518.1 1134.5,512.4 1134.9,517.1 1135.3,510.8 1135.7,517.1 1136.1,512.0 1136.5,520.3 1136.9,506.7 1137.3,517.9 1137.7,513.2 1138.1,520.7 1138.5,512.5 1138.9,517.4 1139.3,511.9 1139.7,518.8 1140.1,512.8 1140.5,518.0 1140.9,512.1 1141.3,517.1 1141.7,513.7 1142.1,518.1 1142.5,511.4 1142.9,518.5 1143.3,512.8 1143.7,517.6 1143.8,512.5 1144.1,476.1 1144.3,448.5 1144.5,421.9 1144.8,380.9 1144.9,385.4 1145.3,398.1 1145.7,411.7 1145.8,414.4 1146.1,425.2 1146.3,431.6 1146.5,439.0 1146.8,448.1 1146.9,452.6 1147.2,461.3 1147.3,465.5 1147.6,474.7 1147.7,478.9 1148.0,488.2 1148.1,492.5 1148.4,496.9 1148.5,504.5 1148.9,493.5 1149.3,505.1 1149.7,495.4 1150.1,502.0 1150.5,495.4 1150.9,506.3 1151.3,499.7 1151.7,505.8 1152.1,502.6 1152.5,509.6 1152.9,500.8 1153.3,514.2 1153.7,503.0 1154.1,511.9 1154.5,503.2 1154.9,512.3 1155.3,503.5 1155.7,511.3 1156.1,504.0 1156.5,510.1 1156.9,505.6 1157.3,513.2 1157.7,504.3 1158.1,515.0 1158.5,503.3 1158.9,511.7 1159.3,501.5 1159.7,513.2 1160.1,504.5 1160.5,511.6 1160.9,505.2 1161.3,511.9 1161.7,506.6 1162.1,514.1 1162.5,505.7 1162.9,513.1 1163.3,507.6 1163.7,516.6 1164.1,505.2 1164.5,513.5 1164.9,506.7 1165.3,513.6 1165.7,508.9 1166.1,516.2 1166.5,508.8 1166.9,514.6 1167.3,507.2 1167.7,518.0 1168.1,506.3 1168.5,517.3 1168.9,506.0 1169.3,515.2 1169.7,507.6 1170.1,516.2 1170.5,508.2 1170.9,515.2 1171.3,509.5 1171.7,515.4 1172.1,507.9 1172.5,519.0 1172.9,509.6 1173.3,513.7 1173.7,511.3 1174.1,517.1 1174.5,508.8 1174.9,517.8 1175.3,510.7 1175.6,518.1 1175.7,498.1 1176.1,434.0 1176.5,367.6 1176.6,352.2 1176.9,364.0 1177.1,373.8 1177.3,381.3 1177.6,395.4 1177.7,398.7 1178.1,416.8 1178.5,432.8 1178.6,438.1 1178.9,450.2 1179.0,455.6 1179.3,467.8 1179.4,472.4 1179.7,484.7 1179.8,489.5 1180.1,502.0 1180.2,502.9 1180.5,501.2 1180.9,513.5 1181.3,502.5 1181.7,510.7 1182.1,505.2 1182.5,516.8 1182.9,506.3 1183.3,516.6 1183.7,509.7 1184.1,518.2 1184.5,512.1 1184.9,520.2 1185.3,510.9 1185.7,520.0 1186.1,511.8 1186.5,518.7 1186.9,509.1 1187.3,517.4 1187.7,512.8 1188.1,521.3 1188.5,512.7 1188.9,522.8 1189.3,514.0 1189.7,521.2 1190.1,513.6 1190.5,520.8 1190.9,511.6 1191.3,519.3 1191.7,511.8 1192.1,520.3 1192.5,514.6 1192.9,522.4 1193.3,512.2 1193.7,521.4 1194.1,511.9 1194.5,519.9 1194.9,512.6 1195.3,523.5 1195.7,510.8 1196.1,519.2 1196.5,513.0 1196.9,520.1 1197.3,514.7 1197.7,521.0 1198.1,510.9 1198.5,520.0 1198.9,510.3 1199.3,522.3 1199.7,514.3 1200.1,522.1 1200.5,513.0 1200.9,522.1 1201.3,509.8 1201.7,520.5 1201.8,511.3 1202.1,494.9 1202.3,479.9 1202.5,466.6 1202.8,444.7 1202.9,447.1 1203.3,453.9 1203.7,462.1 1203.8,463.2 1204.1,469.6 1204.3,472.2 1204.5,476.7 1204.8,481.7 1204.9,484.4 1205.2,489.2 1205.3,491.8 1205.6,496.6 1205.7,499.2 1206.0,501.0 1206.1,510.6 1206.4,503.2 1206.5,512.0 1206.9,506.6 1207.3,512.7 1207.7,505.0 1208.1,513.4 1208.5,508.9 1208.9,517.1 1209.3,507.0 1209.7,516.3 1210.1,509.1 1210.5,518.7 1210.9,513.5 1211.3,523.0 1211.7,512.1 1212.1,521.9 1212.5,510.6 1212.9,518.7 1213.3,513.3 1213.7,517.7 1214.1,509.9 1214.5,521.7 1214.9,510.2 1215.3,518.0 1215.7,508.2 1216.1,521.6 1216.5,513.6 1216.9,519.2 1217.3,512.4 1217.7,520.8 1218.1,512.9 1218.5,523.6 1218.9,515.7 1219.3,523.5 1219.7,510.9 1220.1,518.9 1220.5,510.3 1220.9,516.6 1221.3,505.4 1221.7,518.3 1221.8,510.3 1222.1,462.4 1222.3,426.0 1222.5,391.4 1222.8,337.3 1222.9,342.8 1223.3,360.4 1223.7,380.1 1223.8,384.0 1224.1,399.0 1224.3,407.2 1224.5,417.7 1224.8,430.7 1224.9,436.1 1225.2,449.3 1225.3,455.1 1225.6,468.0 1225.7,473.7 1226.0,487.1 1226.1,492.4 1226.4,501.4 1226.5,502.5 1226.9,499.3 1227.0,506.8 1227.3,482.1 1227.5,468.3 1227.7,452.6 1228.0,431.4 1228.1,433.1 1228.5,442.8 1228.9,450.6 1229.0,453.6 1229.3,459.2 1229.5,464.3 1229.7,468.1 1230.0,475.1 1230.1,476.5 1230.4,483.4 1230.5,484.7 1230.8,492.2 1230.9,493.5 1231.2,500.6 1231.3,501.6 1231.6,508.6 1231.7,505.4"/>
</g>
<line x1="204.9" y1="37.9" x2="204.9" y2="48.9" stroke="#000" stroke-width="2.4"/>
<line x1="204.9" y1="553.8" x2="204.9" y2="542.8" stroke="#000" stroke-width="2.4"/>
<line x1="388.5" y1="37.9" x2="388.5" y2="48.9" stroke="#000" stroke-width="2.4"/>
<line x1="388.5" y1="553.8" x2="388.5" y2="542.8" stroke="#000" stroke-width="2.4"/>
<line x1="571.7" y1="37.9" x2="571.7" y2="48.9" stroke="#000" stroke-width="2.4"/>
<line x1="571.7" y1="553.8" x2="571.7" y2="542.8" stroke="#000" stroke-width="2.4"/>
<line x1="756.5" y1="37.9" x2="756.5" y2="48.9" stroke="#000" stroke-width="2.4"/>
<line x1="756.5" y1="553.8" x2="756.5" y2="542.8" stroke="#000" stroke-width="2.4"/>
<line x1="939.7" y1="37.9" x2="939.7" y2="48.9" stroke="#000" stroke-width="2.4"/>
<line x1="939.7" y1="553.8" x2="939.7" y2="542.8" stroke="#000" stroke-width="2.4"/>
<line x1="1122.4" y1="37.9" x2="1122.4" y2="48.9" stroke="#000" stroke-width="2.4"/>
<line x1="1122.4" y1="553.8" x2="1122.4" y2="542.8" stroke="#000" stroke-width="2.4"/>
<line x1="94.8" y1="381.8" x2="107.3" y2="381.8" stroke="#000" stroke-width="2.4"/>
<line x1="1232.5" y1="381.8" x2="1220.5" y2="381.8" stroke="#000" stroke-width="2.4"/>
<line x1="94.8" y1="209.9" x2="107.3" y2="209.9" stroke="#000" stroke-width="2.4"/>
<line x1="1232.5" y1="209.9" x2="1220.5" y2="209.9" stroke="#000" stroke-width="2.4"/>
<rect x="94.0" y="36.2" width="1140.8" height="520.6" fill="none" stroke="#c4c4c4" stroke-width="2"/>
<path d="M95.3,555.2 V38.1 H1233.0 V554.9 H94.2" fill="none" stroke="#000" stroke-width="2.5"/>
<line x1="95.3" y1="38" x2="95.3" y2="555" stroke="#5a5a5a" stroke-width="4.4"/>
<line x1="561.8" y1="255.9" x2="650" y2="346.5" stroke="#ff0000" stroke-width="2.0"/>
<polygon points="638.9,344.9 652.6,335.6 660.3,356.6" fill="#ff0000"/>
<text x="498" y="250" font-family='"Liberation Serif", "DejaVu Serif", serif' font-style="italic" font-size="47" fill="#ff0000">I<tspan font-size="28" dx="3" dy="5.5" letter-spacing="1.9">div</tspan></text>
<text transform="translate(204.9,586.2) scale(1,1.05)" text-anchor="middle" font-family='"Liberation Sans", Arial, Helvetica, sans-serif' font-size="30" fill="#000">8.25</text>
<text transform="translate(388.5,586.2) scale(1,1.05)" text-anchor="middle" font-family='"Liberation Sans", Arial, Helvetica, sans-serif' font-size="30" fill="#000">8.3</text>
<text transform="translate(571.7,586.2) scale(1,1.05)" text-anchor="middle" font-family='"Liberation Sans", Arial, Helvetica, sans-serif' font-size="30" fill="#000">8.35</text>
<text transform="translate(756.5,586.2) scale(1,1.05)" text-anchor="middle" font-family='"Liberation Sans", Arial, Helvetica, sans-serif' font-size="30" fill="#000">8.4</text>
<text transform="translate(939.7,586.2) scale(1,1.05)" text-anchor="middle" font-family='"Liberation Sans", Arial, Helvetica, sans-serif' font-size="30" fill="#000">8.45</text>
<text transform="translate(1122.4,586.2) scale(1,1.05)" text-anchor="middle" font-family='"Liberation Sans", Arial, Helvetica, sans-serif' font-size="30" fill="#000">8.5</text>
<text transform="translate(90.6,564.8) scale(1,1.05)" text-anchor="end" font-family='"Liberation Sans", Arial, Helvetica, sans-serif' font-size="30" fill="#000">0</text>
<text transform="translate(90.6,392.8) scale(1,1.05)" text-anchor="end" font-family='"Liberation Sans", Arial, Helvetica, sans-serif' font-size="30" fill="#000">0.5</text>
<text transform="translate(90.6,220.9) scale(1,1.05)" text-anchor="end" font-family='"Liberation Sans", Arial, Helvetica, sans-serif' font-size="30" fill="#000">1</text>
<text transform="translate(90.6,47.5) scale(1,1.05)" text-anchor="end" font-family='"Liberation Sans", Arial, Helvetica, sans-serif' font-size="30" fill="#000">1.5</text>
<text transform="translate(99.3,29.8) scale(1,1.09)" font-family='"Liberation Sans", Arial, Helvetica, sans-serif' font-size="33.5" fill="#0000ff">EAST #42327</text>
<text transform="translate(100.2,77.6) scale(1,1.025)" font-family='"Liberation Sans", Arial, Helvetica, sans-serif' font-size="44" fill="#000">(a)</text>
<text x="601.5" y="619.9" font-family='"Liberation Serif", "DejaVu Serif", serif' font-size="35.5" fill="#333333"><tspan font-style="italic" letter-spacing="3.2">time</tspan> (s)</text>
<text transform="translate(33,397.5) rotate(-90)" font-family='"Liberation Serif", "DejaVu Serif", serif' font-size="35" fill="#333333"><tspan font-style="italic">P</tspan><tspan font-style="italic" font-size="27.5" dy="6.5" dx="-2" letter-spacing="1.3">LHCD</tspan><tspan dy="-6.5" dx="3.5"> (MW)</tspan></text>
</g>
<g id="panel-b">
<defs><clipPath id="clipB"><rect x="92.5" y="674.3" width="1138.9" height="517.7"/></clipPath></defs>
<rect x="92.5" y="698.1" width="1138.9" height="70.6" fill="#808080"/>
<rect x="92.5" y="768.3" width="1138.9" height="1.6" fill="#b4b4b4"/>
<line x1="173.9" y1="685.3" x2="173.9" y2="1182.0" stroke="#000" stroke-opacity="0.55" stroke-width="2" stroke-dasharray="3.7 3.77"/>
<line x1="254.6" y1="685.3" x2="254.6" y2="1182.0" stroke="#000" stroke-opacity="0.55" stroke-width="2" stroke-dasharray="3.7 3.77"/>
<line x1="336.3" y1="685.3" x2="336.3" y2="1182.0" stroke="#000" stroke-opacity="0.55" stroke-width="2" stroke-dasharray="3.7 3.77"/>
<line x1="417.1" y1="685.3" x2="417.1" y2="1182.0" stroke="#000" stroke-opacity="0.55" stroke-width="2" stroke-dasharray="3.7 3.77"/>
<line x1="499.6" y1="685.3" x2="499.6" y2="1182.0" stroke="#000" stroke-opacity="0.55" stroke-width="2" stroke-dasharray="3.7 3.77"/>
<line x1="581.0" y1="685.3" x2="581.0" y2="1182.0" stroke="#000" stroke-opacity="0.55" stroke-width="2" stroke-dasharray="3.7 3.77"/>
<line x1="661.5" y1="685.3" x2="661.5" y2="1182.0" stroke="#000" stroke-opacity="0.55" stroke-width="2" stroke-dasharray="3.7 3.77"/>
<line x1="742.9" y1="685.3" x2="742.9" y2="1182.0" stroke="#000" stroke-opacity="0.55" stroke-width="2" stroke-dasharray="3.7 3.77"/>
<line x1="823.6" y1="685.3" x2="823.6" y2="1182.0" stroke="#000" stroke-opacity="0.55" stroke-width="2" stroke-dasharray="3.7 3.77"/>
<line x1="906.4" y1="685.3" x2="906.4" y2="1182.0" stroke="#000" stroke-opacity="0.55" stroke-width="2" stroke-dasharray="3.7 3.77"/>
<line x1="987.2" y1="685.3" x2="987.2" y2="1182.0" stroke="#000" stroke-opacity="0.55" stroke-width="2" stroke-dasharray="3.7 3.77"/>
<line x1="1068.5" y1="685.3" x2="1068.5" y2="1182.0" stroke="#000" stroke-opacity="0.55" stroke-width="2" stroke-dasharray="3.7 3.77"/>
<line x1="1149.9" y1="685.3" x2="1149.9" y2="1182.0" stroke="#000" stroke-opacity="0.55" stroke-width="2" stroke-dasharray="3.7 3.77"/>
<line x1="105.5" y1="1170.1" x2="1218.4" y2="1170.1" stroke="#000" stroke-opacity="0.68" stroke-width="2" stroke-dasharray="3.7 3.77"/>
<line x1="105.5" y1="1121.8" x2="1218.4" y2="1121.8" stroke="#000" stroke-opacity="0.68" stroke-width="2" stroke-dasharray="3.7 3.77"/>
<line x1="105.5" y1="1074.0" x2="1218.4" y2="1074.0" stroke="#000" stroke-opacity="0.68" stroke-width="2" stroke-dasharray="3.7 3.77"/>
<line x1="105.5" y1="1026.8" x2="1218.4" y2="1026.8" stroke="#000" stroke-opacity="0.68" stroke-width="2" stroke-dasharray="3.7 3.77"/>
<line x1="105.5" y1="981.0" x2="1218.4" y2="981.0" stroke="#000" stroke-opacity="0.68" stroke-width="2" stroke-dasharray="3.7 3.77"/>
<line x1="105.5" y1="934.2" x2="1218.4" y2="934.2" stroke="#000" stroke-opacity="0.68" stroke-width="2" stroke-dasharray="3.7 3.77"/>
<line x1="105.5" y1="885.8" x2="1218.4" y2="885.8" stroke="#000" stroke-opacity="0.68" stroke-width="2" stroke-dasharray="3.7 3.77"/>
<line x1="105.5" y1="840.0" x2="1218.4" y2="840.0" stroke="#000" stroke-opacity="0.68" stroke-width="2" stroke-dasharray="3.7 3.77"/>
<line x1="105.5" y1="792.2" x2="1218.4" y2="792.2" stroke="#000" stroke-opacity="0.68" stroke-width="2" stroke-dasharray="3.7 3.77"/>
<line x1="105.5" y1="744.6" x2="1218.4" y2="744.6" stroke="#000" stroke-opacity="0.68" stroke-width="2" stroke-dasharray="3.7 3.77"/>
<line x1="105.5" y1="698.1" x2="1218.4" y2="698.1" stroke="#000" stroke-opacity="0.68" stroke-width="2" stroke-dasharray="3.7 3.77"/>
<line x1="173.9" y1="674.3" x2="173.9" y2="685.3" stroke="#000" stroke-width="2.4"/>
<line x1="173.9" y1="1192.0" x2="173.9" y2="1181.0" stroke="#000" stroke-width="2.4"/>
<line x1="254.6" y1="674.3" x2="254.6" y2="685.3" stroke="#000" stroke-width="2.4"/>
<line x1="254.6" y1="1192.0" x2="254.6" y2="1181.0" stroke="#000" stroke-width="2.4"/>
<line x1="336.3" y1="674.3" x2="336.3" y2="685.3" stroke="#000" stroke-width="2.4"/>
<line x1="336.3" y1="1192.0" x2="336.3" y2="1181.0" stroke="#000" stroke-width="2.4"/>
<line x1="417.1" y1="674.3" x2="417.1" y2="685.3" stroke="#000" stroke-width="2.4"/>
<line x1="417.1" y1="1192.0" x2="417.1" y2="1181.0" stroke="#000" stroke-width="2.4"/>
<line x1="499.6" y1="674.3" x2="499.6" y2="685.3" stroke="#000" stroke-width="2.4"/>
<line x1="499.6" y1="1192.0" x2="499.6" y2="1181.0" stroke="#000" stroke-width="2.4"/>
<line x1="581.0" y1="674.3" x2="581.0" y2="685.3" stroke="#000" stroke-width="2.4"/>
<line x1="581.0" y1="1192.0" x2="581.0" y2="1181.0" stroke="#000" stroke-width="2.4"/>
<line x1="661.5" y1="674.3" x2="661.5" y2="685.3" stroke="#000" stroke-width="2.4"/>
<line x1="661.5" y1="1192.0" x2="661.5" y2="1181.0" stroke="#000" stroke-width="2.4"/>
<line x1="742.9" y1="674.3" x2="742.9" y2="685.3" stroke="#000" stroke-width="2.4"/>
<line x1="742.9" y1="1192.0" x2="742.9" y2="1181.0" stroke="#000" stroke-width="2.4"/>
<line x1="823.6" y1="674.3" x2="823.6" y2="685.3" stroke="#000" stroke-width="2.4"/>
<line x1="823.6" y1="1192.0" x2="823.6" y2="1181.0" stroke="#000" stroke-width="2.4"/>
<line x1="906.4" y1="674.3" x2="906.4" y2="685.3" stroke="#000" stroke-width="2.4"/>
<line x1="906.4" y1="1192.0" x2="906.4" y2="1181.0" stroke="#000" stroke-width="2.4"/>
<line x1="987.2" y1="674.3" x2="987.2" y2="685.3" stroke="#000" stroke-width="2.4"/>
<line x1="987.2" y1="1192.0" x2="987.2" y2="1181.0" stroke="#000" stroke-width="2.4"/>
<line x1="1068.5" y1="674.3" x2="1068.5" y2="685.3" stroke="#000" stroke-width="2.4"/>
<line x1="1068.5" y1="1192.0" x2="1068.5" y2="1181.0" stroke="#000" stroke-width="2.4"/>
<line x1="1149.9" y1="674.3" x2="1149.9" y2="685.3" stroke="#000" stroke-width="2.4"/>
<line x1="1149.9" y1="1192.0" x2="1149.9" y2="1181.0" stroke="#000" stroke-width="2.4"/>
<line x1="92.5" y1="1170.1" x2="104.5" y2="1170.1" stroke="#333" stroke-width="2.6"/>
<line x1="1231.4" y1="1170.1" x2="1218.4" y2="1170.1" stroke="#333" stroke-width="2.6"/>
<line x1="92.5" y1="1121.8" x2="104.5" y2="1121.8" stroke="#333" stroke-width="2.6"/>
<line x1="1231.4" y1="1121.8" x2="1218.4" y2="1121.8" stroke="#333" stroke-width="2.6"/>
<line x1="92.5" y1="1074.0" x2="104.5" y2="1074.0" stroke="#333" stroke-width="2.6"/>
<line x1="1231.4" y1="1074.0" x2="1218.4" y2="1074.0" stroke="#333" stroke-width="2.6"/>
<line x1="92.5" y1="1026.8" x2="104.5" y2="1026.8" stroke="#333" stroke-width="2.6"/>
<line x1="1231.4" y1="1026.8" x2="1218.4" y2="1026.8" stroke="#333" stroke-width="2.6"/>
<line x1="92.5" y1="981.0" x2="104.5" y2="981.0" stroke="#333" stroke-width="2.6"/>
<line x1="1231.4" y1="981.0" x2="1218.4" y2="981.0" stroke="#333" stroke-width="2.6"/>
<line x1="92.5" y1="934.2" x2="104.5" y2="934.2" stroke="#333" stroke-width="2.6"/>
<line x1="1231.4" y1="934.2" x2="1218.4" y2="934.2" stroke="#333" stroke-width="2.6"/>
<line x1="92.5" y1="885.8" x2="104.5" y2="885.8" stroke="#333" stroke-width="2.6"/>
<line x1="1231.4" y1="885.8" x2="1218.4" y2="885.8" stroke="#333" stroke-width="2.6"/>
<line x1="92.5" y1="840.0" x2="104.5" y2="840.0" stroke="#333" stroke-width="2.6"/>
<line x1="1231.4" y1="840.0" x2="1218.4" y2="840.0" stroke="#333" stroke-width="2.6"/>
<line x1="92.5" y1="792.2" x2="104.5" y2="792.2" stroke="#333" stroke-width="2.6"/>
<line x1="1231.4" y1="792.2" x2="1218.4" y2="792.2" stroke="#333" stroke-width="2.6"/>
<line x1="92.5" y1="744.6" x2="104.5" y2="744.6" stroke="#333" stroke-width="2.6"/>
<line x1="1231.4" y1="744.6" x2="1218.4" y2="744.6" stroke="#333" stroke-width="2.6"/>
<line x1="92.5" y1="698.1" x2="104.5" y2="698.1" stroke="#333" stroke-width="2.6"/>
<line x1="1231.4" y1="698.1" x2="1218.4" y2="698.1" stroke="#333" stroke-width="2.6"/>
<line x1="107.8" y1="756.8" x2="573.6" y2="756.8" stroke="#ff0000" stroke-width="10.4" stroke-dasharray="9.4 10.56"/>
<polygon points="167.7,778.4 196.3,778.4 182.0,754.0" fill="none" stroke="#000" stroke-width="4" stroke-linejoin="miter"/>
<polygon points="363.3,730.9 391.9,730.9 377.6,706.5" fill="none" stroke="#000" stroke-width="4" stroke-linejoin="miter"/>
<polygon points="400.7,721.2 429.3,721.2 415.0,696.8" fill="none" stroke="#000" stroke-width="4" stroke-linejoin="miter"/>
<polygon points="392.3,795.7 420.9,795.7 406.6,771.3" fill="none" stroke="#000" stroke-width="4" stroke-linejoin="miter"/>
<polygon points="445.2,777.9 473.8,777.9 459.5,753.5" fill="none" stroke="#000" stroke-width="4" stroke-linejoin="miter"/>
<polygon points="426.9,814.8 455.5,814.8 441.2,790.4" fill="none" stroke="#000" stroke-width="4" stroke-linejoin="miter"/>
<polygon points="652.7,778.4 681.3,778.4 667.0,754.0" fill="none" stroke="#000" stroke-width="4" stroke-linejoin="miter"/>
<polygon points="637.3,810.5 665.9,810.5 651.6,786.1" fill="none" stroke="#000" stroke-width="4" stroke-linejoin="miter"/>
<polygon points="646.4,908.3 675.0,908.3 660.7,883.9" fill="none" stroke="#000" stroke-width="4" stroke-linejoin="miter"/>
<polygon points="648.7,929.6 677.3,929.6 663.0,905.2" fill="none" stroke="#000" stroke-width="4" stroke-linejoin="miter"/>
<polygon points="871.8,896.1 900.4,896.1 886.1,871.7" fill="none" stroke="#000" stroke-width="4" stroke-linejoin="miter"/>
<polygon points="810.1,941.8 838.7,941.8 824.4,917.4" fill="none" stroke="#000" stroke-width="4" stroke-linejoin="miter"/>
<polygon points="906.5,980.0 935.1,980.0 920.8,955.6" fill="none" stroke="#000" stroke-width="4" stroke-linejoin="miter"/>
<polygon points="798.5,1036.7 827.1,1036.7 812.8,1012.3" fill="none" stroke="#000" stroke-width="4" stroke-linejoin="miter"/>
<polygon points="633.9,1180.8 662.5,1180.8 648.2,1156.4" fill="none" stroke="#000" stroke-width="4" stroke-linejoin="miter"/>
<polygon points="933.0,1005.8 961.6,1005.8 947.3,981.4" fill="none" stroke="#000" stroke-width="4" stroke-linejoin="miter"/>
<polygon points="1070.5,1023.2 1099.1,1023.2 1084.8,998.8" fill="none" stroke="#000" stroke-width="4" stroke-linejoin="miter"/>
<polygon points="1183.7,1102.7 1212.3,1102.7 1198.0,1078.3" fill="none" stroke="#000" stroke-width="4" stroke-linejoin="miter"/>
<polygon points="1021.8,1139.1 1050.4,1139.1 1036.1,1114.7" fill="none" stroke="#000" stroke-width="4" stroke-linejoin="miter"/>
<line x1="584.4" y1="757.0" x2="1204.7" y2="1175.0" stroke="#ff0000" stroke-width="8.0" stroke-dasharray="8.0 11.97"/>
<line x1="1229.3" y1="676" x2="1229.3" y2="1190" stroke="#d4d4d4" stroke-width="1.8"/>
<line x1="94.0" y1="676" x2="94.0" y2="1190.5" stroke="#b4b4b4" stroke-width="1.8"/>
<line x1="91" y1="1194.4" x2="1232.4" y2="1194.4" stroke="#c8c8c8" stroke-width="1.4"/>
<line x1="91" y1="674.65" x2="1232.4" y2="674.65" stroke="#555" stroke-width="3.1"/>
<line x1="1231.3" y1="673.6" x2="1231.3" y2="1193.6" stroke="#0a0a0a" stroke-width="2.2"/>
<line x1="91" y1="1192.0" x2="1232.4" y2="1192.0" stroke="#000" stroke-width="3.2"/>
<line x1="92.1" y1="673.2" x2="92.1" y2="1193.6" stroke="#111" stroke-width="2.4"/>
<line x1="524.3" y1="905.3" x2="567.5" y2="794.5" stroke="#ff0000" stroke-width="2.2"/>
<polygon points="558.4,797.6 570.4,804.6 573.5,779.0" fill="#ff0000"/>
<text x="465" y="941" font-family='"Liberation Serif", "DejaVu Serif", serif' font-style="italic" font-size="45.5" fill="#ff0000">P</text>
<line x1="476.4" y1="905.7" x2="491.8" y2="905.7" stroke="#ff0000" stroke-width="1.8"/>
<text x="499" y="923.5" font-family='"Liberation Serif", "DejaVu Serif", serif' font-style="italic" font-size="27" letter-spacing="2.4" fill="#ff0000">thr</text>
<text x="492" y="953" font-family='"Liberation Serif", "DejaVu Serif", serif' font-style="italic" font-size="27.5" letter-spacing="6.4" fill="#ff0000">LHCD</text>
<text transform="translate(93.1,1223.8) scale(1,1.05)" text-anchor="middle" font-family='"Liberation Sans", Arial, Helvetica, sans-serif' font-size="30" fill="#000">0.5</text>
<text transform="translate(255.2,1223.8) scale(1,1.05)" text-anchor="middle" font-family='"Liberation Sans", Arial, Helvetica, sans-serif' font-size="30" fill="#000">0.6</text>
<text transform="translate(417.7,1223.8) scale(1,1.05)" text-anchor="middle" font-family='"Liberation Sans", Arial, Helvetica, sans-serif' font-size="30" fill="#000">0.7</text>
<text transform="translate(581.6,1223.8) scale(1,1.05)" text-anchor="middle" font-family='"Liberation Sans", Arial, Helvetica, sans-serif' font-size="30" fill="#000">0.8</text>
<text transform="translate(743.5,1223.8) scale(1,1.05)" text-anchor="middle" font-family='"Liberation Sans", Arial, Helvetica, sans-serif' font-size="30" fill="#000">0.9</text>
<text transform="translate(907.0,1223.8) scale(1,1.05)" text-anchor="middle" font-family='"Liberation Sans", Arial, Helvetica, sans-serif' font-size="30" fill="#000">1</text>
<text transform="translate(1069.1,1223.8) scale(1,1.05)" text-anchor="middle" font-family='"Liberation Sans", Arial, Helvetica, sans-serif' font-size="30" fill="#000">1.1</text>
<text transform="translate(1232.0,1223.8) scale(1,1.05)" text-anchor="middle" font-family='"Liberation Sans", Arial, Helvetica, sans-serif' font-size="30" fill="#000">1.2</text>
<text transform="translate(88.2,1180.6) scale(1,1.05)" text-anchor="end" font-family='"Liberation Sans", Arial, Helvetica, sans-serif' font-size="30" fill="#000">0</text>
<text transform="translate(88.2,1084.5) scale(1,1.05)" text-anchor="end" font-family='"Liberation Sans", Arial, Helvetica, sans-serif' font-size="30" fill="#000">0.2</text>
<text transform="translate(88.2,991.5) scale(1,1.05)" text-anchor="end" font-family='"Liberation Sans", Arial, Helvetica, sans-serif' font-size="30" fill="#000">0.4</text>
<text transform="translate(88.2,896.3) scale(1,1.05)" text-anchor="end" font-family='"Liberation Sans", Arial, Helvetica, sans-serif' font-size="30" fill="#000">0.6</text>
<text transform="translate(88.2,802.7) scale(1,1.05)" text-anchor="end" font-family='"Liberation Sans", Arial, Helvetica, sans-serif' font-size="30" fill="#000">0.8</text>
<text transform="translate(88.2,708.6) scale(1,1.05)" text-anchor="end" font-family='"Liberation Sans", Arial, Helvetica, sans-serif' font-size="30" fill="#000">1</text>
<text transform="translate(96.6,1164.3) scale(1,1.025)" font-family='"Liberation Sans", Arial, Helvetica, sans-serif' font-size="44" fill="#000">(b)</text>
<text x="562" y="1260" font-family='"Liberation Serif", "DejaVu Serif", serif' font-size="35" fill="#333333"><tspan font-style="italic">P</tspan><tspan font-style="italic" font-size="27" dy="4.5" dx="-1.5" letter-spacing="1.5">LHCD</tspan><tspan dy="-4.5" dx="11" font-size="36">(MW)</tspan></text>
<line x1="568.8" y1="1233.6" x2="581" y2="1233.6" stroke="#2a2a2a" stroke-width="1.5"/>
<text transform="translate(32.3,997) rotate(-90)" font-family='"Liberation Serif", "DejaVu Serif", serif' font-size="35" fill="#333333"><tspan font-style="italic">R</tspan><tspan font-style="italic" font-size="27" dy="5" dx="-1">t</tspan><tspan dy="-5" dx="9.5"> (a.u.)</tspan></text>
</g>
</svg>
</body>
</html>
